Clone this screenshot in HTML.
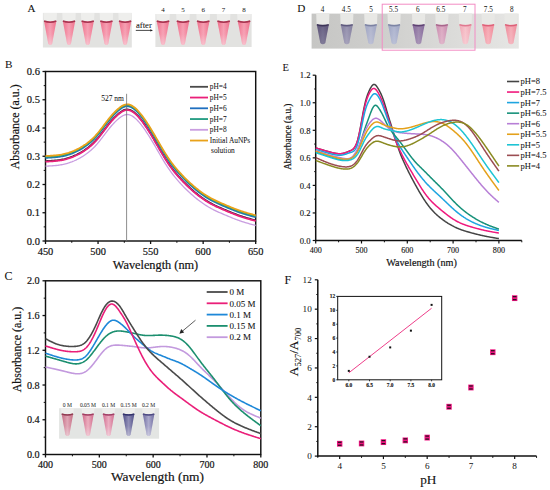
<!DOCTYPE html><html><head><meta charset="utf-8"><style>html,body{margin:0;padding:0;background:#fff;width:550px;height:490px;overflow:hidden}svg{display:block}text{stroke:#1a1a1a;stroke-width:0.2px}</style></head><body>
<svg width="550" height="490" viewBox="0 0 550 490" style="font-family:'Liberation Serif',serif">
<rect width="550" height="490" fill="#fff"/>
<defs><filter id="blr" x="-5%" y="-5%" width="110%" height="110%"><feGaussianBlur stdDeviation="0.55"/></filter></defs>
<g fill="#111">
<text x="27.6" y="12.2" font-size="11" text-anchor="start" style="stroke-width:0.05px" >A</text>
<text x="5" y="67.8" font-size="11.2" text-anchor="start" style="stroke-width:0.05px" >B</text>
<text x="4.5" y="280.2" font-size="12" text-anchor="start" style="stroke-width:0.05px" >C</text>
<text x="297.2" y="11.8" font-size="11.2" text-anchor="start" style="stroke-width:0.05px" >D</text>
<text x="282.5" y="70.9" font-size="10.5" text-anchor="start" style="stroke-width:0.05px" >E</text>
<text x="284.6" y="283.7" font-size="12" text-anchor="start" style="stroke-width:0.1px" >F</text>
</g>
<g filter="url(#blr)">
<rect x="42.9" y="12.9" width="88.9" height="34.6" fill="#e2e2e0"/>
<path d="M43.45,12.9 L56.95,12.9 L56.55,21.2 L43.85,21.2 Z" fill="#eeeeec"/>
<defs><linearGradient id="ga0" x1="0" y1="0" x2="1" y2="0"><stop offset="0" stop-color="#f06e8a"/><stop offset="0.5" stop-color="#f59cb0"/><stop offset="1" stop-color="#f06e8a"/></linearGradient><linearGradient id="ga0v" x1="0" y1="0" x2="0" y2="1"><stop offset="0" stop-color="#fff" stop-opacity="0"/><stop offset="0.55" stop-color="#fff" stop-opacity="0.08"/><stop offset="1" stop-color="#fff" stop-opacity="0.38"/></linearGradient></defs>
<path d="M44.05,21.2 L56.35,21.2 L52.1,43.7 Q50.2,46.1 48.3,43.7 Z" fill="url(#ga0)"/>
<path d="M44.05,21.2 L56.35,21.2 L52.1,43.7 Q50.2,46.1 48.3,43.7 Z" fill="url(#ga0v)"/>
<path d="M44.05,21 Q50.2,23.4 56.35,21" stroke="#a83450" stroke-width="1.4" fill="none"/>
<path d="M62.25,12.9 L75.75,12.9 L75.35,21.2 L62.65,21.2 Z" fill="#eeeeec"/>
<defs><linearGradient id="ga1" x1="0" y1="0" x2="1" y2="0"><stop offset="0" stop-color="#f06e8a"/><stop offset="0.5" stop-color="#f59cb0"/><stop offset="1" stop-color="#f06e8a"/></linearGradient><linearGradient id="ga1v" x1="0" y1="0" x2="0" y2="1"><stop offset="0" stop-color="#fff" stop-opacity="0"/><stop offset="0.55" stop-color="#fff" stop-opacity="0.08"/><stop offset="1" stop-color="#fff" stop-opacity="0.38"/></linearGradient></defs>
<path d="M62.85,21.2 L75.15,21.2 L70.9,43.7 Q69,46.1 67.1,43.7 Z" fill="url(#ga1)"/>
<path d="M62.85,21.2 L75.15,21.2 L70.9,43.7 Q69,46.1 67.1,43.7 Z" fill="url(#ga1v)"/>
<path d="M62.85,21 Q69,23.4 75.15,21" stroke="#a83450" stroke-width="1.4" fill="none"/>
<path d="M80.95,12.9 L94.45,12.9 L94.05,21.2 L81.35,21.2 Z" fill="#eeeeec"/>
<defs><linearGradient id="ga2" x1="0" y1="0" x2="1" y2="0"><stop offset="0" stop-color="#f06e8a"/><stop offset="0.5" stop-color="#f59cb0"/><stop offset="1" stop-color="#f06e8a"/></linearGradient><linearGradient id="ga2v" x1="0" y1="0" x2="0" y2="1"><stop offset="0" stop-color="#fff" stop-opacity="0"/><stop offset="0.55" stop-color="#fff" stop-opacity="0.08"/><stop offset="1" stop-color="#fff" stop-opacity="0.38"/></linearGradient></defs>
<path d="M81.55,21.2 L93.85,21.2 L89.6,43.7 Q87.7,46.1 85.8,43.7 Z" fill="url(#ga2)"/>
<path d="M81.55,21.2 L93.85,21.2 L89.6,43.7 Q87.7,46.1 85.8,43.7 Z" fill="url(#ga2v)"/>
<path d="M81.55,21 Q87.7,23.4 93.85,21" stroke="#a83450" stroke-width="1.4" fill="none"/>
<path d="M99.65,12.9 L113.15,12.9 L112.75,21.2 L100.05,21.2 Z" fill="#eeeeec"/>
<defs><linearGradient id="ga3" x1="0" y1="0" x2="1" y2="0"><stop offset="0" stop-color="#f06e8a"/><stop offset="0.5" stop-color="#f59cb0"/><stop offset="1" stop-color="#f06e8a"/></linearGradient><linearGradient id="ga3v" x1="0" y1="0" x2="0" y2="1"><stop offset="0" stop-color="#fff" stop-opacity="0"/><stop offset="0.55" stop-color="#fff" stop-opacity="0.08"/><stop offset="1" stop-color="#fff" stop-opacity="0.38"/></linearGradient></defs>
<path d="M100.25,21.2 L112.55,21.2 L108.3,43.7 Q106.4,46.1 104.5,43.7 Z" fill="url(#ga3)"/>
<path d="M100.25,21.2 L112.55,21.2 L108.3,43.7 Q106.4,46.1 104.5,43.7 Z" fill="url(#ga3v)"/>
<path d="M100.25,21 Q106.4,23.4 112.55,21" stroke="#a83450" stroke-width="1.4" fill="none"/>
<path d="M118.35,12.9 L131.85,12.9 L131.45,21.2 L118.75,21.2 Z" fill="#eeeeec"/>
<defs><linearGradient id="ga4" x1="0" y1="0" x2="1" y2="0"><stop offset="0" stop-color="#f06e8a"/><stop offset="0.5" stop-color="#f59cb0"/><stop offset="1" stop-color="#f06e8a"/></linearGradient><linearGradient id="ga4v" x1="0" y1="0" x2="0" y2="1"><stop offset="0" stop-color="#fff" stop-opacity="0"/><stop offset="0.55" stop-color="#fff" stop-opacity="0.08"/><stop offset="1" stop-color="#fff" stop-opacity="0.38"/></linearGradient></defs>
<path d="M118.95,21.2 L131.25,21.2 L127,43.7 Q125.1,46.1 123.2,43.7 Z" fill="url(#ga4)"/>
<path d="M118.95,21.2 L131.25,21.2 L127,43.7 Q125.1,46.1 123.2,43.7 Z" fill="url(#ga4v)"/>
<path d="M118.95,21 Q125.1,23.4 131.25,21" stroke="#a83450" stroke-width="1.4" fill="none"/>
<rect x="155.4" y="14" width="96.2" height="33" fill="#e2e2e0"/>
<path d="M156.15,14 L169.85,14 L169.45,21.2 L156.55,21.2 Z" fill="#eeeeec"/>
<defs><linearGradient id="gb0" x1="0" y1="0" x2="1" y2="0"><stop offset="0" stop-color="#f06e8a"/><stop offset="0.5" stop-color="#f59cb0"/><stop offset="1" stop-color="#f06e8a"/></linearGradient><linearGradient id="gb0v" x1="0" y1="0" x2="0" y2="1"><stop offset="0" stop-color="#fff" stop-opacity="0"/><stop offset="0.55" stop-color="#fff" stop-opacity="0.08"/><stop offset="1" stop-color="#fff" stop-opacity="0.38"/></linearGradient></defs>
<path d="M156.75,21.2 L169.25,21.2 L164.9,43.7 Q163,46.1 161.1,43.7 Z" fill="url(#gb0)"/>
<path d="M156.75,21.2 L169.25,21.2 L164.9,43.7 Q163,46.1 161.1,43.7 Z" fill="url(#gb0v)"/>
<path d="M156.75,21 Q163,23.4 169.25,21" stroke="#a83450" stroke-width="1.4" fill="none"/>
<path d="M176.15,14 L189.85,14 L189.45,21.2 L176.55,21.2 Z" fill="#eeeeec"/>
<defs><linearGradient id="gb1" x1="0" y1="0" x2="1" y2="0"><stop offset="0" stop-color="#f06e8a"/><stop offset="0.5" stop-color="#f59cb0"/><stop offset="1" stop-color="#f06e8a"/></linearGradient><linearGradient id="gb1v" x1="0" y1="0" x2="0" y2="1"><stop offset="0" stop-color="#fff" stop-opacity="0"/><stop offset="0.55" stop-color="#fff" stop-opacity="0.08"/><stop offset="1" stop-color="#fff" stop-opacity="0.38"/></linearGradient></defs>
<path d="M176.75,21.2 L189.25,21.2 L184.9,43.7 Q183,46.1 181.1,43.7 Z" fill="url(#gb1)"/>
<path d="M176.75,21.2 L189.25,21.2 L184.9,43.7 Q183,46.1 181.1,43.7 Z" fill="url(#gb1v)"/>
<path d="M176.75,21 Q183,23.4 189.25,21" stroke="#a83450" stroke-width="1.4" fill="none"/>
<path d="M196.35,14 L210.05,14 L209.65,21.2 L196.75,21.2 Z" fill="#eeeeec"/>
<defs><linearGradient id="gb2" x1="0" y1="0" x2="1" y2="0"><stop offset="0" stop-color="#f06e8a"/><stop offset="0.5" stop-color="#f59cb0"/><stop offset="1" stop-color="#f06e8a"/></linearGradient><linearGradient id="gb2v" x1="0" y1="0" x2="0" y2="1"><stop offset="0" stop-color="#fff" stop-opacity="0"/><stop offset="0.55" stop-color="#fff" stop-opacity="0.08"/><stop offset="1" stop-color="#fff" stop-opacity="0.38"/></linearGradient></defs>
<path d="M196.95,21.2 L209.45,21.2 L205.1,43.7 Q203.2,46.1 201.3,43.7 Z" fill="url(#gb2)"/>
<path d="M196.95,21.2 L209.45,21.2 L205.1,43.7 Q203.2,46.1 201.3,43.7 Z" fill="url(#gb2v)"/>
<path d="M196.95,21 Q203.2,23.4 209.45,21" stroke="#a83450" stroke-width="1.4" fill="none"/>
<path d="M216.75,14 L230.45,14 L230.05,21.2 L217.15,21.2 Z" fill="#eeeeec"/>
<defs><linearGradient id="gb3" x1="0" y1="0" x2="1" y2="0"><stop offset="0" stop-color="#f06e8a"/><stop offset="0.5" stop-color="#f59cb0"/><stop offset="1" stop-color="#f06e8a"/></linearGradient><linearGradient id="gb3v" x1="0" y1="0" x2="0" y2="1"><stop offset="0" stop-color="#fff" stop-opacity="0"/><stop offset="0.55" stop-color="#fff" stop-opacity="0.08"/><stop offset="1" stop-color="#fff" stop-opacity="0.38"/></linearGradient></defs>
<path d="M217.35,21.2 L229.85,21.2 L225.5,43.7 Q223.6,46.1 221.7,43.7 Z" fill="url(#gb3)"/>
<path d="M217.35,21.2 L229.85,21.2 L225.5,43.7 Q223.6,46.1 221.7,43.7 Z" fill="url(#gb3v)"/>
<path d="M217.35,21 Q223.6,23.4 229.85,21" stroke="#a83450" stroke-width="1.4" fill="none"/>
<path d="M237.15,14 L250.85,14 L250.45,21.2 L237.55,21.2 Z" fill="#eeeeec"/>
<defs><linearGradient id="gb4" x1="0" y1="0" x2="1" y2="0"><stop offset="0" stop-color="#f06e8a"/><stop offset="0.5" stop-color="#f59cb0"/><stop offset="1" stop-color="#f06e8a"/></linearGradient><linearGradient id="gb4v" x1="0" y1="0" x2="0" y2="1"><stop offset="0" stop-color="#fff" stop-opacity="0"/><stop offset="0.55" stop-color="#fff" stop-opacity="0.08"/><stop offset="1" stop-color="#fff" stop-opacity="0.38"/></linearGradient></defs>
<path d="M237.75,21.2 L250.25,21.2 L245.9,43.7 Q244,46.1 242.1,43.7 Z" fill="url(#gb4)"/>
<path d="M237.75,21.2 L250.25,21.2 L245.9,43.7 Q244,46.1 242.1,43.7 Z" fill="url(#gb4v)"/>
<path d="M237.75,21 Q244,23.4 250.25,21" stroke="#a83450" stroke-width="1.4" fill="none"/>
</g>
<g fill="#111">
<text x="143.9" y="27.6" font-size="8.6" text-anchor="middle" style="stroke-width:0.05px" >after</text>
<text x="163" y="12.2" font-size="7" text-anchor="middle" style="stroke-width:0px" >4</text>
<text x="183" y="12.2" font-size="7" text-anchor="middle" style="stroke-width:0px" >5</text>
<text x="203.2" y="12.2" font-size="7" text-anchor="middle" style="stroke-width:0px" >6</text>
<text x="223.6" y="12.2" font-size="7" text-anchor="middle" style="stroke-width:0px" >7</text>
<text x="244" y="12.2" font-size="7" text-anchor="middle" style="stroke-width:0px" >8</text>
</g>
<line x1="135.8" y1="30.4" x2="151.5" y2="30.4" stroke="#333" stroke-width="0.9"/>
<path d="M150.3,29.2 L153,30.4 L150.3,31.6 Z" fill="#222"/>
<defs><linearGradient id="dbg" x1="0" y1="0" x2="1" y2="0"><stop offset="0" stop-color="#c6c6c4"/><stop offset="0.35" stop-color="#cfcfcd"/><stop offset="0.65" stop-color="#dadad8"/><stop offset="1" stop-color="#e6e6e4"/></linearGradient></defs>
<g filter="url(#blr)">
<rect x="311.6" y="13.6" width="207.2" height="35" fill="url(#dbg)"/>
<path d="M316.2,13.6 L329.4,13.6 L329,24.8 L316.6,24.8 Z" fill="#e8e8e5"/>
<defs><linearGradient id="gd0" x1="0" y1="0" x2="1" y2="0"><stop offset="0" stop-color="#5c5276"/><stop offset="0.5" stop-color="#6c6688"/><stop offset="1" stop-color="#5c5276"/></linearGradient><linearGradient id="gd0v" x1="0" y1="0" x2="0" y2="1"><stop offset="0" stop-color="#fff" stop-opacity="0"/><stop offset="0.55" stop-color="#fff" stop-opacity="0.08"/><stop offset="1" stop-color="#fff" stop-opacity="0.15"/></linearGradient></defs>
<path d="M316.8,24.8 L328.8,24.8 L325.3,43 Q322.8,45.4 320.3,43 Z" fill="url(#gd0)"/>
<path d="M316.8,24.8 L328.8,24.8 L325.3,43 Q322.8,45.4 320.3,43 Z" fill="url(#gd0v)"/>
<path d="M316.8,24.6 Q322.8,27 328.8,24.6" stroke="#3e3458" stroke-width="1.4" fill="none"/>
<path d="M340.2,13.6 L353.4,13.6 L353,24.8 L340.6,24.8 Z" fill="#e8e8e5"/>
<defs><linearGradient id="gd1" x1="0" y1="0" x2="1" y2="0"><stop offset="0" stop-color="#817c9c"/><stop offset="0.5" stop-color="#9894b0"/><stop offset="1" stop-color="#817c9c"/></linearGradient><linearGradient id="gd1v" x1="0" y1="0" x2="0" y2="1"><stop offset="0" stop-color="#fff" stop-opacity="0"/><stop offset="0.55" stop-color="#fff" stop-opacity="0.08"/><stop offset="1" stop-color="#fff" stop-opacity="0.15"/></linearGradient></defs>
<path d="M340.8,24.8 L352.8,24.8 L349.3,43 Q346.8,45.4 344.3,43 Z" fill="url(#gd1)"/>
<path d="M340.8,24.8 L352.8,24.8 L349.3,43 Q346.8,45.4 344.3,43 Z" fill="url(#gd1v)"/>
<path d="M340.8,24.6 Q346.8,27 352.8,24.6" stroke="#5f5a7e" stroke-width="1.4" fill="none"/>
<path d="M364.2,13.6 L377.4,13.6 L377,24.8 L364.6,24.8 Z" fill="#e8e8e5"/>
<defs><linearGradient id="gd2" x1="0" y1="0" x2="1" y2="0"><stop offset="0" stop-color="#9ea4c2"/><stop offset="0.5" stop-color="#b2b6ce"/><stop offset="1" stop-color="#9ea4c2"/></linearGradient><linearGradient id="gd2v" x1="0" y1="0" x2="0" y2="1"><stop offset="0" stop-color="#fff" stop-opacity="0"/><stop offset="0.55" stop-color="#fff" stop-opacity="0.08"/><stop offset="1" stop-color="#fff" stop-opacity="0.15"/></linearGradient></defs>
<path d="M364.8,24.8 L376.8,24.8 L373.3,43 Q370.8,45.4 368.3,43 Z" fill="url(#gd2)"/>
<path d="M364.8,24.8 L376.8,24.8 L373.3,43 Q370.8,45.4 368.3,43 Z" fill="url(#gd2v)"/>
<path d="M364.8,24.6 Q370.8,27 376.8,24.6" stroke="#7c82a2" stroke-width="1.4" fill="none"/>
<path d="M387.5,13.6 L400.7,13.6 L400.3,24.8 L387.9,24.8 Z" fill="#e8e8e5"/>
<defs><linearGradient id="gd3" x1="0" y1="0" x2="1" y2="0"><stop offset="0" stop-color="#9ca4c2"/><stop offset="0.5" stop-color="#b0b6d0"/><stop offset="1" stop-color="#9ca4c2"/></linearGradient><linearGradient id="gd3v" x1="0" y1="0" x2="0" y2="1"><stop offset="0" stop-color="#fff" stop-opacity="0"/><stop offset="0.55" stop-color="#fff" stop-opacity="0.08"/><stop offset="1" stop-color="#fff" stop-opacity="0.15"/></linearGradient></defs>
<path d="M388.1,24.8 L400.1,24.8 L396.6,43 Q394.1,45.4 391.6,43 Z" fill="url(#gd3)"/>
<path d="M388.1,24.8 L400.1,24.8 L396.6,43 Q394.1,45.4 391.6,43 Z" fill="url(#gd3v)"/>
<path d="M388.1,24.6 Q394.1,27 400.1,24.6" stroke="#7c84a4" stroke-width="1.4" fill="none"/>
<path d="M412,13.6 L425.2,13.6 L424.8,24.8 L412.4,24.8 Z" fill="#e8e8e5"/>
<defs><linearGradient id="gd4" x1="0" y1="0" x2="1" y2="0"><stop offset="0" stop-color="#84669a"/><stop offset="0.5" stop-color="#9a84aa"/><stop offset="1" stop-color="#84669a"/></linearGradient><linearGradient id="gd4v" x1="0" y1="0" x2="0" y2="1"><stop offset="0" stop-color="#fff" stop-opacity="0"/><stop offset="0.55" stop-color="#fff" stop-opacity="0.08"/><stop offset="1" stop-color="#fff" stop-opacity="0.15"/></linearGradient></defs>
<path d="M412.6,24.8 L424.6,24.8 L421.1,43 Q418.6,45.4 416.1,43 Z" fill="url(#gd4)"/>
<path d="M412.6,24.8 L424.6,24.8 L421.1,43 Q418.6,45.4 416.1,43 Z" fill="url(#gd4v)"/>
<path d="M412.6,24.6 Q418.6,27 424.6,24.6" stroke="#5e4272" stroke-width="1.4" fill="none"/>
<path d="M435.3,13.6 L448.5,13.6 L448.1,24.8 L435.7,24.8 Z" fill="#e8e8e5"/>
<defs><linearGradient id="gd5" x1="0" y1="0" x2="1" y2="0"><stop offset="0" stop-color="#c88aae"/><stop offset="0.5" stop-color="#dcaac2"/><stop offset="1" stop-color="#c88aae"/></linearGradient><linearGradient id="gd5v" x1="0" y1="0" x2="0" y2="1"><stop offset="0" stop-color="#fff" stop-opacity="0"/><stop offset="0.55" stop-color="#fff" stop-opacity="0.08"/><stop offset="1" stop-color="#fff" stop-opacity="0.15"/></linearGradient></defs>
<path d="M435.9,24.8 L447.9,24.8 L444.4,43 Q441.9,45.4 439.4,43 Z" fill="url(#gd5)"/>
<path d="M435.9,24.8 L447.9,24.8 L444.4,43 Q441.9,45.4 439.4,43 Z" fill="url(#gd5v)"/>
<path d="M435.9,24.6 Q441.9,27 447.9,24.6" stroke="#a8668c" stroke-width="1.4" fill="none"/>
<path d="M458.8,13.6 L472,13.6 L471.6,24.8 L459.2,24.8 Z" fill="#e8e8e5"/>
<defs><linearGradient id="gd6" x1="0" y1="0" x2="1" y2="0"><stop offset="0" stop-color="#f0a6b4"/><stop offset="0.5" stop-color="#f6c2ca"/><stop offset="1" stop-color="#f0a6b4"/></linearGradient><linearGradient id="gd6v" x1="0" y1="0" x2="0" y2="1"><stop offset="0" stop-color="#fff" stop-opacity="0"/><stop offset="0.55" stop-color="#fff" stop-opacity="0.08"/><stop offset="1" stop-color="#fff" stop-opacity="0.15"/></linearGradient></defs>
<path d="M459.4,24.8 L471.4,24.8 L467.9,43 Q465.4,45.4 462.9,43 Z" fill="url(#gd6)"/>
<path d="M459.4,24.8 L471.4,24.8 L467.9,43 Q465.4,45.4 462.9,43 Z" fill="url(#gd6v)"/>
<path d="M459.4,24.6 Q465.4,27 471.4,24.6" stroke="#e07890" stroke-width="1.4" fill="none"/>
<path d="M481.6,13.6 L494.8,13.6 L494.4,24.8 L482,24.8 Z" fill="#e8e8e5"/>
<defs><linearGradient id="gd7" x1="0" y1="0" x2="1" y2="0"><stop offset="0" stop-color="#f08696"/><stop offset="0.5" stop-color="#f6aab4"/><stop offset="1" stop-color="#f08696"/></linearGradient><linearGradient id="gd7v" x1="0" y1="0" x2="0" y2="1"><stop offset="0" stop-color="#fff" stop-opacity="0"/><stop offset="0.55" stop-color="#fff" stop-opacity="0.08"/><stop offset="1" stop-color="#fff" stop-opacity="0.15"/></linearGradient></defs>
<path d="M482.2,24.8 L494.2,24.8 L490.7,43 Q488.2,45.4 485.7,43 Z" fill="url(#gd7)"/>
<path d="M482.2,24.8 L494.2,24.8 L490.7,43 Q488.2,45.4 485.7,43 Z" fill="url(#gd7v)"/>
<path d="M482.2,24.6 Q488.2,27 494.2,24.6" stroke="#de6078" stroke-width="1.4" fill="none"/>
<path d="M504.4,13.6 L517.6,13.6 L517.2,24.8 L504.8,24.8 Z" fill="#e8e8e5"/>
<defs><linearGradient id="gd8" x1="0" y1="0" x2="1" y2="0"><stop offset="0" stop-color="#ee8898"/><stop offset="0.5" stop-color="#f4acb6"/><stop offset="1" stop-color="#ee8898"/></linearGradient><linearGradient id="gd8v" x1="0" y1="0" x2="0" y2="1"><stop offset="0" stop-color="#fff" stop-opacity="0"/><stop offset="0.55" stop-color="#fff" stop-opacity="0.08"/><stop offset="1" stop-color="#fff" stop-opacity="0.15"/></linearGradient></defs>
<path d="M505,24.8 L517,24.8 L513.5,43 Q511,45.4 508.5,43 Z" fill="url(#gd8)"/>
<path d="M505,24.8 L517,24.8 L513.5,43 Q511,45.4 508.5,43 Z" fill="url(#gd8v)"/>
<path d="M505,24.6 Q511,27 517,24.6" stroke="#dc6078" stroke-width="1.4" fill="none"/>
</g>
<rect x="382.2" y="4.2" width="92.8" height="46" fill="none" stroke="#f38cc4" stroke-width="1"/>
<g fill="#111">
<text x="322.6" y="11.8" font-size="7.2" text-anchor="middle" style="stroke-width:0px" >4</text>
<text x="346.3" y="11.8" font-size="7.2" text-anchor="middle" style="stroke-width:0px" >4.5</text>
<text x="371" y="11.8" font-size="7.2" text-anchor="middle" style="stroke-width:0px" >5</text>
<text x="393.5" y="11.8" font-size="7.2" text-anchor="middle" style="stroke-width:0px" >5.5</text>
<text x="417.9" y="11.8" font-size="7.2" text-anchor="middle" style="stroke-width:0px" >6</text>
<text x="440.8" y="11.8" font-size="7.2" text-anchor="middle" style="stroke-width:0px" >6.5</text>
<text x="464.8" y="11.8" font-size="7.2" text-anchor="middle" style="stroke-width:0px" >7</text>
<text x="488.3" y="11.8" font-size="7.2" text-anchor="middle" style="stroke-width:0px" >7.5</text>
<text x="511.8" y="11.8" font-size="7.2" text-anchor="middle" style="stroke-width:0px" >8</text>
</g>
<rect x="45.5" y="71.5" width="210.2" height="169.5" fill="none" stroke="#111" stroke-width="1.45"/>
<g fill="#111">
<line x1="42.5" y1="241" x2="45.5" y2="241" stroke="#111" stroke-width="1.3"/>
<text x="39.9" y="244.6" font-size="10.5" text-anchor="end" style="stroke-width:0.2px" >0.0</text>
<line x1="42.5" y1="212.75" x2="45.5" y2="212.75" stroke="#111" stroke-width="1.3"/>
<text x="39.9" y="216.35" font-size="10.5" text-anchor="end" style="stroke-width:0.2px" >0.1</text>
<line x1="42.5" y1="184.5" x2="45.5" y2="184.5" stroke="#111" stroke-width="1.3"/>
<text x="39.9" y="188.1" font-size="10.5" text-anchor="end" style="stroke-width:0.2px" >0.2</text>
<line x1="42.5" y1="156.25" x2="45.5" y2="156.25" stroke="#111" stroke-width="1.3"/>
<text x="39.9" y="159.85" font-size="10.5" text-anchor="end" style="stroke-width:0.2px" >0.3</text>
<line x1="42.5" y1="128" x2="45.5" y2="128" stroke="#111" stroke-width="1.3"/>
<text x="39.9" y="131.6" font-size="10.5" text-anchor="end" style="stroke-width:0.2px" >0.4</text>
<line x1="42.5" y1="99.75" x2="45.5" y2="99.75" stroke="#111" stroke-width="1.3"/>
<text x="39.9" y="103.35" font-size="10.5" text-anchor="end" style="stroke-width:0.2px" >0.5</text>
<line x1="42.5" y1="71.5" x2="45.5" y2="71.5" stroke="#111" stroke-width="1.3"/>
<text x="39.9" y="75.1" font-size="10.5" text-anchor="end" style="stroke-width:0.2px" >0.6</text>
<line x1="45.5" y1="226.88" x2="43.7" y2="226.88" stroke="#111" stroke-width="1"/>
<line x1="45.5" y1="198.62" x2="43.7" y2="198.62" stroke="#111" stroke-width="1"/>
<line x1="45.5" y1="170.38" x2="43.7" y2="170.38" stroke="#111" stroke-width="1"/>
<line x1="45.5" y1="142.12" x2="43.7" y2="142.12" stroke="#111" stroke-width="1"/>
<line x1="45.5" y1="113.88" x2="43.7" y2="113.88" stroke="#111" stroke-width="1"/>
<line x1="45.5" y1="85.62" x2="43.7" y2="85.62" stroke="#111" stroke-width="1"/>
<line x1="45.5" y1="241" x2="45.5" y2="244" stroke="#111" stroke-width="1.3"/>
<text x="45.5" y="254.8" font-size="10.4" text-anchor="middle" style="stroke-width:0.2px" >450</text>
<line x1="98.05" y1="241" x2="98.05" y2="244" stroke="#111" stroke-width="1.3"/>
<text x="98.05" y="254.8" font-size="10.4" text-anchor="middle" style="stroke-width:0.2px" >500</text>
<line x1="150.6" y1="241" x2="150.6" y2="244" stroke="#111" stroke-width="1.3"/>
<text x="150.6" y="254.8" font-size="10.4" text-anchor="middle" style="stroke-width:0.2px" >550</text>
<line x1="203.15" y1="241" x2="203.15" y2="244" stroke="#111" stroke-width="1.3"/>
<text x="203.15" y="254.8" font-size="10.4" text-anchor="middle" style="stroke-width:0.2px" >600</text>
<line x1="255.7" y1="241" x2="255.7" y2="244" stroke="#111" stroke-width="1.3"/>
<text x="255.7" y="254.8" font-size="10.4" text-anchor="middle" style="stroke-width:0.2px" >650</text>
<line x1="71.78" y1="241" x2="71.78" y2="242.8" stroke="#111" stroke-width="1"/>
<line x1="124.32" y1="241" x2="124.32" y2="242.8" stroke="#111" stroke-width="1"/>
<line x1="176.88" y1="241" x2="176.88" y2="242.8" stroke="#111" stroke-width="1"/>
<line x1="229.42" y1="241" x2="229.42" y2="242.8" stroke="#111" stroke-width="1"/>
<text x="155.5" y="268.9" font-size="12.3" text-anchor="middle">Wavelength (nm)</text>
<text transform="translate(19.4,126.8) rotate(-90)" font-size="11.9" text-anchor="middle">Absorbance (a.u.)</text>
</g>
<path d="M45.5,166.21 L46.55,166.14 L47.6,166.08 L48.65,166.02 L49.7,165.96 L50.76,165.9 L51.81,165.83 L52.86,165.76 L53.91,165.68 L54.96,165.59 L56.01,165.49 L57.06,165.37 L58.11,165.25 L59.16,165.1 L60.21,164.94 L61.27,164.76 L62.32,164.57 L63.37,164.35 L64.42,164.11 L65.47,163.85 L66.52,163.57 L67.57,163.27 L68.62,162.95 L69.67,162.6 L70.72,162.23 L71.78,161.84 L72.83,161.42 L73.88,160.99 L74.93,160.52 L75.98,160.04 L77.03,159.53 L78.08,159 L79.13,158.45 L80.18,157.87 L81.23,157.27 L82.28,156.64 L83.34,155.98 L84.39,155.29 L85.44,154.58 L86.49,153.83 L87.54,153.04 L88.59,152.22 L89.64,151.37 L90.69,150.47 L91.74,149.53 L92.8,148.54 L93.85,147.51 L94.9,146.43 L95.95,145.3 L97,144.13 L98.05,142.9 L99.1,141.63 L100.15,140.32 L101.2,138.97 L102.25,137.59 L103.31,136.2 L104.36,134.8 L105.41,133.4 L106.46,132.02 L107.51,130.65 L108.56,129.32 L109.61,128.02 L110.66,126.76 L111.71,125.55 L112.76,124.38 L113.81,123.25 L114.87,122.16 L115.92,121.12 L116.97,120.12 L118.02,119.18 L119.07,118.29 L120.12,117.46 L121.17,116.71 L122.22,116.05 L123.27,115.5 L124.32,115.05 L125.38,114.74 L126.43,114.56 L127.48,114.52 L128.53,114.63 L129.58,114.87 L130.63,115.25 L131.68,115.76 L132.73,116.38 L133.78,117.12 L134.83,117.95 L135.89,118.88 L136.94,119.9 L137.99,120.99 L139.04,122.16 L140.09,123.4 L141.14,124.7 L142.19,126.06 L143.24,127.47 L144.29,128.94 L145.34,130.46 L146.4,132.02 L147.45,133.62 L148.5,135.26 L149.55,136.93 L150.6,138.63 L151.65,140.37 L152.7,142.12 L153.75,143.9 L154.8,145.7 L155.86,147.51 L156.91,149.33 L157.96,151.15 L159.01,152.97 L160.06,154.78 L161.11,156.58 L162.16,158.36 L163.21,160.12 L164.26,161.85 L165.31,163.55 L166.36,165.21 L167.42,166.82 L168.47,168.4 L169.52,169.93 L170.57,171.41 L171.62,172.85 L172.67,174.25 L173.72,175.6 L174.77,176.92 L175.82,178.2 L176.88,179.45 L177.93,180.66 L178.98,181.85 L180.03,183.01 L181.08,184.15 L182.13,185.26 L183.18,186.35 L184.23,187.43 L185.28,188.48 L186.33,189.52 L187.38,190.54 L188.44,191.54 L189.49,192.52 L190.54,193.48 L191.59,194.43 L192.64,195.36 L193.69,196.27 L194.74,197.15 L195.79,198.03 L196.84,198.88 L197.89,199.71 L198.95,200.52 L200,201.31 L201.05,202.09 L202.1,202.84 L203.15,203.57 L204.2,204.29 L205.25,204.98 L206.3,205.65 L207.35,206.3 L208.41,206.94 L209.46,207.55 L210.51,208.14 L211.56,208.71 L212.61,209.27 L213.66,209.81 L214.71,210.33 L215.76,210.84 L216.81,211.33 L217.86,211.82 L218.91,212.29 L219.97,212.76 L221.02,213.21 L222.07,213.67 L223.12,214.12 L224.17,214.56 L225.22,215.01 L226.27,215.45 L227.32,215.89 L228.37,216.33 L229.42,216.77 L230.48,217.2 L231.53,217.63 L232.58,218.06 L233.63,218.48 L234.68,218.89 L235.73,219.3 L236.78,219.7 L237.83,220.08 L238.88,220.46 L239.94,220.83 L240.99,221.19 L242.04,221.54 L243.09,221.88 L244.14,222.21 L245.19,222.53 L246.24,222.85 L247.29,223.16 L248.34,223.46 L249.39,223.76 L250.44,224.05 L251.5,224.34 L252.55,224.63 L253.6,224.92 L254.65,225.21 L255.7,225.5" fill="none" stroke="#c99de0" stroke-width="1.3"/>
<path d="M45.5,161.12 L46.55,161.05 L47.6,160.99 L48.65,160.93 L49.7,160.87 L50.76,160.81 L51.81,160.75 L52.86,160.68 L53.91,160.6 L54.96,160.51 L56.01,160.4 L57.06,160.29 L58.11,160.16 L59.16,160.02 L60.21,159.86 L61.27,159.68 L62.32,159.48 L63.37,159.26 L64.42,159.03 L65.47,158.77 L66.52,158.49 L67.57,158.18 L68.62,157.86 L69.67,157.51 L70.72,157.14 L71.78,156.75 L72.83,156.34 L73.88,155.9 L74.93,155.44 L75.98,154.96 L77.03,154.45 L78.08,153.92 L79.13,153.36 L80.18,152.79 L81.23,152.18 L82.28,151.55 L83.34,150.89 L84.39,150.21 L85.44,149.49 L86.49,148.74 L87.54,147.96 L88.59,147.14 L89.64,146.28 L90.69,145.38 L91.74,144.44 L92.8,143.46 L93.85,142.42 L94.9,141.35 L95.95,140.22 L97,139.04 L98.05,137.82 L99.1,136.54 L100.15,135.23 L101.2,133.88 L102.25,132.51 L103.31,131.12 L104.36,129.71 L105.41,128.32 L106.46,126.93 L107.51,125.57 L108.56,124.23 L109.61,122.94 L110.66,121.68 L111.71,120.46 L112.76,119.29 L113.81,118.16 L114.87,117.07 L115.92,116.03 L116.97,115.04 L118.02,114.09 L119.07,113.2 L120.12,112.38 L121.17,111.63 L122.22,110.97 L123.27,110.41 L124.32,109.97 L125.38,109.66 L126.43,109.48 L127.48,109.44 L128.53,109.54 L129.58,109.79 L130.63,110.17 L131.68,110.67 L132.73,111.3 L133.78,112.03 L134.83,112.87 L135.89,113.8 L136.94,114.81 L137.99,115.91 L139.04,117.07 L140.09,118.31 L141.14,119.61 L142.19,120.97 L143.24,122.39 L144.29,123.86 L145.34,125.37 L146.4,126.93 L147.45,128.53 L148.5,130.17 L149.55,131.84 L150.6,133.55 L151.65,135.28 L152.7,137.04 L153.75,138.82 L154.8,140.62 L155.86,142.42 L156.91,144.24 L157.96,146.06 L159.01,147.88 L160.06,149.7 L161.11,151.5 L162.16,153.28 L163.21,155.04 L164.26,156.77 L165.31,158.46 L166.36,160.12 L167.42,161.74 L168.47,163.31 L169.52,164.84 L170.57,166.33 L171.62,167.77 L172.67,169.16 L173.72,170.52 L174.77,171.84 L175.82,173.12 L176.88,174.36 L177.93,175.58 L178.98,176.76 L180.03,177.92 L181.08,179.06 L182.13,180.17 L183.18,181.27 L184.23,182.34 L185.28,183.4 L186.33,184.43 L187.38,185.45 L188.44,186.45 L189.49,187.44 L190.54,188.4 L191.59,189.35 L192.64,190.27 L193.69,191.18 L194.74,192.07 L195.79,192.94 L196.84,193.79 L197.89,194.62 L198.95,195.44 L200,196.23 L201.05,197 L202.1,197.76 L203.15,198.49 L204.2,199.2 L205.25,199.9 L206.3,200.57 L207.35,201.22 L208.41,201.85 L209.46,202.46 L210.51,203.06 L211.56,203.63 L212.61,204.18 L213.66,204.72 L214.71,205.25 L215.76,205.75 L216.81,206.25 L217.86,206.73 L218.91,207.2 L219.97,207.67 L221.02,208.13 L222.07,208.58 L223.12,209.03 L224.17,209.48 L225.22,209.92 L226.27,210.36 L227.32,210.81 L228.37,211.25 L229.42,211.68 L230.48,212.12 L231.53,212.55 L232.58,212.97 L233.63,213.39 L234.68,213.81 L235.73,214.21 L236.78,214.61 L237.83,215 L238.88,215.38 L239.94,215.75 L240.99,216.11 L242.04,216.46 L243.09,216.8 L244.14,217.13 L245.19,217.45 L246.24,217.76 L247.29,218.07 L248.34,218.37 L249.39,218.67 L250.44,218.96 L251.5,219.25 L252.55,219.54 L253.6,219.83 L254.65,220.12 L255.7,220.41" fill="none" stroke="#2e2e2e" stroke-width="1.8"/>
<path d="M45.5,161.69 L46.55,161.62 L47.6,161.56 L48.65,161.5 L49.7,161.44 L50.76,161.38 L51.81,161.31 L52.86,161.24 L53.91,161.16 L54.96,161.07 L56.01,160.97 L57.06,160.85 L58.11,160.73 L59.16,160.58 L60.21,160.42 L61.27,160.24 L62.32,160.05 L63.37,159.83 L64.42,159.59 L65.47,159.33 L66.52,159.05 L67.57,158.75 L68.62,158.43 L69.67,158.08 L70.72,157.71 L71.78,157.32 L72.83,156.9 L73.88,156.47 L74.93,156 L75.98,155.52 L77.03,155.01 L78.08,154.48 L79.13,153.93 L80.18,153.35 L81.23,152.75 L82.28,152.12 L83.34,151.46 L84.39,150.77 L85.44,150.06 L86.49,149.31 L87.54,148.52 L88.59,147.7 L89.64,146.85 L90.69,145.95 L91.74,145.01 L92.8,144.02 L93.85,142.99 L94.9,141.91 L95.95,140.78 L97,139.61 L98.05,138.38 L99.1,137.11 L100.15,135.8 L101.2,134.45 L102.25,133.07 L103.31,131.68 L104.36,130.28 L105.41,128.88 L106.46,127.5 L107.51,126.13 L108.56,124.8 L109.61,123.5 L110.66,122.24 L111.71,121.03 L112.76,119.86 L113.81,118.73 L114.87,117.64 L115.92,116.6 L116.97,115.6 L118.02,114.66 L119.07,113.77 L120.12,112.94 L121.17,112.19 L122.22,111.53 L123.27,110.98 L124.32,110.53 L125.38,110.22 L126.43,110.04 L127.48,110 L128.53,110.11 L129.58,110.35 L130.63,110.73 L131.68,111.24 L132.73,111.86 L133.78,112.6 L134.83,113.43 L135.89,114.36 L136.94,115.38 L137.99,116.47 L139.04,117.64 L140.09,118.88 L141.14,120.18 L142.19,121.54 L143.24,122.95 L144.29,124.42 L145.34,125.94 L146.4,127.5 L147.45,129.1 L148.5,130.74 L149.55,132.41 L150.6,134.11 L151.65,135.85 L152.7,137.6 L153.75,139.38 L154.8,141.18 L155.86,142.99 L156.91,144.81 L157.96,146.63 L159.01,148.45 L160.06,150.26 L161.11,152.06 L162.16,153.84 L163.21,155.6 L164.26,157.33 L165.31,159.03 L166.36,160.69 L167.42,162.3 L168.47,163.88 L169.52,165.41 L170.57,166.89 L171.62,168.33 L172.67,169.73 L173.72,171.08 L174.77,172.4 L175.82,173.68 L176.88,174.93 L177.93,176.14 L178.98,177.33 L180.03,178.49 L181.08,179.63 L182.13,180.74 L183.18,181.83 L184.23,182.91 L185.28,183.96 L186.33,185 L187.38,186.02 L188.44,187.02 L189.49,188 L190.54,188.96 L191.59,189.91 L192.64,190.84 L193.69,191.75 L194.74,192.63 L195.79,193.51 L196.84,194.36 L197.89,195.19 L198.95,196 L200,196.79 L201.05,197.57 L202.1,198.32 L203.15,199.05 L204.2,199.77 L205.25,200.46 L206.3,201.13 L207.35,201.78 L208.41,202.42 L209.46,203.03 L210.51,203.62 L211.56,204.19 L212.61,204.75 L213.66,205.29 L214.71,205.81 L215.76,206.32 L216.81,206.81 L217.86,207.3 L218.91,207.77 L219.97,208.24 L221.02,208.69 L222.07,209.15 L223.12,209.6 L224.17,210.04 L225.22,210.49 L226.27,210.93 L227.32,211.37 L228.37,211.81 L229.42,212.25 L230.48,212.68 L231.53,213.11 L232.58,213.54 L233.63,213.96 L234.68,214.37 L235.73,214.78 L236.78,215.18 L237.83,215.56 L238.88,215.94 L239.94,216.31 L240.99,216.67 L242.04,217.02 L243.09,217.36 L244.14,217.69 L245.19,218.01 L246.24,218.33 L247.29,218.64 L248.34,218.94 L249.39,219.24 L250.44,219.53 L251.5,219.82 L252.55,220.11 L253.6,220.4 L254.65,220.69 L255.7,220.98" fill="none" stroke="#ea1f79" stroke-width="1.8"/>
<path d="M45.5,158.01 L46.55,157.95 L47.6,157.88 L48.65,157.82 L49.7,157.77 L50.76,157.7 L51.81,157.64 L52.86,157.57 L53.91,157.49 L54.96,157.4 L56.01,157.3 L57.06,157.18 L58.11,157.05 L59.16,156.91 L60.21,156.75 L61.27,156.57 L62.32,156.37 L63.37,156.16 L64.42,155.92 L65.47,155.66 L66.52,155.38 L67.57,155.08 L68.62,154.75 L69.67,154.41 L70.72,154.04 L71.78,153.65 L72.83,153.23 L73.88,152.79 L74.93,152.33 L75.98,151.85 L77.03,151.34 L78.08,150.81 L79.13,150.26 L80.18,149.68 L81.23,149.07 L82.28,148.44 L83.34,147.79 L84.39,147.1 L85.44,146.38 L86.49,145.63 L87.54,144.85 L88.59,144.03 L89.64,143.17 L90.69,142.27 L91.74,141.33 L92.8,140.35 L93.85,139.32 L94.9,138.24 L95.95,137.11 L97,135.93 L98.05,134.71 L99.1,133.44 L100.15,132.12 L101.2,130.78 L102.25,129.4 L103.31,128.01 L104.36,126.61 L105.41,125.21 L106.46,123.82 L107.51,122.46 L108.56,121.13 L109.61,119.83 L110.66,118.57 L111.71,117.36 L112.76,116.18 L113.81,115.05 L114.87,113.97 L115.92,112.93 L116.97,111.93 L118.02,110.98 L119.07,110.09 L120.12,109.27 L121.17,108.52 L122.22,107.86 L123.27,107.3 L124.32,106.86 L125.38,106.55 L126.43,106.37 L127.48,106.33 L128.53,106.44 L129.58,106.68 L130.63,107.06 L131.68,107.56 L132.73,108.19 L133.78,108.92 L134.83,109.76 L135.89,110.69 L136.94,111.7 L137.99,112.8 L139.04,113.97 L140.09,115.2 L141.14,116.5 L142.19,117.87 L143.24,119.28 L144.29,120.75 L145.34,122.26 L146.4,123.82 L147.45,125.42 L148.5,127.06 L149.55,128.74 L150.6,130.44 L151.65,132.17 L152.7,133.93 L153.75,135.71 L154.8,137.51 L155.86,139.32 L156.91,141.14 L157.96,142.96 L159.01,144.78 L160.06,146.59 L161.11,148.39 L162.16,150.17 L163.21,151.93 L164.26,153.66 L165.31,155.36 L166.36,157.01 L167.42,158.63 L168.47,160.21 L169.52,161.74 L170.57,163.22 L171.62,164.66 L172.67,166.06 L173.72,167.41 L174.77,168.73 L175.82,170.01 L176.88,171.25 L177.93,172.47 L178.98,173.66 L180.03,174.82 L181.08,175.95 L182.13,177.07 L183.18,178.16 L184.23,179.23 L185.28,180.29 L186.33,181.33 L187.38,182.35 L188.44,183.35 L189.49,184.33 L190.54,185.29 L191.59,186.24 L192.64,187.16 L193.69,188.07 L194.74,188.96 L195.79,189.83 L196.84,190.68 L197.89,191.52 L198.95,192.33 L200,193.12 L201.05,193.89 L202.1,194.65 L203.15,195.38 L204.2,196.09 L205.25,196.79 L206.3,197.46 L207.35,198.11 L208.41,198.74 L209.46,199.36 L210.51,199.95 L211.56,200.52 L212.61,201.08 L213.66,201.62 L214.71,202.14 L215.76,202.65 L216.81,203.14 L217.86,203.62 L218.91,204.1 L219.97,204.56 L221.02,205.02 L222.07,205.47 L223.12,205.92 L224.17,206.37 L225.22,206.81 L226.27,207.26 L227.32,207.7 L228.37,208.14 L229.42,208.57 L230.48,209.01 L231.53,209.44 L232.58,209.86 L233.63,210.29 L234.68,210.7 L235.73,211.1 L236.78,211.5 L237.83,211.89 L238.88,212.27 L239.94,212.64 L240.99,213 L242.04,213.35 L243.09,213.69 L244.14,214.02 L245.19,214.34 L246.24,214.66 L247.29,214.97 L248.34,215.27 L249.39,215.56 L250.44,215.86 L251.5,216.15 L252.55,216.43 L253.6,216.72 L254.65,217.01 L255.7,217.3" fill="none" stroke="#1f6fbf" stroke-width="1.6"/>
<path d="M45.5,157.03 L46.55,156.96 L47.6,156.89 L48.65,156.84 L49.7,156.78 L50.76,156.72 L51.81,156.65 L52.86,156.58 L53.91,156.5 L54.96,156.41 L56.01,156.31 L57.06,156.19 L58.11,156.06 L59.16,155.92 L60.21,155.76 L61.27,155.58 L62.32,155.38 L63.37,155.17 L64.42,154.93 L65.47,154.67 L66.52,154.39 L67.57,154.09 L68.62,153.76 L69.67,153.42 L70.72,153.05 L71.78,152.66 L72.83,152.24 L73.88,151.8 L74.93,151.34 L75.98,150.86 L77.03,150.35 L78.08,149.82 L79.13,149.27 L80.18,148.69 L81.23,148.08 L82.28,147.45 L83.34,146.8 L84.39,146.11 L85.44,145.39 L86.49,144.65 L87.54,143.86 L88.59,143.04 L89.64,142.18 L90.69,141.29 L91.74,140.34 L92.8,139.36 L93.85,138.33 L94.9,137.25 L95.95,136.12 L97,134.94 L98.05,133.72 L99.1,132.45 L100.15,131.14 L101.2,129.79 L102.25,128.41 L103.31,127.02 L104.36,125.62 L105.41,124.22 L106.46,122.83 L107.51,121.47 L108.56,120.14 L109.61,118.84 L110.66,117.58 L111.71,116.37 L112.76,115.19 L113.81,114.06 L114.87,112.98 L115.92,111.94 L116.97,110.94 L118.02,109.99 L119.07,109.1 L120.12,108.28 L121.17,107.53 L122.22,106.87 L123.27,106.31 L124.32,105.87 L125.38,105.56 L126.43,105.38 L127.48,105.34 L128.53,105.45 L129.58,105.69 L130.63,106.07 L131.68,106.58 L132.73,107.2 L133.78,107.94 L134.83,108.77 L135.89,109.7 L136.94,110.72 L137.99,111.81 L139.04,112.98 L140.09,114.22 L141.14,115.52 L142.19,116.88 L143.24,118.29 L144.29,119.76 L145.34,121.28 L146.4,122.84 L147.45,124.44 L148.5,126.07 L149.55,127.75 L150.6,129.45 L151.65,131.18 L152.7,132.94 L153.75,134.72 L154.8,136.52 L155.86,138.33 L156.91,140.15 L157.96,141.97 L159.01,143.79 L160.06,145.6 L161.11,147.4 L162.16,149.18 L163.21,150.94 L164.26,152.67 L165.31,154.37 L166.36,156.03 L167.42,157.64 L168.47,159.22 L169.52,160.75 L170.57,162.23 L171.62,163.67 L172.67,165.07 L173.72,166.42 L174.77,167.74 L175.82,169.02 L176.88,170.27 L177.93,171.48 L178.98,172.67 L180.03,173.83 L181.08,174.96 L182.13,176.08 L183.18,177.17 L184.23,178.25 L185.28,179.3 L186.33,180.34 L187.38,181.36 L188.44,182.36 L189.49,183.34 L190.54,184.3 L191.59,185.25 L192.64,186.18 L193.69,187.08 L194.74,187.97 L195.79,188.84 L196.84,189.7 L197.89,190.53 L198.95,191.34 L200,192.13 L201.05,192.91 L202.1,193.66 L203.15,194.39 L204.2,195.11 L205.25,195.8 L206.3,196.47 L207.35,197.12 L208.41,197.76 L209.46,198.37 L210.51,198.96 L211.56,199.53 L212.61,200.09 L213.66,200.63 L214.71,201.15 L215.76,201.66 L216.81,202.15 L217.86,202.64 L218.91,203.11 L219.97,203.57 L221.02,204.03 L222.07,204.49 L223.12,204.94 L224.17,205.38 L225.22,205.83 L226.27,206.27 L227.32,206.71 L228.37,207.15 L229.42,207.59 L230.48,208.02 L231.53,208.45 L232.58,208.88 L233.63,209.3 L234.68,209.71 L235.73,210.12 L236.78,210.51 L237.83,210.9 L238.88,211.28 L239.94,211.65 L240.99,212.01 L242.04,212.36 L243.09,212.7 L244.14,213.03 L245.19,213.35 L246.24,213.67 L247.29,213.98 L248.34,214.28 L249.39,214.58 L250.44,214.87 L251.5,215.16 L252.55,215.45 L253.6,215.73 L254.65,216.02 L255.7,216.32" fill="none" stroke="#1f9a80" stroke-width="1.7"/>
<path d="M45.5,156.04 L46.55,155.97 L47.6,155.91 L48.65,155.85 L49.7,155.79 L50.76,155.73 L51.81,155.66 L52.86,155.59 L53.91,155.51 L54.96,155.42 L56.01,155.32 L57.06,155.2 L58.11,155.08 L59.16,154.93 L60.21,154.77 L61.27,154.59 L62.32,154.4 L63.37,154.18 L64.42,153.94 L65.47,153.68 L66.52,153.4 L67.57,153.1 L68.62,152.78 L69.67,152.43 L70.72,152.06 L71.78,151.67 L72.83,151.25 L73.88,150.82 L74.93,150.35 L75.98,149.87 L77.03,149.36 L78.08,148.83 L79.13,148.28 L80.18,147.7 L81.23,147.1 L82.28,146.47 L83.34,145.81 L84.39,145.12 L85.44,144.41 L86.49,143.66 L87.54,142.87 L88.59,142.05 L89.64,141.2 L90.69,140.3 L91.74,139.36 L92.8,138.37 L93.85,137.34 L94.9,136.26 L95.95,135.13 L97,133.96 L98.05,132.73 L99.1,131.46 L100.15,130.15 L101.2,128.8 L102.25,127.42 L103.31,126.03 L104.36,124.63 L105.41,123.23 L106.46,121.85 L107.51,120.48 L108.56,119.15 L109.61,117.85 L110.66,116.59 L111.71,115.38 L112.76,114.21 L113.81,113.08 L114.87,111.99 L115.92,110.95 L116.97,109.95 L118.02,109.01 L119.07,108.12 L120.12,107.29 L121.17,106.54 L122.22,105.88 L123.27,105.33 L124.32,104.88 L125.38,104.57 L126.43,104.39 L127.48,104.35 L128.53,104.46 L129.58,104.7 L130.63,105.08 L131.68,105.59 L132.73,106.21 L133.78,106.95 L134.83,107.78 L135.89,108.71 L136.94,109.73 L137.99,110.82 L139.04,111.99 L140.09,113.23 L141.14,114.53 L142.19,115.89 L143.24,117.3 L144.29,118.77 L145.34,120.29 L146.4,121.85 L147.45,123.45 L148.5,125.09 L149.55,126.76 L150.6,128.46 L151.65,130.2 L152.7,131.95 L153.75,133.73 L154.8,135.53 L155.86,137.34 L156.91,139.16 L157.96,140.98 L159.01,142.8 L160.06,144.61 L161.11,146.41 L162.16,148.19 L163.21,149.95 L164.26,151.68 L165.31,153.38 L166.36,155.04 L167.42,156.65 L168.47,158.23 L169.52,159.76 L170.57,161.24 L171.62,162.68 L172.67,164.08 L173.72,165.43 L174.77,166.75 L175.82,168.03 L176.88,169.28 L177.93,170.49 L178.98,171.68 L180.03,172.84 L181.08,173.98 L182.13,175.09 L183.18,176.18 L184.23,177.26 L185.28,178.31 L186.33,179.35 L187.38,180.37 L188.44,181.37 L189.49,182.35 L190.54,183.31 L191.59,184.26 L192.64,185.19 L193.69,186.1 L194.74,186.98 L195.79,187.86 L196.84,188.71 L197.89,189.54 L198.95,190.35 L200,191.14 L201.05,191.92 L202.1,192.67 L203.15,193.4 L204.2,194.12 L205.25,194.81 L206.3,195.48 L207.35,196.13 L208.41,196.77 L209.46,197.38 L210.51,197.97 L211.56,198.54 L212.61,199.1 L213.66,199.64 L214.71,200.16 L215.76,200.67 L216.81,201.16 L217.86,201.65 L218.91,202.12 L219.97,202.59 L221.02,203.04 L222.07,203.5 L223.12,203.95 L224.17,204.39 L225.22,204.84 L226.27,205.28 L227.32,205.72 L228.37,206.16 L229.42,206.6 L230.48,207.03 L231.53,207.46 L232.58,207.89 L233.63,208.31 L234.68,208.72 L235.73,209.13 L236.78,209.53 L237.83,209.91 L238.88,210.29 L239.94,210.66 L240.99,211.02 L242.04,211.37 L243.09,211.71 L244.14,212.04 L245.19,212.36 L246.24,212.68 L247.29,212.99 L248.34,213.29 L249.39,213.59 L250.44,213.88 L251.5,214.17 L252.55,214.46 L253.6,214.75 L254.65,215.04 L255.7,215.33" fill="none" stroke="#e9a21a" stroke-width="1.8"/>
<line x1="126.6" y1="93.8" x2="126.6" y2="241" stroke="#707070" stroke-width="0.8"/>
<g fill="#111">
<text x="112.6" y="101" font-size="7.5" text-anchor="middle" style="stroke-width:0.04px" >527 nm</text>
<line x1="190" y1="86.8" x2="208" y2="86.8" stroke="#4a4a4a" stroke-width="1.8"/>
<text x="209.8" y="89.3" font-size="7.4" text-anchor="start" style="stroke-width:0.04px" >pH=4</text>
<line x1="190" y1="97.55" x2="208" y2="97.55" stroke="#ea1f79" stroke-width="1.8"/>
<text x="209.8" y="100.05" font-size="7.4" text-anchor="start" style="stroke-width:0.04px" >pH=5</text>
<line x1="190" y1="108.3" x2="208" y2="108.3" stroke="#1f6fbf" stroke-width="1.8"/>
<text x="209.8" y="110.8" font-size="7.4" text-anchor="start" style="stroke-width:0.04px" >pH=6</text>
<line x1="190" y1="119.05" x2="208" y2="119.05" stroke="#1f9a80" stroke-width="1.8"/>
<text x="209.8" y="121.55" font-size="7.4" text-anchor="start" style="stroke-width:0.04px" >pH=7</text>
<line x1="190" y1="129.8" x2="208" y2="129.8" stroke="#c99de0" stroke-width="1.8"/>
<text x="209.8" y="132.3" font-size="7.4" text-anchor="start" style="stroke-width:0.04px" >pH=8</text>
<line x1="190" y1="140.55" x2="208" y2="140.55" stroke="#e9a21a" stroke-width="1.8"/>
<text x="209.8" y="143.05" font-size="7.4" text-anchor="start" style="stroke-width:0.04px" >Initial AuNPs</text>
<text x="211" y="152.6" font-size="7.4" text-anchor="start" style="stroke-width:0.04px" >solution</text>
</g>
<line x1="315.7" y1="75.2" x2="315.7" y2="241.1" stroke="#111" stroke-width="1.5"/>
<line x1="315.1" y1="240.5" x2="521.8" y2="240.5" stroke="#111" stroke-width="1.5"/>
<g fill="#111">
<line x1="312.7" y1="240.5" x2="315.7" y2="240.5" stroke="#111" stroke-width="1.2"/>
<text x="310.5" y="243.7" font-size="8.6" text-anchor="end" style="stroke-width:0.12px" >0.0</text>
<line x1="312.7" y1="212.95" x2="315.7" y2="212.95" stroke="#111" stroke-width="1.2"/>
<text x="310.5" y="216.15" font-size="8.6" text-anchor="end" style="stroke-width:0.12px" >0.2</text>
<line x1="312.7" y1="185.4" x2="315.7" y2="185.4" stroke="#111" stroke-width="1.2"/>
<text x="310.5" y="188.6" font-size="8.6" text-anchor="end" style="stroke-width:0.12px" >0.4</text>
<line x1="312.7" y1="157.85" x2="315.7" y2="157.85" stroke="#111" stroke-width="1.2"/>
<text x="310.5" y="161.05" font-size="8.6" text-anchor="end" style="stroke-width:0.12px" >0.6</text>
<line x1="312.7" y1="130.3" x2="315.7" y2="130.3" stroke="#111" stroke-width="1.2"/>
<text x="310.5" y="133.5" font-size="8.6" text-anchor="end" style="stroke-width:0.12px" >0.8</text>
<line x1="312.7" y1="102.75" x2="315.7" y2="102.75" stroke="#111" stroke-width="1.2"/>
<text x="310.5" y="105.95" font-size="8.6" text-anchor="end" style="stroke-width:0.12px" >1.0</text>
<line x1="312.7" y1="75.2" x2="315.7" y2="75.2" stroke="#111" stroke-width="1.2"/>
<text x="310.5" y="78.4" font-size="8.6" text-anchor="end" style="stroke-width:0.12px" >1.2</text>
<line x1="315.7" y1="226.72" x2="314.2" y2="226.72" stroke="#111" stroke-width="1"/>
<line x1="315.7" y1="199.17" x2="314.2" y2="199.17" stroke="#111" stroke-width="1"/>
<line x1="315.7" y1="171.62" x2="314.2" y2="171.62" stroke="#111" stroke-width="1"/>
<line x1="315.7" y1="144.07" x2="314.2" y2="144.07" stroke="#111" stroke-width="1"/>
<line x1="315.7" y1="116.52" x2="314.2" y2="116.52" stroke="#111" stroke-width="1"/>
<line x1="315.7" y1="88.97" x2="314.2" y2="88.97" stroke="#111" stroke-width="1"/>
<line x1="315.7" y1="240.5" x2="315.7" y2="243.5" stroke="#111" stroke-width="1.2"/>
<text x="315.7" y="252.6" font-size="8.1" text-anchor="middle" style="stroke-width:0.12px" >400</text>
<line x1="361.5" y1="240.5" x2="361.5" y2="243.5" stroke="#111" stroke-width="1.2"/>
<text x="361.5" y="252.6" font-size="8.1" text-anchor="middle" style="stroke-width:0.12px" >500</text>
<line x1="407.3" y1="240.5" x2="407.3" y2="243.5" stroke="#111" stroke-width="1.2"/>
<text x="407.3" y="252.6" font-size="8.1" text-anchor="middle" style="stroke-width:0.12px" >600</text>
<line x1="453.1" y1="240.5" x2="453.1" y2="243.5" stroke="#111" stroke-width="1.2"/>
<text x="453.1" y="252.6" font-size="8.1" text-anchor="middle" style="stroke-width:0.12px" >700</text>
<line x1="498.9" y1="240.5" x2="498.9" y2="243.5" stroke="#111" stroke-width="1.2"/>
<text x="498.9" y="252.6" font-size="8.1" text-anchor="middle" style="stroke-width:0.12px" >800</text>
<line x1="338.6" y1="240.5" x2="338.6" y2="242.3" stroke="#111" stroke-width="1"/>
<line x1="384.4" y1="240.5" x2="384.4" y2="242.3" stroke="#111" stroke-width="1"/>
<line x1="430.2" y1="240.5" x2="430.2" y2="242.3" stroke="#111" stroke-width="1"/>
<line x1="476" y1="240.5" x2="476" y2="242.3" stroke="#111" stroke-width="1"/>
<line x1="521.8" y1="240.5" x2="521.8" y2="242.3" stroke="#111" stroke-width="1"/>
<text x="421.5" y="265.5" font-size="10.2" text-anchor="middle" style="stroke-width:0.2px" >Wavelength (nm)</text>
<text transform="translate(291.2,136.7) rotate(-90)" font-size="9.3" text-anchor="middle">Absorbance (a.u.)</text>
</g>
<path d="M315.7,147.93 L316.16,148.07 L316.62,148.2 L317.07,148.34 L317.53,148.47 L317.99,148.61 L318.45,148.74 L318.91,148.88 L319.36,149.01 L319.82,149.15 L320.28,149.28 L320.74,149.42 L321.2,149.55 L321.65,149.69 L322.11,149.82 L322.57,149.96 L323.03,150.09 L323.49,150.22 L323.94,150.36 L324.4,150.49 L324.86,150.62 L325.32,150.75 L325.78,150.88 L326.23,151.02 L326.69,151.15 L327.15,151.28 L327.61,151.41 L328.07,151.54 L328.52,151.67 L328.98,151.8 L329.44,151.92 L329.9,152.05 L330.36,152.17 L330.81,152.3 L331.27,152.42 L331.73,152.54 L332.19,152.66 L332.65,152.77 L333.1,152.88 L333.56,152.98 L334.02,153.08 L334.48,153.18 L334.94,153.27 L335.39,153.35 L335.85,153.43 L336.31,153.49 L336.77,153.56 L337.23,153.61 L337.68,153.65 L338.14,153.69 L338.6,153.72 L339.06,153.73 L339.52,153.74 L339.97,153.73 L340.43,153.71 L340.89,153.69 L341.35,153.64 L341.81,153.59 L342.26,153.52 L342.72,153.44 L343.18,153.35 L343.64,153.24 L344.1,153.12 L344.55,152.99 L345.01,152.84 L345.47,152.69 L345.93,152.52 L346.39,152.35 L346.84,152.17 L347.3,151.98 L347.76,151.79 L348.22,151.6 L348.68,151.4 L349.13,151.2 L349.59,151 L350.05,150.8 L350.51,150.6 L350.97,150.38 L351.42,150.16 L351.88,149.91 L352.34,149.64 L352.8,149.33 L353.26,148.96 L353.71,148.53 L354.17,148.02 L354.63,147.42 L355.09,146.71 L355.55,145.88 L356,144.92 L356.46,143.81 L356.92,142.54 L357.38,141.11 L357.84,139.51 L358.29,137.74 L358.75,135.8 L359.21,133.7 L359.67,131.46 L360.13,129.11 L360.58,126.66 L361.04,124.14 L361.5,121.58 L361.96,119.01 L362.42,116.46 L362.87,113.95 L363.33,111.51 L363.79,109.17 L364.25,106.94 L364.71,104.84 L365.16,102.88 L365.62,101.05 L366.08,99.37 L366.54,97.82 L367,96.39 L367.45,95.06 L367.91,93.82 L368.37,92.67 L368.83,91.58 L369.29,90.55 L369.74,89.58 L370.2,88.66 L370.66,87.81 L371.12,87.03 L371.58,86.32 L372.03,85.71 L372.49,85.21 L372.95,84.82 L373.41,84.55 L373.87,84.42 L374.32,84.42 L374.78,84.55 L375.24,84.8 L375.7,85.17 L376.16,85.65 L376.61,86.21 L377.07,86.84 L377.53,87.54 L377.99,88.28 L378.45,89.06 L378.9,89.88 L379.36,90.72 L379.82,91.59 L380.28,92.49 L380.74,93.44 L381.19,94.42 L381.65,95.46 L382.11,96.56 L382.57,97.73 L383.03,98.95 L383.48,100.25 L383.94,101.6 L384.4,103.01 L384.86,104.47 L385.32,105.97 L385.77,107.5 L386.23,109.04 L386.69,110.59 L387.15,112.13 L387.61,113.67 L388.06,115.19 L388.52,116.7 L388.98,118.18 L389.44,119.66 L389.9,121.12 L390.35,122.58 L390.81,124.04 L391.27,125.5 L391.73,126.97 L392.19,128.44 L392.64,129.93 L393.1,131.44 L393.56,132.95 L394.02,134.47 L394.48,135.98 L394.93,137.5 L395.39,139 L395.85,140.49 L396.31,141.97 L396.77,143.42 L397.22,144.85 L397.68,146.24 L398.14,147.61 L398.6,148.95 L399.06,150.25 L399.51,151.52 L399.97,152.75 L400.43,153.94 L400.89,155.11 L401.35,156.24 L401.8,157.35 L402.26,158.43 L402.72,159.49 L403.18,160.53 L403.64,161.55 L404.09,162.55 L404.55,163.55 L405.01,164.53 L405.47,165.5 L405.93,166.46 L406.38,167.41 L406.84,168.35 L407.3,169.29 L407.76,170.22 L408.22,171.15 L408.67,172.07 L409.13,172.98 L409.59,173.88 L410.05,174.77 L410.51,175.66 L410.96,176.54 L411.42,177.41 L411.88,178.28 L412.34,179.15 L412.8,180.01 L413.25,180.86 L413.71,181.71 L414.17,182.56 L414.63,183.4 L415.09,184.24 L415.54,185.07 L416,185.9 L416.46,186.72 L416.92,187.54 L417.38,188.35 L417.83,189.16 L418.29,189.96 L418.75,190.76 L419.21,191.55 L419.67,192.33 L420.12,193.11 L420.58,193.88 L421.04,194.64 L421.5,195.4 L421.96,196.14 L422.41,196.88 L422.87,197.61 L423.33,198.33 L423.79,199.05 L424.25,199.75 L424.7,200.44 L425.16,201.12 L425.62,201.8 L426.08,202.46 L426.54,203.11 L426.99,203.75 L427.45,204.38 L427.91,205 L428.37,205.61 L428.83,206.2 L429.28,206.79 L429.74,207.36 L430.2,207.92 L430.66,208.47 L431.12,209.01 L431.57,209.54 L432.03,210.06 L432.49,210.56 L432.95,211.06 L433.41,211.55 L433.86,212.02 L434.32,212.49 L434.78,212.95 L435.24,213.39 L435.7,213.83 L436.15,214.26 L436.61,214.68 L437.07,215.1 L437.53,215.51 L437.99,215.9 L438.44,216.3 L438.9,216.68 L439.36,217.06 L439.82,217.44 L440.28,217.8 L440.73,218.17 L441.19,218.52 L441.65,218.87 L442.11,219.22 L442.57,219.56 L443.02,219.9 L443.48,220.23 L443.94,220.56 L444.4,220.88 L444.86,221.2 L445.31,221.52 L445.77,221.83 L446.23,222.13 L446.69,222.43 L447.15,222.73 L447.6,223.02 L448.06,223.31 L448.52,223.6 L448.98,223.87 L449.44,224.15 L449.89,224.42 L450.35,224.69 L450.81,224.95 L451.27,225.21 L451.73,225.46 L452.18,225.71 L452.64,225.95 L453.1,226.19 L453.56,226.42 L454.02,226.65 L454.47,226.88 L454.93,227.1 L455.39,227.32 L455.85,227.53 L456.31,227.74 L456.76,227.94 L457.22,228.14 L457.68,228.34 L458.14,228.53 L458.6,228.72 L459.05,228.9 L459.51,229.08 L459.97,229.26 L460.43,229.43 L460.89,229.6 L461.34,229.77 L461.8,229.93 L462.26,230.09 L462.72,230.25 L463.18,230.4 L463.63,230.55 L464.09,230.7 L464.55,230.85 L465.01,230.99 L465.47,231.14 L465.92,231.28 L466.38,231.41 L466.84,231.55 L467.3,231.69 L467.76,231.82 L468.21,231.95 L468.67,232.09 L469.13,232.22 L469.59,232.34 L470.05,232.47 L470.5,232.6 L470.96,232.72 L471.42,232.85 L471.88,232.97 L472.34,233.1 L472.79,233.22 L473.25,233.34 L473.71,233.46 L474.17,233.58 L474.63,233.7 L475.08,233.82 L475.54,233.93 L476,234.05 L476.46,234.16 L476.92,234.28 L477.37,234.39 L477.83,234.51 L478.29,234.62 L478.75,234.73 L479.21,234.84 L479.66,234.95 L480.12,235.05 L480.58,235.16 L481.04,235.27 L481.5,235.37 L481.95,235.47 L482.41,235.58 L482.87,235.68 L483.33,235.78 L483.79,235.88 L484.24,235.97 L484.7,236.07 L485.16,236.16 L485.62,236.26 L486.08,236.35 L486.53,236.44 L486.99,236.53 L487.45,236.62 L487.91,236.71 L488.37,236.79 L488.82,236.88 L489.28,236.96 L489.74,237.05 L490.2,237.13 L490.66,237.21 L491.11,237.29 L491.57,237.37 L492.03,237.45 L492.49,237.53 L492.95,237.61 L493.4,237.69 L493.86,237.76 L494.32,237.84 L494.78,237.92 L495.24,237.99 L495.69,238.07 L496.15,238.14 L496.61,238.22 L497.07,238.29 L497.53,238.37 L497.98,238.45 L498.44,238.52 L498.9,238.6" fill="none" stroke="#444" stroke-width="1.5"/>
<path d="M315.7,147.94 L316.16,148.07 L316.62,148.21 L317.07,148.34 L317.53,148.48 L317.99,148.62 L318.45,148.75 L318.91,148.89 L319.36,149.02 L319.82,149.16 L320.28,149.3 L320.74,149.43 L321.2,149.57 L321.65,149.7 L322.11,149.84 L322.57,149.97 L323.03,150.1 L323.49,150.24 L323.94,150.37 L324.4,150.5 L324.86,150.63 L325.32,150.77 L325.78,150.9 L326.23,151.03 L326.69,151.16 L327.15,151.29 L327.61,151.42 L328.07,151.54 L328.52,151.67 L328.98,151.8 L329.44,151.92 L329.9,152.05 L330.36,152.17 L330.81,152.29 L331.27,152.41 L331.73,152.52 L332.19,152.64 L332.65,152.75 L333.1,152.85 L333.56,152.95 L334.02,153.05 L334.48,153.14 L334.94,153.23 L335.39,153.31 L335.85,153.38 L336.31,153.45 L336.77,153.51 L337.23,153.56 L337.68,153.61 L338.14,153.64 L338.6,153.67 L339.06,153.69 L339.52,153.69 L339.97,153.69 L340.43,153.68 L340.89,153.65 L341.35,153.61 L341.81,153.57 L342.26,153.5 L342.72,153.43 L343.18,153.34 L343.64,153.25 L344.1,153.13 L344.55,153.01 L345.01,152.87 L345.47,152.73 L345.93,152.57 L346.39,152.4 L346.84,152.23 L347.3,152.04 L347.76,151.85 L348.22,151.66 L348.68,151.46 L349.13,151.25 L349.59,151.04 L350.05,150.82 L350.51,150.6 L350.97,150.37 L351.42,150.12 L351.88,149.84 L352.34,149.54 L352.8,149.2 L353.26,148.81 L353.71,148.35 L354.17,147.82 L354.63,147.21 L355.09,146.49 L355.55,145.67 L356,144.72 L356.46,143.63 L356.92,142.41 L357.38,141.03 L357.84,139.5 L358.29,137.81 L358.75,135.98 L359.21,134 L359.67,131.89 L360.13,129.67 L360.58,127.37 L361.04,125.01 L361.5,122.61 L361.96,120.2 L362.42,117.8 L362.87,115.44 L363.33,113.14 L363.79,110.93 L364.25,108.83 L364.71,106.84 L365.16,104.97 L365.62,103.24 L366.08,101.64 L366.54,100.16 L367,98.8 L367.45,97.54 L367.91,96.38 L368.37,95.3 L368.83,94.3 L369.29,93.37 L369.74,92.5 L370.2,91.71 L370.66,90.98 L371.12,90.33 L371.58,89.76 L372.03,89.29 L372.49,88.91 L372.95,88.64 L373.41,88.48 L373.87,88.44 L374.32,88.51 L374.78,88.69 L375.24,88.99 L375.7,89.38 L376.16,89.86 L376.61,90.42 L377.07,91.04 L377.53,91.73 L377.99,92.46 L378.45,93.24 L378.9,94.05 L379.36,94.89 L379.82,95.76 L380.28,96.67 L380.74,97.62 L381.19,98.6 L381.65,99.63 L382.11,100.7 L382.57,101.82 L383.03,102.99 L383.48,104.21 L383.94,105.47 L384.4,106.77 L384.86,108.11 L385.32,109.47 L385.77,110.86 L386.23,112.26 L386.69,113.66 L387.15,115.07 L387.61,116.47 L388.06,117.87 L388.52,119.26 L388.98,120.64 L389.44,122.02 L389.9,123.4 L390.35,124.78 L390.81,126.16 L391.27,127.55 L391.73,128.95 L392.19,130.36 L392.64,131.78 L393.1,133.19 L393.56,134.61 L394.02,135.99 L394.48,137.34 L394.93,138.66 L395.39,139.94 L395.85,141.17 L396.31,142.36 L396.77,143.49 L397.22,144.59 L397.68,145.64 L398.14,146.66 L398.6,147.65 L399.06,148.62 L399.51,149.58 L399.97,150.53 L400.43,151.48 L400.89,152.42 L401.35,153.36 L401.8,154.29 L402.26,155.22 L402.72,156.14 L403.18,157.04 L403.64,157.94 L404.09,158.82 L404.55,159.68 L405.01,160.54 L405.47,161.38 L405.93,162.2 L406.38,163.02 L406.84,163.83 L407.3,164.63 L407.76,165.44 L408.22,166.24 L408.67,167.04 L409.13,167.83 L409.59,168.61 L410.05,169.39 L410.51,170.17 L410.96,170.94 L411.42,171.71 L411.88,172.47 L412.34,173.24 L412.8,174 L413.25,174.77 L413.71,175.53 L414.17,176.3 L414.63,177.06 L415.09,177.82 L415.54,178.59 L416,179.35 L416.46,180.12 L416.92,180.88 L417.38,181.64 L417.83,182.4 L418.29,183.16 L418.75,183.91 L419.21,184.66 L419.67,185.41 L420.12,186.15 L420.58,186.89 L421.04,187.61 L421.5,188.34 L421.96,189.05 L422.41,189.75 L422.87,190.45 L423.33,191.13 L423.79,191.81 L424.25,192.47 L424.7,193.12 L425.16,193.76 L425.62,194.39 L426.08,195 L426.54,195.61 L426.99,196.2 L427.45,196.78 L427.91,197.34 L428.37,197.9 L428.83,198.44 L429.28,198.97 L429.74,199.49 L430.2,200 L430.66,200.5 L431.12,200.98 L431.57,201.46 L432.03,201.93 L432.49,202.39 L432.95,202.84 L433.41,203.29 L433.86,203.72 L434.32,204.15 L434.78,204.58 L435.24,205 L435.7,205.41 L436.15,205.82 L436.61,206.22 L437.07,206.62 L437.53,207.02 L437.99,207.41 L438.44,207.8 L438.9,208.19 L439.36,208.57 L439.82,208.95 L440.28,209.33 L440.73,209.71 L441.19,210.09 L441.65,210.47 L442.11,210.84 L442.57,211.21 L443.02,211.58 L443.48,211.95 L443.94,212.32 L444.4,212.69 L444.86,213.05 L445.31,213.41 L445.77,213.77 L446.23,214.13 L446.69,214.48 L447.15,214.84 L447.6,215.19 L448.06,215.53 L448.52,215.87 L448.98,216.21 L449.44,216.55 L449.89,216.88 L450.35,217.21 L450.81,217.53 L451.27,217.85 L451.73,218.16 L452.18,218.47 L452.64,218.77 L453.1,219.07 L453.56,219.36 L454.02,219.65 L454.47,219.93 L454.93,220.2 L455.39,220.47 L455.85,220.74 L456.31,220.99 L456.76,221.25 L457.22,221.49 L457.68,221.73 L458.14,221.97 L458.6,222.2 L459.05,222.42 L459.51,222.64 L459.97,222.85 L460.43,223.06 L460.89,223.26 L461.34,223.46 L461.8,223.65 L462.26,223.84 L462.72,224.02 L463.18,224.2 L463.63,224.38 L464.09,224.55 L464.55,224.72 L465.01,224.88 L465.47,225.04 L465.92,225.2 L466.38,225.36 L466.84,225.51 L467.3,225.67 L467.76,225.81 L468.21,225.96 L468.67,226.11 L469.13,226.25 L469.59,226.39 L470.05,226.53 L470.5,226.67 L470.96,226.81 L471.42,226.94 L471.88,227.08 L472.34,227.21 L472.79,227.35 L473.25,227.48 L473.71,227.61 L474.17,227.74 L474.63,227.86 L475.08,227.99 L475.54,228.12 L476,228.24 L476.46,228.37 L476.92,228.49 L477.37,228.61 L477.83,228.73 L478.29,228.85 L478.75,228.97 L479.21,229.09 L479.66,229.21 L480.12,229.32 L480.58,229.44 L481.04,229.55 L481.5,229.66 L481.95,229.77 L482.41,229.88 L482.87,229.99 L483.33,230.1 L483.79,230.2 L484.24,230.31 L484.7,230.41 L485.16,230.51 L485.62,230.61 L486.08,230.71 L486.53,230.8 L486.99,230.9 L487.45,230.99 L487.91,231.09 L488.37,231.18 L488.82,231.27 L489.28,231.36 L489.74,231.45 L490.2,231.54 L490.66,231.62 L491.11,231.71 L491.57,231.79 L492.03,231.88 L492.49,231.96 L492.95,232.04 L493.4,232.13 L493.86,232.21 L494.32,232.29 L494.78,232.37 L495.24,232.45 L495.69,232.53 L496.15,232.61 L496.61,232.69 L497.07,232.77 L497.53,232.85 L497.98,232.93 L498.44,233.01 L498.9,233.09" fill="none" stroke="#f0197d" stroke-width="1.5"/>
<path d="M315.7,149.59 L316.16,149.72 L316.62,149.85 L317.07,149.98 L317.53,150.11 L317.99,150.24 L318.45,150.37 L318.91,150.5 L319.36,150.62 L319.82,150.75 L320.28,150.88 L320.74,151.01 L321.2,151.14 L321.65,151.27 L322.11,151.4 L322.57,151.53 L323.03,151.66 L323.49,151.79 L323.94,151.92 L324.4,152.04 L324.86,152.17 L325.32,152.3 L325.78,152.43 L326.23,152.56 L326.69,152.68 L327.15,152.81 L327.61,152.94 L328.07,153.06 L328.52,153.19 L328.98,153.31 L329.44,153.44 L329.9,153.56 L330.36,153.69 L330.81,153.81 L331.27,153.93 L331.73,154.04 L332.19,154.16 L332.65,154.27 L333.1,154.38 L333.56,154.48 L334.02,154.58 L334.48,154.67 L334.94,154.76 L335.39,154.84 L335.85,154.92 L336.31,154.99 L336.77,155.05 L337.23,155.1 L337.68,155.15 L338.14,155.18 L338.6,155.21 L339.06,155.23 L339.52,155.23 L339.97,155.23 L340.43,155.21 L340.89,155.19 L341.35,155.15 L341.81,155.1 L342.26,155.03 L342.72,154.95 L343.18,154.86 L343.64,154.76 L344.1,154.64 L344.55,154.52 L345.01,154.38 L345.47,154.23 L345.93,154.08 L346.39,153.92 L346.84,153.76 L347.3,153.59 L347.76,153.42 L348.22,153.26 L348.68,153.1 L349.13,152.94 L349.59,152.79 L350.05,152.64 L350.51,152.49 L350.97,152.35 L351.42,152.2 L351.88,152.03 L352.34,151.85 L352.8,151.64 L353.26,151.38 L353.71,151.06 L354.17,150.68 L354.63,150.21 L355.09,149.64 L355.55,148.96 L356,148.16 L356.46,147.22 L356.92,146.13 L357.38,144.88 L357.84,143.48 L358.29,141.91 L358.75,140.18 L359.21,138.3 L359.67,136.3 L360.13,134.17 L360.58,131.96 L361.04,129.69 L361.5,127.38 L361.96,125.06 L362.42,122.76 L362.87,120.5 L363.33,118.32 L363.79,116.23 L364.25,114.25 L364.71,112.39 L365.16,110.68 L365.62,109.09 L366.08,107.64 L366.54,106.31 L367,105.09 L367.45,103.96 L367.91,102.91 L368.37,101.93 L368.83,100.99 L369.29,100.1 L369.74,99.25 L370.2,98.43 L370.66,97.65 L371.12,96.91 L371.58,96.23 L372.03,95.61 L372.49,95.06 L372.95,94.59 L373.41,94.22 L373.87,93.94 L374.32,93.78 L374.78,93.72 L375.24,93.77 L375.7,93.93 L376.16,94.2 L376.61,94.56 L377.07,95.01 L377.53,95.54 L377.99,96.14 L378.45,96.82 L378.9,97.56 L379.36,98.35 L379.82,99.2 L380.28,100.1 L380.74,101.06 L381.19,102.06 L381.65,103.1 L382.11,104.19 L382.57,105.33 L383.03,106.5 L383.48,107.71 L383.94,108.95 L384.4,110.21 L384.86,111.49 L385.32,112.78 L385.77,114.08 L386.23,115.37 L386.69,116.65 L387.15,117.91 L387.61,119.16 L388.06,120.38 L388.52,121.58 L388.98,122.75 L389.44,123.91 L389.9,125.05 L390.35,126.17 L390.81,127.28 L391.27,128.38 L391.73,129.48 L392.19,130.58 L392.64,131.67 L393.1,132.76 L393.56,133.85 L394.02,134.91 L394.48,135.95 L394.93,136.97 L395.39,137.97 L395.85,138.95 L396.31,139.9 L396.77,140.82 L397.22,141.71 L397.68,142.58 L398.14,143.42 L398.6,144.24 L399.06,145.03 L399.51,145.81 L399.97,146.57 L400.43,147.32 L400.89,148.05 L401.35,148.77 L401.8,149.49 L402.26,150.19 L402.72,150.9 L403.18,151.59 L403.64,152.29 L404.09,152.98 L404.55,153.67 L405.01,154.36 L405.47,155.05 L405.93,155.74 L406.38,156.42 L406.84,157.11 L407.3,157.79 L407.76,158.47 L408.22,159.15 L408.67,159.82 L409.13,160.5 L409.59,161.17 L410.05,161.84 L410.51,162.51 L410.96,163.18 L411.42,163.84 L411.88,164.51 L412.34,165.17 L412.8,165.83 L413.25,166.48 L413.71,167.14 L414.17,167.79 L414.63,168.43 L415.09,169.08 L415.54,169.71 L416,170.35 L416.46,170.98 L416.92,171.6 L417.38,172.22 L417.83,172.84 L418.29,173.45 L418.75,174.05 L419.21,174.65 L419.67,175.25 L420.12,175.83 L420.58,176.42 L421.04,176.99 L421.5,177.56 L421.96,178.13 L422.41,178.68 L422.87,179.23 L423.33,179.78 L423.79,180.32 L424.25,180.85 L424.7,181.37 L425.16,181.89 L425.62,182.41 L426.08,182.91 L426.54,183.41 L426.99,183.91 L427.45,184.4 L427.91,184.88 L428.37,185.36 L428.83,185.83 L429.28,186.3 L429.74,186.76 L430.2,187.22 L430.66,187.67 L431.12,188.12 L431.57,188.56 L432.03,189 L432.49,189.44 L432.95,189.88 L433.41,190.31 L433.86,190.74 L434.32,191.16 L434.78,191.59 L435.24,192.01 L435.7,192.44 L436.15,192.86 L436.61,193.28 L437.07,193.7 L437.53,194.13 L437.99,194.55 L438.44,194.97 L438.9,195.39 L439.36,195.82 L439.82,196.24 L440.28,196.67 L440.73,197.1 L441.19,197.53 L441.65,197.96 L442.11,198.39 L442.57,198.82 L443.02,199.26 L443.48,199.69 L443.94,200.13 L444.4,200.56 L444.86,201 L445.31,201.44 L445.77,201.88 L446.23,202.32 L446.69,202.76 L447.15,203.2 L447.6,203.64 L448.06,204.07 L448.52,204.51 L448.98,204.95 L449.44,205.38 L449.89,205.81 L450.35,206.24 L450.81,206.67 L451.27,207.1 L451.73,207.52 L452.18,207.94 L452.64,208.36 L453.1,208.77 L453.56,209.18 L454.02,209.58 L454.47,209.99 L454.93,210.38 L455.39,210.78 L455.85,211.17 L456.31,211.55 L456.76,211.93 L457.22,212.31 L457.68,212.68 L458.14,213.04 L458.6,213.41 L459.05,213.76 L459.51,214.11 L459.97,214.46 L460.43,214.8 L460.89,215.14 L461.34,215.47 L461.8,215.79 L462.26,216.12 L462.72,216.43 L463.18,216.74 L463.63,217.05 L464.09,217.35 L464.55,217.65 L465.01,217.95 L465.47,218.23 L465.92,218.52 L466.38,218.8 L466.84,219.07 L467.3,219.34 L467.76,219.61 L468.21,219.87 L468.67,220.13 L469.13,220.38 L469.59,220.63 L470.05,220.88 L470.5,221.12 L470.96,221.36 L471.42,221.59 L471.88,221.82 L472.34,222.05 L472.79,222.27 L473.25,222.49 L473.71,222.7 L474.17,222.91 L474.63,223.12 L475.08,223.32 L475.54,223.52 L476,223.72 L476.46,223.91 L476.92,224.11 L477.37,224.29 L477.83,224.48 L478.29,224.66 L478.75,224.83 L479.21,225.01 L479.66,225.18 L480.12,225.35 L480.58,225.51 L481.04,225.68 L481.5,225.84 L481.95,225.99 L482.41,226.15 L482.87,226.3 L483.33,226.45 L483.79,226.6 L484.24,226.74 L484.7,226.88 L485.16,227.02 L485.62,227.16 L486.08,227.29 L486.53,227.42 L486.99,227.55 L487.45,227.68 L487.91,227.81 L488.37,227.93 L488.82,228.06 L489.28,228.18 L489.74,228.3 L490.2,228.41 L490.66,228.53 L491.11,228.65 L491.57,228.76 L492.03,228.87 L492.49,228.98 L492.95,229.09 L493.4,229.2 L493.86,229.31 L494.32,229.42 L494.78,229.53 L495.24,229.63 L495.69,229.74 L496.15,229.85 L496.61,229.95 L497.07,230.06 L497.53,230.16 L497.98,230.27 L498.44,230.38 L498.9,230.48" fill="none" stroke="#1ea5e0" stroke-width="1.5"/>
<path d="M315.7,151.92 L316.16,152.06 L316.62,152.2 L317.07,152.34 L317.53,152.47 L317.99,152.61 L318.45,152.75 L318.91,152.89 L319.36,153.03 L319.82,153.16 L320.28,153.3 L320.74,153.44 L321.2,153.58 L321.65,153.72 L322.11,153.86 L322.57,154 L323.03,154.14 L323.49,154.29 L323.94,154.43 L324.4,154.57 L324.86,154.72 L325.32,154.86 L325.78,155.01 L326.23,155.15 L326.69,155.3 L327.15,155.45 L327.61,155.6 L328.07,155.75 L328.52,155.9 L328.98,156.05 L329.44,156.2 L329.9,156.35 L330.36,156.51 L330.81,156.66 L331.27,156.81 L331.73,156.97 L332.19,157.12 L332.65,157.27 L333.1,157.42 L333.56,157.57 L334.02,157.72 L334.48,157.86 L334.94,158 L335.39,158.14 L335.85,158.28 L336.31,158.41 L336.77,158.54 L337.23,158.66 L337.68,158.78 L338.14,158.89 L338.6,159 L339.06,159.1 L339.52,159.2 L339.97,159.29 L340.43,159.37 L340.89,159.45 L341.35,159.52 L341.81,159.58 L342.26,159.63 L342.72,159.67 L343.18,159.71 L343.64,159.73 L344.1,159.75 L344.55,159.76 L345.01,159.75 L345.47,159.73 L345.93,159.7 L346.39,159.66 L346.84,159.6 L347.3,159.52 L347.76,159.43 L348.22,159.33 L348.68,159.21 L349.13,159.06 L349.59,158.9 L350.05,158.72 L350.51,158.52 L350.97,158.29 L351.42,158.04 L351.88,157.75 L352.34,157.44 L352.8,157.09 L353.26,156.7 L353.71,156.26 L354.17,155.78 L354.63,155.25 L355.09,154.66 L355.55,154.01 L356,153.3 L356.46,152.52 L356.92,151.67 L357.38,150.75 L357.84,149.75 L358.29,148.68 L358.75,147.54 L359.21,146.33 L359.67,145.05 L360.13,143.72 L360.58,142.34 L361.04,140.92 L361.5,139.47 L361.96,137.99 L362.42,136.51 L362.87,135.03 L363.33,133.55 L363.79,132.09 L364.25,130.65 L364.71,129.25 L365.16,127.87 L365.62,126.53 L366.08,125.22 L366.54,123.93 L367,122.67 L367.45,121.42 L367.91,120.19 L368.37,118.95 L368.83,117.71 L369.29,116.47 L369.74,115.23 L370.2,114 L370.66,112.79 L371.12,111.61 L371.58,110.48 L372.03,109.42 L372.49,108.45 L372.95,107.58 L373.41,106.84 L373.87,106.23 L374.32,105.77 L374.78,105.46 L375.24,105.32 L375.7,105.32 L376.16,105.46 L376.61,105.73 L377.07,106.11 L377.53,106.58 L377.99,107.12 L378.45,107.73 L378.9,108.37 L379.36,109.06 L379.82,109.77 L380.28,110.51 L380.74,111.28 L381.19,112.08 L381.65,112.91 L382.11,113.76 L382.57,114.65 L383.03,115.57 L383.48,116.51 L383.94,117.47 L384.4,118.45 L384.86,119.44 L385.32,120.43 L385.77,121.42 L386.23,122.39 L386.69,123.34 L387.15,124.26 L387.61,125.15 L388.06,126 L388.52,126.81 L388.98,127.58 L389.44,128.32 L389.9,129.02 L390.35,129.7 L390.81,130.35 L391.27,130.98 L391.73,131.59 L392.19,132.19 L392.64,132.78 L393.1,133.36 L393.56,133.94 L394.02,134.5 L394.48,135.06 L394.93,135.62 L395.39,136.18 L395.85,136.74 L396.31,137.3 L396.77,137.86 L397.22,138.42 L397.68,138.99 L398.14,139.56 L398.6,140.13 L399.06,140.71 L399.51,141.28 L399.97,141.87 L400.43,142.45 L400.89,143.05 L401.35,143.64 L401.8,144.25 L402.26,144.85 L402.72,145.47 L403.18,146.09 L403.64,146.71 L404.09,147.34 L404.55,147.97 L405.01,148.6 L405.47,149.24 L405.93,149.87 L406.38,150.51 L406.84,151.14 L407.3,151.77 L407.76,152.4 L408.22,153.02 L408.67,153.64 L409.13,154.26 L409.59,154.88 L410.05,155.49 L410.51,156.09 L410.96,156.69 L411.42,157.28 L411.88,157.86 L412.34,158.43 L412.8,159 L413.25,159.55 L413.71,160.1 L414.17,160.64 L414.63,161.17 L415.09,161.69 L415.54,162.2 L416,162.7 L416.46,163.2 L416.92,163.68 L417.38,164.16 L417.83,164.64 L418.29,165.11 L418.75,165.57 L419.21,166.03 L419.67,166.48 L420.12,166.93 L420.58,167.38 L421.04,167.83 L421.5,168.28 L421.96,168.73 L422.41,169.17 L422.87,169.62 L423.33,170.07 L423.79,170.52 L424.25,170.97 L424.7,171.43 L425.16,171.88 L425.62,172.34 L426.08,172.8 L426.54,173.26 L426.99,173.72 L427.45,174.18 L427.91,174.65 L428.37,175.11 L428.83,175.58 L429.28,176.04 L429.74,176.51 L430.2,176.97 L430.66,177.43 L431.12,177.89 L431.57,178.36 L432.03,178.81 L432.49,179.27 L432.95,179.73 L433.41,180.18 L433.86,180.64 L434.32,181.09 L434.78,181.54 L435.24,181.99 L435.7,182.44 L436.15,182.89 L436.61,183.34 L437.07,183.79 L437.53,184.24 L437.99,184.7 L438.44,185.15 L438.9,185.61 L439.36,186.07 L439.82,186.53 L440.28,186.99 L440.73,187.46 L441.19,187.92 L441.65,188.4 L442.11,188.87 L442.57,189.35 L443.02,189.83 L443.48,190.31 L443.94,190.8 L444.4,191.29 L444.86,191.78 L445.31,192.27 L445.77,192.76 L446.23,193.26 L446.69,193.76 L447.15,194.26 L447.6,194.76 L448.06,195.26 L448.52,195.76 L448.98,196.26 L449.44,196.76 L449.89,197.26 L450.35,197.75 L450.81,198.25 L451.27,198.74 L451.73,199.23 L452.18,199.72 L452.64,200.21 L453.1,200.69 L453.56,201.17 L454.02,201.64 L454.47,202.11 L454.93,202.58 L455.39,203.04 L455.85,203.5 L456.31,203.95 L456.76,204.4 L457.22,204.84 L457.68,205.28 L458.14,205.71 L458.6,206.14 L459.05,206.56 L459.51,206.98 L459.97,207.39 L460.43,207.8 L460.89,208.2 L461.34,208.59 L461.8,208.98 L462.26,209.37 L462.72,209.75 L463.18,210.13 L463.63,210.5 L464.09,210.87 L464.55,211.23 L465.01,211.59 L465.47,211.94 L465.92,212.29 L466.38,212.64 L466.84,212.98 L467.3,213.32 L467.76,213.65 L468.21,213.98 L468.67,214.31 L469.13,214.63 L469.59,214.95 L470.05,215.26 L470.5,215.57 L470.96,215.88 L471.42,216.19 L471.88,216.49 L472.34,216.79 L472.79,217.08 L473.25,217.37 L473.71,217.66 L474.17,217.94 L474.63,218.23 L475.08,218.5 L475.54,218.78 L476,219.05 L476.46,219.32 L476.92,219.59 L477.37,219.85 L477.83,220.11 L478.29,220.36 L478.75,220.61 L479.21,220.86 L479.66,221.11 L480.12,221.35 L480.58,221.59 L481.04,221.83 L481.5,222.06 L481.95,222.29 L482.41,222.52 L482.87,222.74 L483.33,222.96 L483.79,223.18 L484.24,223.39 L484.7,223.61 L485.16,223.81 L485.62,224.02 L486.08,224.22 L486.53,224.42 L486.99,224.62 L487.45,224.81 L487.91,225.01 L488.37,225.2 L488.82,225.38 L489.28,225.57 L489.74,225.75 L490.2,225.93 L490.66,226.11 L491.11,226.28 L491.57,226.46 L492.03,226.63 L492.49,226.8 L492.95,226.97 L493.4,227.14 L493.86,227.31 L494.32,227.48 L494.78,227.64 L495.24,227.81 L495.69,227.97 L496.15,228.14 L496.61,228.3 L497.07,228.46 L497.53,228.63 L497.98,228.79 L498.44,228.96 L498.9,229.12" fill="none" stroke="#17917a" stroke-width="1.5"/>
<path d="M315.7,150.56 L316.16,150.72 L316.62,150.88 L317.07,151.04 L317.53,151.2 L317.99,151.36 L318.45,151.52 L318.91,151.68 L319.36,151.83 L319.82,151.99 L320.28,152.15 L320.74,152.31 L321.2,152.47 L321.65,152.62 L322.11,152.78 L322.57,152.93 L323.03,153.09 L323.49,153.24 L323.94,153.39 L324.4,153.54 L324.86,153.69 L325.32,153.83 L325.78,153.98 L326.23,154.12 L326.69,154.27 L327.15,154.41 L327.61,154.55 L328.07,154.68 L328.52,154.82 L328.98,154.95 L329.44,155.09 L329.9,155.22 L330.36,155.34 L330.81,155.47 L331.27,155.6 L331.73,155.72 L332.19,155.84 L332.65,155.96 L333.1,156.07 L333.56,156.19 L334.02,156.3 L334.48,156.42 L334.94,156.53 L335.39,156.64 L335.85,156.74 L336.31,156.85 L336.77,156.96 L337.23,157.06 L337.68,157.16 L338.14,157.26 L338.6,157.36 L339.06,157.46 L339.52,157.56 L339.97,157.66 L340.43,157.75 L340.89,157.85 L341.35,157.94 L341.81,158.03 L342.26,158.12 L342.72,158.21 L343.18,158.3 L343.64,158.39 L344.1,158.47 L344.55,158.54 L345.01,158.61 L345.47,158.67 L345.93,158.72 L346.39,158.75 L346.84,158.76 L347.3,158.76 L347.76,158.73 L348.22,158.67 L348.68,158.59 L349.13,158.47 L349.59,158.33 L350.05,158.14 L350.51,157.92 L350.97,157.66 L351.42,157.35 L351.88,157 L352.34,156.61 L352.8,156.17 L353.26,155.69 L353.71,155.16 L354.17,154.59 L354.63,153.96 L355.09,153.3 L355.55,152.58 L356,151.82 L356.46,151.01 L356.92,150.16 L357.38,149.26 L357.84,148.31 L358.29,147.33 L358.75,146.3 L359.21,145.24 L359.67,144.15 L360.13,143.03 L360.58,141.89 L361.04,140.73 L361.5,139.57 L361.96,138.41 L362.42,137.25 L362.87,136.11 L363.33,134.98 L363.79,133.88 L364.25,132.81 L364.71,131.77 L365.16,130.78 L365.62,129.82 L366.08,128.9 L366.54,128.02 L367,127.19 L367.45,126.39 L367.91,125.63 L368.37,124.9 L368.83,124.2 L369.29,123.53 L369.74,122.9 L370.2,122.29 L370.66,121.72 L371.12,121.18 L371.58,120.67 L372.03,120.21 L372.49,119.79 L372.95,119.41 L373.41,119.08 L373.87,118.81 L374.32,118.59 L374.78,118.42 L375.24,118.31 L375.7,118.26 L376.16,118.27 L376.61,118.33 L377.07,118.45 L377.53,118.61 L377.99,118.82 L378.45,119.07 L378.9,119.36 L379.36,119.68 L379.82,120.03 L380.28,120.41 L380.74,120.81 L381.19,121.23 L381.65,121.66 L382.11,122.1 L382.57,122.55 L383.03,123 L383.48,123.45 L383.94,123.9 L384.4,124.34 L384.86,124.79 L385.32,125.22 L385.77,125.65 L386.23,126.07 L386.69,126.49 L387.15,126.89 L387.61,127.28 L388.06,127.66 L388.52,128.04 L388.98,128.39 L389.44,128.74 L389.9,129.07 L390.35,129.39 L390.81,129.69 L391.27,129.98 L391.73,130.24 L392.19,130.5 L392.64,130.73 L393.1,130.96 L393.56,131.16 L394.02,131.33 L394.48,131.48 L394.93,131.63 L395.39,131.76 L395.85,131.88 L396.31,131.99 L396.77,132.1 L397.22,132.19 L397.68,132.28 L398.14,132.36 L398.6,132.44 L399.06,132.51 L399.51,132.58 L399.97,132.64 L400.43,132.7 L400.89,132.76 L401.35,132.81 L401.8,132.87 L402.26,132.92 L402.72,132.97 L403.18,133.02 L403.64,133.06 L404.09,133.11 L404.55,133.15 L405.01,133.19 L405.47,133.23 L405.93,133.27 L406.38,133.31 L406.84,133.34 L407.3,133.38 L407.76,133.41 L408.22,133.45 L408.67,133.48 L409.13,133.51 L409.59,133.54 L410.05,133.58 L410.51,133.61 L410.96,133.63 L411.42,133.66 L411.88,133.69 L412.34,133.72 L412.8,133.75 L413.25,133.77 L413.71,133.8 L414.17,133.82 L414.63,133.85 L415.09,133.87 L415.54,133.9 L416,133.92 L416.46,133.95 L416.92,133.97 L417.38,134 L417.83,134.02 L418.29,134.05 L418.75,134.07 L419.21,134.1 L419.67,134.12 L420.12,134.15 L420.58,134.18 L421.04,134.21 L421.5,134.25 L421.96,134.28 L422.41,134.32 L422.87,134.36 L423.33,134.4 L423.79,134.45 L424.25,134.5 L424.7,134.55 L425.16,134.61 L425.62,134.67 L426.08,134.74 L426.54,134.81 L426.99,134.89 L427.45,134.97 L427.91,135.06 L428.37,135.16 L428.83,135.26 L429.28,135.37 L429.74,135.49 L430.2,135.61 L430.66,135.74 L431.12,135.87 L431.57,136.01 L432.03,136.16 L432.49,136.32 L432.95,136.48 L433.41,136.65 L433.86,136.83 L434.32,137.01 L434.78,137.2 L435.24,137.39 L435.7,137.59 L436.15,137.8 L436.61,138.01 L437.07,138.23 L437.53,138.46 L437.99,138.69 L438.44,138.93 L438.9,139.18 L439.36,139.43 L439.82,139.69 L440.28,139.95 L440.73,140.22 L441.19,140.5 L441.65,140.78 L442.11,141.07 L442.57,141.37 L443.02,141.67 L443.48,141.99 L443.94,142.31 L444.4,142.63 L444.86,142.97 L445.31,143.31 L445.77,143.67 L446.23,144.03 L446.69,144.4 L447.15,144.78 L447.6,145.16 L448.06,145.56 L448.52,145.97 L448.98,146.38 L449.44,146.8 L449.89,147.24 L450.35,147.68 L450.81,148.13 L451.27,148.58 L451.73,149.05 L452.18,149.53 L452.64,150.01 L453.1,150.5 L453.56,150.99 L454.02,151.5 L454.47,152.01 L454.93,152.52 L455.39,153.05 L455.85,153.57 L456.31,154.1 L456.76,154.64 L457.22,155.18 L457.68,155.73 L458.14,156.28 L458.6,156.83 L459.05,157.39 L459.51,157.94 L459.97,158.5 L460.43,159.07 L460.89,159.63 L461.34,160.2 L461.8,160.77 L462.26,161.34 L462.72,161.91 L463.18,162.48 L463.63,163.05 L464.09,163.63 L464.55,164.2 L465.01,164.78 L465.47,165.35 L465.92,165.93 L466.38,166.5 L466.84,167.08 L467.3,167.66 L467.76,168.24 L468.21,168.81 L468.67,169.39 L469.13,169.97 L469.59,170.54 L470.05,171.12 L470.5,171.7 L470.96,172.27 L471.42,172.85 L471.88,173.43 L472.34,174 L472.79,174.57 L473.25,175.15 L473.71,175.72 L474.17,176.29 L474.63,176.86 L475.08,177.43 L475.54,178 L476,178.57 L476.46,179.13 L476.92,179.7 L477.37,180.26 L477.83,180.82 L478.29,181.37 L478.75,181.93 L479.21,182.48 L479.66,183.03 L480.12,183.57 L480.58,184.11 L481.04,184.65 L481.5,185.19 L481.95,185.72 L482.41,186.25 L482.87,186.77 L483.33,187.29 L483.79,187.81 L484.24,188.32 L484.7,188.82 L485.16,189.32 L485.62,189.82 L486.08,190.31 L486.53,190.8 L486.99,191.28 L487.45,191.76 L487.91,192.23 L488.37,192.69 L488.82,193.15 L489.28,193.61 L489.74,194.06 L490.2,194.51 L490.66,194.95 L491.11,195.39 L491.57,195.83 L492.03,196.26 L492.49,196.68 L492.95,197.11 L493.4,197.53 L493.86,197.94 L494.32,198.36 L494.78,198.77 L495.24,199.18 L495.69,199.59 L496.15,199.99 L496.61,200.4 L497.07,200.8 L497.53,201.21 L497.98,201.61 L498.44,202.01 L498.9,202.41" fill="none" stroke="#b77fd6" stroke-width="1.5"/>
<path d="M315.7,151.24 L316.16,151.39 L316.62,151.55 L317.07,151.7 L317.53,151.85 L317.99,152.01 L318.45,152.16 L318.91,152.31 L319.36,152.47 L319.82,152.62 L320.28,152.77 L320.74,152.93 L321.2,153.08 L321.65,153.23 L322.11,153.38 L322.57,153.54 L323.03,153.69 L323.49,153.84 L323.94,153.99 L324.4,154.14 L324.86,154.29 L325.32,154.44 L325.78,154.59 L326.23,154.74 L326.69,154.89 L327.15,155.04 L327.61,155.19 L328.07,155.34 L328.52,155.49 L328.98,155.63 L329.44,155.78 L329.9,155.93 L330.36,156.07 L330.81,156.22 L331.27,156.36 L331.73,156.5 L332.19,156.64 L332.65,156.78 L333.1,156.92 L333.56,157.05 L334.02,157.19 L334.48,157.32 L334.94,157.45 L335.39,157.57 L335.85,157.7 L336.31,157.82 L336.77,157.93 L337.23,158.05 L337.68,158.16 L338.14,158.27 L338.6,158.37 L339.06,158.47 L339.52,158.56 L339.97,158.65 L340.43,158.74 L340.89,158.82 L341.35,158.9 L341.81,158.97 L342.26,159.04 L342.72,159.1 L343.18,159.15 L343.64,159.2 L344.1,159.24 L344.55,159.27 L345.01,159.29 L345.47,159.31 L345.93,159.31 L346.39,159.3 L346.84,159.28 L347.3,159.24 L347.76,159.19 L348.22,159.12 L348.68,159.03 L349.13,158.93 L349.59,158.8 L350.05,158.65 L350.51,158.48 L350.97,158.28 L351.42,158.06 L351.88,157.81 L352.34,157.53 L352.8,157.21 L353.26,156.87 L353.71,156.48 L354.17,156.06 L354.63,155.59 L355.09,155.09 L355.55,154.53 L356,153.93 L356.46,153.28 L356.92,152.58 L357.38,151.83 L357.84,151.03 L358.29,150.17 L358.75,149.27 L359.21,148.32 L359.67,147.33 L360.13,146.3 L360.58,145.24 L361.04,144.16 L361.5,143.07 L361.96,141.97 L362.42,140.86 L362.87,139.77 L363.33,138.69 L363.79,137.63 L364.25,136.59 L364.71,135.59 L365.16,134.63 L365.62,133.7 L366.08,132.82 L366.54,131.98 L367,131.17 L367.45,130.4 L367.91,129.67 L368.37,128.97 L368.83,128.3 L369.29,127.66 L369.74,127.04 L370.2,126.45 L370.66,125.89 L371.12,125.36 L371.58,124.86 L372.03,124.4 L372.49,123.97 L372.95,123.57 L373.41,123.22 L373.87,122.91 L374.32,122.64 L374.78,122.42 L375.24,122.25 L375.7,122.12 L376.16,122.05 L376.61,122.01 L377.07,122.03 L377.53,122.08 L377.99,122.17 L378.45,122.29 L378.9,122.45 L379.36,122.63 L379.82,122.83 L380.28,123.04 L380.74,123.27 L381.19,123.51 L381.65,123.75 L382.11,124 L382.57,124.24 L383.03,124.47 L383.48,124.7 L383.94,124.92 L384.4,125.13 L384.86,125.33 L385.32,125.51 L385.77,125.69 L386.23,125.86 L386.69,126.02 L387.15,126.18 L387.61,126.32 L388.06,126.46 L388.52,126.6 L388.98,126.73 L389.44,126.85 L389.9,126.97 L390.35,127.09 L390.81,127.21 L391.27,127.32 L391.73,127.43 L392.19,127.54 L392.64,127.65 L393.1,127.76 L393.56,127.87 L394.02,127.97 L394.48,128.07 L394.93,128.16 L395.39,128.26 L395.85,128.34 L396.31,128.42 L396.77,128.49 L397.22,128.56 L397.68,128.62 L398.14,128.67 L398.6,128.72 L399.06,128.75 L399.51,128.78 L399.97,128.8 L400.43,128.8 L400.89,128.8 L401.35,128.79 L401.8,128.77 L402.26,128.75 L402.72,128.71 L403.18,128.67 L403.64,128.62 L404.09,128.56 L404.55,128.5 L405.01,128.43 L405.47,128.36 L405.93,128.28 L406.38,128.19 L406.84,128.1 L407.3,128.01 L407.76,127.92 L408.22,127.82 L408.67,127.72 L409.13,127.62 L409.59,127.51 L410.05,127.39 L410.51,127.28 L410.96,127.16 L411.42,127.04 L411.88,126.91 L412.34,126.79 L412.8,126.66 L413.25,126.52 L413.71,126.39 L414.17,126.26 L414.63,126.12 L415.09,125.98 L415.54,125.84 L416,125.7 L416.46,125.56 L416.92,125.42 L417.38,125.28 L417.83,125.13 L418.29,124.99 L418.75,124.85 L419.21,124.7 L419.67,124.56 L420.12,124.42 L420.58,124.28 L421.04,124.14 L421.5,124 L421.96,123.86 L422.41,123.72 L422.87,123.58 L423.33,123.45 L423.79,123.32 L424.25,123.19 L424.7,123.06 L425.16,122.94 L425.62,122.82 L426.08,122.7 L426.54,122.59 L426.99,122.48 L427.45,122.38 L427.91,122.28 L428.37,122.19 L428.83,122.1 L429.28,122.02 L429.74,121.94 L430.2,121.87 L430.66,121.8 L431.12,121.75 L431.57,121.7 L432.03,121.66 L432.49,121.62 L432.95,121.59 L433.41,121.58 L433.86,121.57 L434.32,121.57 L434.78,121.58 L435.24,121.6 L435.7,121.63 L436.15,121.66 L436.61,121.71 L437.07,121.77 L437.53,121.84 L437.99,121.92 L438.44,122.02 L438.9,122.12 L439.36,122.24 L439.82,122.36 L440.28,122.5 L440.73,122.65 L441.19,122.81 L441.65,122.98 L442.11,123.17 L442.57,123.37 L443.02,123.57 L443.48,123.79 L443.94,124.02 L444.4,124.26 L444.86,124.51 L445.31,124.78 L445.77,125.05 L446.23,125.33 L446.69,125.62 L447.15,125.92 L447.6,126.22 L448.06,126.54 L448.52,126.86 L448.98,127.19 L449.44,127.53 L449.89,127.87 L450.35,128.22 L450.81,128.57 L451.27,128.93 L451.73,129.29 L452.18,129.66 L452.64,130.03 L453.1,130.41 L453.56,130.79 L454.02,131.17 L454.47,131.56 L454.93,131.96 L455.39,132.35 L455.85,132.75 L456.31,133.16 L456.76,133.57 L457.22,133.98 L457.68,134.41 L458.14,134.83 L458.6,135.26 L459.05,135.7 L459.51,136.15 L459.97,136.6 L460.43,137.06 L460.89,137.53 L461.34,138 L461.8,138.49 L462.26,138.98 L462.72,139.48 L463.18,139.99 L463.63,140.51 L464.09,141.04 L464.55,141.58 L465.01,142.13 L465.47,142.68 L465.92,143.25 L466.38,143.83 L466.84,144.41 L467.3,145.01 L467.76,145.61 L468.21,146.22 L468.67,146.84 L469.13,147.47 L469.59,148.11 L470.05,148.75 L470.5,149.4 L470.96,150.05 L471.42,150.72 L471.88,151.39 L472.34,152.06 L472.79,152.74 L473.25,153.42 L473.71,154.11 L474.17,154.8 L474.63,155.49 L475.08,156.18 L475.54,156.88 L476,157.58 L476.46,158.28 L476.92,158.98 L477.37,159.68 L477.83,160.39 L478.29,161.09 L478.75,161.79 L479.21,162.49 L479.66,163.19 L480.12,163.88 L480.58,164.58 L481.04,165.27 L481.5,165.96 L481.95,166.65 L482.41,167.34 L482.87,168.02 L483.33,168.7 L483.79,169.38 L484.24,170.05 L484.7,170.72 L485.16,171.39 L485.62,172.05 L486.08,172.72 L486.53,173.38 L486.99,174.03 L487.45,174.69 L487.91,175.34 L488.37,175.98 L488.82,176.63 L489.28,177.27 L489.74,177.91 L490.2,178.55 L490.66,179.19 L491.11,179.82 L491.57,180.45 L492.03,181.08 L492.49,181.71 L492.95,182.34 L493.4,182.97 L493.86,183.59 L494.32,184.22 L494.78,184.84 L495.24,185.47 L495.69,186.09 L496.15,186.72 L496.61,187.34 L497.07,187.96 L497.53,188.59 L497.98,189.21 L498.44,189.84 L498.9,190.47" fill="none" stroke="#e4a11b" stroke-width="1.5"/>
<path d="M315.7,152.62 L316.16,152.77 L316.62,152.92 L317.07,153.07 L317.53,153.22 L317.99,153.37 L318.45,153.53 L318.91,153.68 L319.36,153.83 L319.82,153.98 L320.28,154.13 L320.74,154.28 L321.2,154.44 L321.65,154.59 L322.11,154.74 L322.57,154.89 L323.03,155.04 L323.49,155.19 L323.94,155.35 L324.4,155.5 L324.86,155.65 L325.32,155.8 L325.78,155.95 L326.23,156.1 L326.69,156.25 L327.15,156.4 L327.61,156.56 L328.07,156.71 L328.52,156.86 L328.98,157.01 L329.44,157.16 L329.9,157.31 L330.36,157.46 L330.81,157.61 L331.27,157.76 L331.73,157.91 L332.19,158.05 L332.65,158.2 L333.1,158.34 L333.56,158.48 L334.02,158.62 L334.48,158.75 L334.94,158.89 L335.39,159.02 L335.85,159.15 L336.31,159.27 L336.77,159.39 L337.23,159.5 L337.68,159.62 L338.14,159.72 L338.6,159.83 L339.06,159.92 L339.52,160.02 L339.97,160.1 L340.43,160.18 L340.89,160.26 L341.35,160.33 L341.81,160.39 L342.26,160.45 L342.72,160.49 L343.18,160.54 L343.64,160.57 L344.1,160.6 L344.55,160.61 L345.01,160.62 L345.47,160.62 L345.93,160.61 L346.39,160.59 L346.84,160.56 L347.3,160.52 L347.76,160.46 L348.22,160.39 L348.68,160.31 L349.13,160.22 L349.59,160.11 L350.05,159.99 L350.51,159.85 L350.97,159.7 L351.42,159.52 L351.88,159.33 L352.34,159.11 L352.8,158.87 L353.26,158.6 L353.71,158.3 L354.17,157.97 L354.63,157.6 L355.09,157.19 L355.55,156.75 L356,156.25 L356.46,155.72 L356.92,155.13 L357.38,154.49 L357.84,153.8 L358.29,153.07 L358.75,152.28 L359.21,151.45 L359.67,150.57 L360.13,149.67 L360.58,148.73 L361.04,147.77 L361.5,146.79 L361.96,145.81 L362.42,144.83 L362.87,143.85 L363.33,142.89 L363.79,141.95 L364.25,141.03 L364.71,140.15 L365.16,139.31 L365.62,138.5 L366.08,137.73 L366.54,136.99 L367,136.28 L367.45,135.6 L367.91,134.95 L368.37,134.31 L368.83,133.69 L369.29,133.09 L369.74,132.49 L370.2,131.9 L370.66,131.33 L371.12,130.77 L371.58,130.23 L372.03,129.71 L372.49,129.22 L372.95,128.75 L373.41,128.32 L373.87,127.93 L374.32,127.58 L374.78,127.28 L375.24,127.03 L375.7,126.83 L376.16,126.67 L376.61,126.57 L377.07,126.52 L377.53,126.51 L377.99,126.54 L378.45,126.61 L378.9,126.71 L379.36,126.84 L379.82,126.99 L380.28,127.16 L380.74,127.34 L381.19,127.54 L381.65,127.74 L382.11,127.94 L382.57,128.13 L383.03,128.32 L383.48,128.51 L383.94,128.68 L384.4,128.84 L384.86,128.99 L385.32,129.13 L385.77,129.26 L386.23,129.38 L386.69,129.49 L387.15,129.6 L387.61,129.7 L388.06,129.8 L388.52,129.89 L388.98,129.98 L389.44,130.06 L389.9,130.15 L390.35,130.23 L390.81,130.32 L391.27,130.41 L391.73,130.5 L392.19,130.59 L392.64,130.69 L393.1,130.79 L393.56,130.89 L394.02,130.99 L394.48,131.1 L394.93,131.2 L395.39,131.29 L395.85,131.39 L396.31,131.48 L396.77,131.56 L397.22,131.64 L397.68,131.71 L398.14,131.77 L398.6,131.82 L399.06,131.86 L399.51,131.89 L399.97,131.91 L400.43,131.92 L400.89,131.92 L401.35,131.9 L401.8,131.88 L402.26,131.85 L402.72,131.8 L403.18,131.75 L403.64,131.68 L404.09,131.61 L404.55,131.53 L405.01,131.44 L405.47,131.34 L405.93,131.23 L406.38,131.12 L406.84,131 L407.3,130.88 L407.76,130.76 L408.22,130.63 L408.67,130.5 L409.13,130.36 L409.59,130.21 L410.05,130.06 L410.51,129.91 L410.96,129.74 L411.42,129.58 L411.88,129.41 L412.34,129.23 L412.8,129.06 L413.25,128.88 L413.71,128.69 L414.17,128.5 L414.63,128.31 L415.09,128.12 L415.54,127.93 L416,127.73 L416.46,127.53 L416.92,127.33 L417.38,127.13 L417.83,126.93 L418.29,126.72 L418.75,126.52 L419.21,126.31 L419.67,126.11 L420.12,125.9 L420.58,125.69 L421.04,125.49 L421.5,125.28 L421.96,125.07 L422.41,124.87 L422.87,124.66 L423.33,124.46 L423.79,124.26 L424.25,124.06 L424.7,123.86 L425.16,123.66 L425.62,123.47 L426.08,123.27 L426.54,123.08 L426.99,122.9 L427.45,122.71 L427.91,122.53 L428.37,122.35 L428.83,122.18 L429.28,122.01 L429.74,121.84 L430.2,121.68 L430.66,121.52 L431.12,121.37 L431.57,121.22 L432.03,121.07 L432.49,120.94 L432.95,120.8 L433.41,120.68 L433.86,120.56 L434.32,120.44 L434.78,120.34 L435.24,120.23 L435.7,120.14 L436.15,120.05 L436.61,119.97 L437.07,119.9 L437.53,119.83 L437.99,119.78 L438.44,119.73 L438.9,119.68 L439.36,119.65 L439.82,119.63 L440.28,119.61 L440.73,119.6 L441.19,119.61 L441.65,119.62 L442.11,119.64 L442.57,119.67 L443.02,119.71 L443.48,119.76 L443.94,119.82 L444.4,119.89 L444.86,119.97 L445.31,120.06 L445.77,120.16 L446.23,120.27 L446.69,120.4 L447.15,120.53 L447.6,120.68 L448.06,120.84 L448.52,121.01 L448.98,121.19 L449.44,121.38 L449.89,121.58 L450.35,121.8 L450.81,122.03 L451.27,122.27 L451.73,122.52 L452.18,122.78 L452.64,123.06 L453.1,123.35 L453.56,123.65 L454.02,123.96 L454.47,124.28 L454.93,124.62 L455.39,124.97 L455.85,125.33 L456.31,125.7 L456.76,126.08 L457.22,126.48 L457.68,126.88 L458.14,127.3 L458.6,127.72 L459.05,128.16 L459.51,128.61 L459.97,129.07 L460.43,129.54 L460.89,130.02 L461.34,130.51 L461.8,131.01 L462.26,131.52 L462.72,132.04 L463.18,132.56 L463.63,133.1 L464.09,133.65 L464.55,134.2 L465.01,134.76 L465.47,135.33 L465.92,135.91 L466.38,136.49 L466.84,137.09 L467.3,137.69 L467.76,138.29 L468.21,138.91 L468.67,139.52 L469.13,140.15 L469.59,140.78 L470.05,141.42 L470.5,142.06 L470.96,142.71 L471.42,143.36 L471.88,144.02 L472.34,144.68 L472.79,145.34 L473.25,146.01 L473.71,146.69 L474.17,147.36 L474.63,148.04 L475.08,148.72 L475.54,149.4 L476,150.08 L476.46,150.77 L476.92,151.45 L477.37,152.14 L477.83,152.83 L478.29,153.51 L478.75,154.2 L479.21,154.89 L479.66,155.58 L480.12,156.26 L480.58,156.95 L481.04,157.63 L481.5,158.31 L481.95,158.99 L482.41,159.67 L482.87,160.34 L483.33,161.02 L483.79,161.69 L484.24,162.36 L484.7,163.02 L485.16,163.68 L485.62,164.34 L486.08,165 L486.53,165.66 L486.99,166.31 L487.45,166.96 L487.91,167.6 L488.37,168.25 L488.82,168.89 L489.28,169.53 L489.74,170.16 L490.2,170.8 L490.66,171.43 L491.11,172.06 L491.57,172.69 L492.03,173.31 L492.49,173.94 L492.95,174.56 L493.4,175.18 L493.86,175.8 L494.32,176.42 L494.78,177.04 L495.24,177.65 L495.69,178.27 L496.15,178.89 L496.61,179.5 L497.07,180.12 L497.53,180.74 L497.98,181.35 L498.44,181.97 L498.9,182.59" fill="none" stroke="#1ec4d4" stroke-width="1.5"/>
<path d="M315.7,157.59 L316.16,157.79 L316.62,157.99 L317.07,158.2 L317.53,158.4 L317.99,158.61 L318.45,158.81 L318.91,159.01 L319.36,159.22 L319.82,159.42 L320.28,159.62 L320.74,159.82 L321.2,160.02 L321.65,160.22 L322.11,160.42 L322.57,160.62 L323.03,160.81 L323.49,161.01 L323.94,161.2 L324.4,161.39 L324.86,161.58 L325.32,161.76 L325.78,161.95 L326.23,162.13 L326.69,162.31 L327.15,162.49 L327.61,162.67 L328.07,162.84 L328.52,163.01 L328.98,163.18 L329.44,163.35 L329.9,163.51 L330.36,163.67 L330.81,163.83 L331.27,163.98 L331.73,164.14 L332.19,164.28 L332.65,164.43 L333.1,164.57 L333.56,164.71 L334.02,164.84 L334.48,164.98 L334.94,165.1 L335.39,165.23 L335.85,165.35 L336.31,165.47 L336.77,165.58 L337.23,165.69 L337.68,165.8 L338.14,165.9 L338.6,166 L339.06,166.09 L339.52,166.18 L339.97,166.26 L340.43,166.34 L340.89,166.42 L341.35,166.49 L341.81,166.56 L342.26,166.62 L342.72,166.68 L343.18,166.73 L343.64,166.78 L344.1,166.82 L344.55,166.85 L345.01,166.88 L345.47,166.89 L345.93,166.9 L346.39,166.9 L346.84,166.88 L347.3,166.85 L347.76,166.81 L348.22,166.75 L348.68,166.68 L349.13,166.58 L349.59,166.47 L350.05,166.34 L350.51,166.18 L350.97,166.01 L351.42,165.81 L351.88,165.58 L352.34,165.33 L352.8,165.04 L353.26,164.73 L353.71,164.39 L354.17,164.01 L354.63,163.6 L355.09,163.15 L355.55,162.67 L356,162.14 L356.46,161.58 L356.92,160.97 L357.38,160.32 L357.84,159.63 L358.29,158.9 L358.75,158.13 L359.21,157.33 L359.67,156.5 L360.13,155.64 L360.58,154.76 L361.04,153.86 L361.5,152.97 L361.96,152.07 L362.42,151.18 L362.87,150.3 L363.33,149.45 L363.79,148.62 L364.25,147.83 L364.71,147.07 L365.16,146.35 L365.62,145.67 L366.08,145.03 L366.54,144.43 L367,143.86 L367.45,143.32 L367.91,142.8 L368.37,142.3 L368.83,141.81 L369.29,141.34 L369.74,140.87 L370.2,140.41 L370.66,139.95 L371.12,139.51 L371.58,139.07 L372.03,138.65 L372.49,138.24 L372.95,137.86 L373.41,137.49 L373.87,137.16 L374.32,136.85 L374.78,136.57 L375.24,136.33 L375.7,136.12 L376.16,135.95 L376.61,135.82 L377.07,135.72 L377.53,135.65 L377.99,135.62 L378.45,135.62 L378.9,135.64 L379.36,135.69 L379.82,135.76 L380.28,135.85 L380.74,135.96 L381.19,136.08 L381.65,136.21 L382.11,136.35 L382.57,136.49 L383.03,136.65 L383.48,136.8 L383.94,136.96 L384.4,137.11 L384.86,137.27 L385.32,137.43 L385.77,137.58 L386.23,137.74 L386.69,137.89 L387.15,138.05 L387.61,138.2 L388.06,138.35 L388.52,138.5 L388.98,138.65 L389.44,138.8 L389.9,138.95 L390.35,139.09 L390.81,139.24 L391.27,139.38 L391.73,139.52 L392.19,139.66 L392.64,139.79 L393.1,139.92 L393.56,140.05 L394.02,140.17 L394.48,140.28 L394.93,140.38 L395.39,140.47 L395.85,140.56 L396.31,140.64 L396.77,140.71 L397.22,140.78 L397.68,140.83 L398.14,140.87 L398.6,140.9 L399.06,140.92 L399.51,140.93 L399.97,140.93 L400.43,140.91 L400.89,140.89 L401.35,140.85 L401.8,140.81 L402.26,140.75 L402.72,140.69 L403.18,140.62 L403.64,140.54 L404.09,140.45 L404.55,140.35 L405.01,140.25 L405.47,140.14 L405.93,140.03 L406.38,139.91 L406.84,139.79 L407.3,139.66 L407.76,139.54 L408.22,139.41 L408.67,139.28 L409.13,139.14 L409.59,139 L410.05,138.85 L410.51,138.7 L410.96,138.55 L411.42,138.39 L411.88,138.23 L412.34,138.06 L412.8,137.89 L413.25,137.72 L413.71,137.54 L414.17,137.36 L414.63,137.18 L415.09,136.99 L415.54,136.8 L416,136.6 L416.46,136.4 L416.92,136.19 L417.38,135.98 L417.83,135.77 L418.29,135.55 L418.75,135.32 L419.21,135.09 L419.67,134.86 L420.12,134.62 L420.58,134.37 L421.04,134.12 L421.5,133.87 L421.96,133.61 L422.41,133.35 L422.87,133.08 L423.33,132.81 L423.79,132.53 L424.25,132.25 L424.7,131.97 L425.16,131.68 L425.62,131.4 L426.08,131.11 L426.54,130.82 L426.99,130.52 L427.45,130.23 L427.91,129.94 L428.37,129.65 L428.83,129.36 L429.28,129.07 L429.74,128.78 L430.2,128.5 L430.66,128.21 L431.12,127.93 L431.57,127.66 L432.03,127.38 L432.49,127.11 L432.95,126.85 L433.41,126.59 L433.86,126.33 L434.32,126.08 L434.78,125.83 L435.24,125.59 L435.7,125.35 L436.15,125.12 L436.61,124.9 L437.07,124.68 L437.53,124.46 L437.99,124.25 L438.44,124.05 L438.9,123.85 L439.36,123.65 L439.82,123.46 L440.28,123.28 L440.73,123.1 L441.19,122.93 L441.65,122.76 L442.11,122.59 L442.57,122.44 L443.02,122.28 L443.48,122.13 L443.94,121.99 L444.4,121.85 L444.86,121.72 L445.31,121.59 L445.77,121.47 L446.23,121.35 L446.69,121.24 L447.15,121.13 L447.6,121.03 L448.06,120.93 L448.52,120.84 L448.98,120.75 L449.44,120.68 L449.89,120.6 L450.35,120.54 L450.81,120.48 L451.27,120.43 L451.73,120.38 L452.18,120.34 L452.64,120.31 L453.1,120.29 L453.56,120.28 L454.02,120.28 L454.47,120.28 L454.93,120.3 L455.39,120.32 L455.85,120.36 L456.31,120.41 L456.76,120.46 L457.22,120.54 L457.68,120.62 L458.14,120.72 L458.6,120.83 L459.05,120.96 L459.51,121.1 L459.97,121.25 L460.43,121.43 L460.89,121.61 L461.34,121.82 L461.8,122.04 L462.26,122.28 L462.72,122.54 L463.18,122.81 L463.63,123.11 L464.09,123.42 L464.55,123.75 L465.01,124.1 L465.47,124.47 L465.92,124.85 L466.38,125.26 L466.84,125.68 L467.3,126.12 L467.76,126.58 L468.21,127.05 L468.67,127.54 L469.13,128.05 L469.59,128.57 L470.05,129.11 L470.5,129.66 L470.96,130.22 L471.42,130.8 L471.88,131.39 L472.34,132 L472.79,132.61 L473.25,133.23 L473.71,133.87 L474.17,134.51 L474.63,135.16 L475.08,135.82 L475.54,136.49 L476,137.16 L476.46,137.84 L476.92,138.53 L477.37,139.22 L477.83,139.91 L478.29,140.61 L478.75,141.31 L479.21,142.01 L479.66,142.72 L480.12,143.42 L480.58,144.13 L481.04,144.84 L481.5,145.55 L481.95,146.25 L482.41,146.96 L482.87,147.67 L483.33,148.38 L483.79,149.08 L484.24,149.79 L484.7,150.49 L485.16,151.19 L485.62,151.89 L486.08,152.58 L486.53,153.28 L486.99,153.97 L487.45,154.66 L487.91,155.34 L488.37,156.02 L488.82,156.7 L489.28,157.38 L489.74,158.06 L490.2,158.73 L490.66,159.4 L491.11,160.06 L491.57,160.73 L492.03,161.39 L492.49,162.05 L492.95,162.71 L493.4,163.36 L493.86,164.01 L494.32,164.66 L494.78,165.31 L495.24,165.96 L495.69,166.61 L496.15,167.26 L496.61,167.9 L497.07,168.55 L497.53,169.19 L497.98,169.83 L498.44,170.48 L498.9,171.12" fill="none" stroke="#9b4d52" stroke-width="1.5"/>
<path d="M315.7,160.47 L316.16,160.64 L316.62,160.81 L317.07,160.98 L317.53,161.15 L317.99,161.32 L318.45,161.49 L318.91,161.66 L319.36,161.82 L319.82,161.99 L320.28,162.16 L320.74,162.33 L321.2,162.5 L321.65,162.66 L322.11,162.83 L322.57,163 L323.03,163.16 L323.49,163.33 L323.94,163.5 L324.4,163.66 L324.86,163.82 L325.32,163.99 L325.78,164.15 L326.23,164.31 L326.69,164.47 L327.15,164.63 L327.61,164.79 L328.07,164.95 L328.52,165.11 L328.98,165.27 L329.44,165.42 L329.9,165.58 L330.36,165.73 L330.81,165.88 L331.27,166.03 L331.73,166.18 L332.19,166.33 L332.65,166.47 L333.1,166.62 L333.56,166.76 L334.02,166.9 L334.48,167.03 L334.94,167.17 L335.39,167.3 L335.85,167.43 L336.31,167.55 L336.77,167.67 L337.23,167.79 L337.68,167.9 L338.14,168.01 L338.6,168.12 L339.06,168.22 L339.52,168.32 L339.97,168.41 L340.43,168.5 L340.89,168.59 L341.35,168.67 L341.81,168.74 L342.26,168.81 L342.72,168.87 L343.18,168.93 L343.64,168.98 L344.1,169.02 L344.55,169.06 L345.01,169.08 L345.47,169.1 L345.93,169.11 L346.39,169.11 L346.84,169.09 L347.3,169.06 L347.76,169.02 L348.22,168.96 L348.68,168.88 L349.13,168.79 L349.59,168.68 L350.05,168.54 L350.51,168.39 L350.97,168.22 L351.42,168.02 L351.88,167.8 L352.34,167.55 L352.8,167.28 L353.26,166.98 L353.71,166.65 L354.17,166.3 L354.63,165.91 L355.09,165.5 L355.55,165.05 L356,164.57 L356.46,164.07 L356.92,163.52 L357.38,162.95 L357.84,162.34 L358.29,161.7 L358.75,161.03 L359.21,160.33 L359.67,159.6 L360.13,158.86 L360.58,158.1 L361.04,157.32 L361.5,156.54 L361.96,155.76 L362.42,154.97 L362.87,154.19 L363.33,153.43 L363.79,152.67 L364.25,151.94 L364.71,151.23 L365.16,150.55 L365.62,149.89 L366.08,149.26 L366.54,148.65 L367,148.07 L367.45,147.52 L367.91,146.99 L368.37,146.48 L368.83,146 L369.29,145.53 L369.74,145.08 L370.2,144.65 L370.66,144.23 L371.12,143.84 L371.58,143.47 L372.03,143.12 L372.49,142.8 L372.95,142.5 L373.41,142.23 L373.87,141.99 L374.32,141.78 L374.78,141.6 L375.24,141.45 L375.7,141.34 L376.16,141.26 L376.61,141.22 L377.07,141.2 L377.53,141.22 L377.99,141.26 L378.45,141.33 L378.9,141.42 L379.36,141.53 L379.82,141.65 L380.28,141.8 L380.74,141.95 L381.19,142.12 L381.65,142.29 L382.11,142.47 L382.57,142.65 L383.03,142.83 L383.48,143.01 L383.94,143.19 L384.4,143.37 L384.86,143.54 L385.32,143.71 L385.77,143.88 L386.23,144.04 L386.69,144.2 L387.15,144.36 L387.61,144.52 L388.06,144.67 L388.52,144.81 L388.98,144.95 L389.44,145.09 L389.9,145.23 L390.35,145.36 L390.81,145.49 L391.27,145.61 L391.73,145.73 L392.19,145.85 L392.64,145.96 L393.1,146.07 L393.56,146.17 L394.02,146.27 L394.48,146.35 L394.93,146.43 L395.39,146.51 L395.85,146.58 L396.31,146.64 L396.77,146.7 L397.22,146.75 L397.68,146.79 L398.14,146.83 L398.6,146.85 L399.06,146.87 L399.51,146.89 L399.97,146.89 L400.43,146.89 L400.89,146.87 L401.35,146.85 L401.8,146.82 L402.26,146.78 L402.72,146.73 L403.18,146.67 L403.64,146.6 L404.09,146.52 L404.55,146.43 L405.01,146.34 L405.47,146.23 L405.93,146.11 L406.38,145.98 L406.84,145.85 L407.3,145.7 L407.76,145.56 L408.22,145.41 L408.67,145.26 L409.13,145.09 L409.59,144.92 L410.05,144.74 L410.51,144.55 L410.96,144.36 L411.42,144.16 L411.88,143.95 L412.34,143.73 L412.8,143.52 L413.25,143.29 L413.71,143.07 L414.17,142.83 L414.63,142.6 L415.09,142.36 L415.54,142.12 L416,141.88 L416.46,141.63 L416.92,141.38 L417.38,141.13 L417.83,140.88 L418.29,140.63 L418.75,140.38 L419.21,140.12 L419.67,139.86 L420.12,139.61 L420.58,139.35 L421.04,139.09 L421.5,138.83 L421.96,138.56 L422.41,138.3 L422.87,138.03 L423.33,137.76 L423.79,137.49 L424.25,137.22 L424.7,136.95 L425.16,136.67 L425.62,136.39 L426.08,136.11 L426.54,135.82 L426.99,135.54 L427.45,135.25 L427.91,134.95 L428.37,134.66 L428.83,134.36 L429.28,134.07 L429.74,133.77 L430.2,133.46 L430.66,133.16 L431.12,132.86 L431.57,132.55 L432.03,132.24 L432.49,131.94 L432.95,131.63 L433.41,131.33 L433.86,131.02 L434.32,130.72 L434.78,130.42 L435.24,130.12 L435.7,129.82 L436.15,129.52 L436.61,129.23 L437.07,128.94 L437.53,128.65 L437.99,128.37 L438.44,128.1 L438.9,127.82 L439.36,127.56 L439.82,127.29 L440.28,127.04 L440.73,126.79 L441.19,126.54 L441.65,126.3 L442.11,126.07 L442.57,125.84 L443.02,125.62 L443.48,125.4 L443.94,125.2 L444.4,125 L444.86,124.8 L445.31,124.61 L445.77,124.43 L446.23,124.25 L446.69,124.08 L447.15,123.92 L447.6,123.77 L448.06,123.62 L448.52,123.47 L448.98,123.34 L449.44,123.21 L449.89,123.08 L450.35,122.97 L450.81,122.85 L451.27,122.75 L451.73,122.65 L452.18,122.56 L452.64,122.48 L453.1,122.4 L453.56,122.33 L454.02,122.26 L454.47,122.21 L454.93,122.16 L455.39,122.12 L455.85,122.09 L456.31,122.06 L456.76,122.05 L457.22,122.04 L457.68,122.05 L458.14,122.06 L458.6,122.09 L459.05,122.13 L459.51,122.17 L459.97,122.23 L460.43,122.31 L460.89,122.39 L461.34,122.49 L461.8,122.61 L462.26,122.74 L462.72,122.88 L463.18,123.04 L463.63,123.21 L464.09,123.4 L464.55,123.6 L465.01,123.82 L465.47,124.06 L465.92,124.31 L466.38,124.58 L466.84,124.86 L467.3,125.16 L467.76,125.48 L468.21,125.81 L468.67,126.16 L469.13,126.52 L469.59,126.9 L470.05,127.29 L470.5,127.7 L470.96,128.12 L471.42,128.55 L471.88,129 L472.34,129.46 L472.79,129.93 L473.25,130.42 L473.71,130.92 L474.17,131.42 L474.63,131.94 L475.08,132.47 L475.54,133.01 L476,133.55 L476.46,134.11 L476.92,134.67 L477.37,135.24 L477.83,135.82 L478.29,136.41 L478.75,137 L479.21,137.6 L479.66,138.21 L480.12,138.82 L480.58,139.43 L481.04,140.05 L481.5,140.68 L481.95,141.31 L482.41,141.94 L482.87,142.58 L483.33,143.22 L483.79,143.87 L484.24,144.51 L484.7,145.16 L485.16,145.82 L485.62,146.47 L486.08,147.13 L486.53,147.79 L486.99,148.45 L487.45,149.12 L487.91,149.78 L488.37,150.45 L488.82,151.12 L489.28,151.79 L489.74,152.46 L490.2,153.14 L490.66,153.81 L491.11,154.49 L491.57,155.16 L492.03,155.84 L492.49,156.52 L492.95,157.2 L493.4,157.88 L493.86,158.56 L494.32,159.24 L494.78,159.92 L495.24,160.61 L495.69,161.29 L496.15,161.97 L496.61,162.65 L497.07,163.33 L497.53,164.02 L497.98,164.7 L498.44,165.38 L498.9,166.06" fill="none" stroke="#8a8a21" stroke-width="1.5"/>
<g fill="#111">
<line x1="507" y1="81.5" x2="519.2" y2="81.5" stroke="#444" stroke-width="1.6"/>
<text x="520.6" y="84.4" font-size="8.5" text-anchor="start" style="stroke-width:0.06px" >pH=8</text>
<line x1="507" y1="92.05" x2="519.2" y2="92.05" stroke="#f0197d" stroke-width="1.6"/>
<text x="520.6" y="94.95" font-size="8.5" text-anchor="start" style="stroke-width:0.06px" >pH=7.5</text>
<line x1="507" y1="102.6" x2="519.2" y2="102.6" stroke="#1ea5e0" stroke-width="1.6"/>
<text x="520.6" y="105.5" font-size="8.5" text-anchor="start" style="stroke-width:0.06px" >pH=7</text>
<line x1="507" y1="113.15" x2="519.2" y2="113.15" stroke="#17917a" stroke-width="1.6"/>
<text x="520.6" y="116.05" font-size="8.5" text-anchor="start" style="stroke-width:0.06px" >pH=6.5</text>
<line x1="507" y1="123.7" x2="519.2" y2="123.7" stroke="#b77fd6" stroke-width="1.6"/>
<text x="520.6" y="126.6" font-size="8.5" text-anchor="start" style="stroke-width:0.06px" >pH=6</text>
<line x1="507" y1="134.25" x2="519.2" y2="134.25" stroke="#e4a11b" stroke-width="1.6"/>
<text x="520.6" y="137.15" font-size="8.5" text-anchor="start" style="stroke-width:0.06px" >pH=5.5</text>
<line x1="507" y1="144.8" x2="519.2" y2="144.8" stroke="#1ec4d4" stroke-width="1.6"/>
<text x="520.6" y="147.7" font-size="8.5" text-anchor="start" style="stroke-width:0.06px" >pH=5</text>
<line x1="507" y1="155.35" x2="519.2" y2="155.35" stroke="#9b4d52" stroke-width="1.6"/>
<text x="520.6" y="158.25" font-size="8.5" text-anchor="start" style="stroke-width:0.06px" >pH=4.5</text>
<line x1="507" y1="165.9" x2="519.2" y2="165.9" stroke="#8a8a21" stroke-width="1.6"/>
<text x="520.6" y="168.8" font-size="8.5" text-anchor="start" style="stroke-width:0.06px" >pH=4</text>
</g>
<rect x="45.5" y="280.8" width="215.3" height="173.7" fill="none" stroke="#111" stroke-width="1.45"/>
<g fill="#111">
<line x1="42.5" y1="454.5" x2="45.5" y2="454.5" stroke="#111" stroke-width="1.3"/>
<text x="39.7" y="458" font-size="10.2" text-anchor="end" style="stroke-width:0.2px" >0.0</text>
<line x1="42.5" y1="419.76" x2="45.5" y2="419.76" stroke="#111" stroke-width="1.3"/>
<text x="39.7" y="423.26" font-size="10.2" text-anchor="end" style="stroke-width:0.2px" >0.4</text>
<line x1="42.5" y1="385.02" x2="45.5" y2="385.02" stroke="#111" stroke-width="1.3"/>
<text x="39.7" y="388.52" font-size="10.2" text-anchor="end" style="stroke-width:0.2px" >0.8</text>
<line x1="42.5" y1="350.28" x2="45.5" y2="350.28" stroke="#111" stroke-width="1.3"/>
<text x="39.7" y="353.78" font-size="10.2" text-anchor="end" style="stroke-width:0.2px" >1.2</text>
<line x1="42.5" y1="315.54" x2="45.5" y2="315.54" stroke="#111" stroke-width="1.3"/>
<text x="39.7" y="319.04" font-size="10.2" text-anchor="end" style="stroke-width:0.2px" >1.6</text>
<line x1="42.5" y1="280.8" x2="45.5" y2="280.8" stroke="#111" stroke-width="1.3"/>
<text x="39.7" y="284.3" font-size="10.2" text-anchor="end" style="stroke-width:0.2px" >2.0</text>
<line x1="45.5" y1="437.13" x2="43.7" y2="437.13" stroke="#111" stroke-width="1"/>
<line x1="45.5" y1="402.39" x2="43.7" y2="402.39" stroke="#111" stroke-width="1"/>
<line x1="45.5" y1="367.65" x2="43.7" y2="367.65" stroke="#111" stroke-width="1"/>
<line x1="45.5" y1="332.91" x2="43.7" y2="332.91" stroke="#111" stroke-width="1"/>
<line x1="45.5" y1="298.17" x2="43.7" y2="298.17" stroke="#111" stroke-width="1"/>
<line x1="45.5" y1="454.5" x2="45.5" y2="457.5" stroke="#111" stroke-width="1.3"/>
<text x="45.5" y="467.8" font-size="10" text-anchor="middle" style="stroke-width:0.2px" >400</text>
<line x1="99.33" y1="454.5" x2="99.33" y2="457.5" stroke="#111" stroke-width="1.3"/>
<text x="99.33" y="467.8" font-size="10" text-anchor="middle" style="stroke-width:0.2px" >500</text>
<line x1="153.15" y1="454.5" x2="153.15" y2="457.5" stroke="#111" stroke-width="1.3"/>
<text x="153.15" y="467.8" font-size="10" text-anchor="middle" style="stroke-width:0.2px" >600</text>
<line x1="206.98" y1="454.5" x2="206.98" y2="457.5" stroke="#111" stroke-width="1.3"/>
<text x="206.98" y="467.8" font-size="10" text-anchor="middle" style="stroke-width:0.2px" >700</text>
<line x1="260.8" y1="454.5" x2="260.8" y2="457.5" stroke="#111" stroke-width="1.3"/>
<text x="260.8" y="467.8" font-size="10" text-anchor="middle" style="stroke-width:0.2px" >800</text>
<line x1="72.41" y1="454.5" x2="72.41" y2="456.3" stroke="#111" stroke-width="1"/>
<line x1="126.24" y1="454.5" x2="126.24" y2="456.3" stroke="#111" stroke-width="1"/>
<line x1="180.06" y1="454.5" x2="180.06" y2="456.3" stroke="#111" stroke-width="1"/>
<line x1="233.89" y1="454.5" x2="233.89" y2="456.3" stroke="#111" stroke-width="1"/>
<text x="157.5" y="480.8" font-size="13.4" text-anchor="middle" style="stroke-width:0.2px" >Wavelength (nm)</text>
<text transform="translate(20.8,349.5) rotate(-90)" font-size="12" text-anchor="middle">Absorbance (a.u.)</text>
</g>
<path d="M45.5,367 L46.04,367.12 L46.58,367.24 L47.11,367.36 L47.65,367.47 L48.19,367.59 L48.73,367.71 L49.27,367.82 L49.81,367.94 L50.34,368.06 L50.88,368.17 L51.42,368.29 L51.96,368.41 L52.5,368.53 L53.04,368.65 L53.57,368.76 L54.11,368.88 L54.65,369 L55.19,369.12 L55.73,369.24 L56.27,369.37 L56.8,369.49 L57.34,369.61 L57.88,369.74 L58.42,369.86 L58.96,369.98 L59.49,370.11 L60.03,370.24 L60.57,370.37 L61.11,370.49 L61.65,370.62 L62.19,370.76 L62.72,370.89 L63.26,371.02 L63.8,371.15 L64.34,371.29 L64.88,371.43 L65.42,371.56 L65.95,371.7 L66.49,371.84 L67.03,371.97 L67.57,372.11 L68.11,372.24 L68.64,372.38 L69.18,372.51 L69.72,372.64 L70.26,372.76 L70.8,372.88 L71.34,373 L71.87,373.11 L72.41,373.21 L72.95,373.31 L73.49,373.4 L74.03,373.49 L74.57,373.56 L75.1,373.63 L75.64,373.68 L76.18,373.73 L76.72,373.76 L77.26,373.78 L77.8,373.79 L78.33,373.78 L78.87,373.75 L79.41,373.71 L79.95,373.65 L80.49,373.57 L81.02,373.47 L81.56,373.35 L82.1,373.2 L82.64,373.03 L83.18,372.83 L83.72,372.6 L84.25,372.35 L84.79,372.07 L85.33,371.76 L85.87,371.42 L86.41,371.05 L86.95,370.65 L87.48,370.22 L88.02,369.76 L88.56,369.27 L89.1,368.76 L89.64,368.23 L90.17,367.67 L90.71,367.09 L91.25,366.49 L91.79,365.87 L92.33,365.23 L92.87,364.58 L93.4,363.92 L93.94,363.24 L94.48,362.54 L95.02,361.84 L95.56,361.13 L96.1,360.42 L96.63,359.7 L97.17,358.97 L97.71,358.25 L98.25,357.53 L98.79,356.81 L99.33,356.09 L99.86,355.39 L100.4,354.69 L100.94,354.01 L101.48,353.34 L102.02,352.69 L102.55,352.06 L103.09,351.45 L103.63,350.86 L104.17,350.3 L104.71,349.77 L105.25,349.26 L105.78,348.79 L106.32,348.35 L106.86,347.94 L107.4,347.57 L107.94,347.23 L108.48,346.92 L109.01,346.64 L109.55,346.39 L110.09,346.17 L110.63,345.97 L111.17,345.8 L111.7,345.65 L112.24,345.53 L112.78,345.42 L113.32,345.33 L113.86,345.26 L114.4,345.2 L114.93,345.16 L115.47,345.13 L116.01,345.11 L116.55,345.1 L117.09,345.1 L117.63,345.11 L118.16,345.12 L118.7,345.15 L119.24,345.17 L119.78,345.2 L120.32,345.24 L120.86,345.28 L121.39,345.32 L121.93,345.37 L122.47,345.42 L123.01,345.47 L123.55,345.52 L124.08,345.57 L124.62,345.62 L125.16,345.67 L125.7,345.72 L126.24,345.77 L126.78,345.82 L127.31,345.87 L127.85,345.92 L128.39,345.97 L128.93,346.02 L129.47,346.08 L130.01,346.13 L130.54,346.18 L131.08,346.24 L131.62,346.29 L132.16,346.36 L132.7,346.42 L133.23,346.49 L133.77,346.56 L134.31,346.63 L134.85,346.71 L135.39,346.79 L135.93,346.87 L136.46,346.95 L137,347.03 L137.54,347.11 L138.08,347.2 L138.62,347.28 L139.16,347.36 L139.69,347.43 L140.23,347.5 L140.77,347.57 L141.31,347.63 L141.85,347.69 L142.38,347.74 L142.92,347.78 L143.46,347.82 L144,347.85 L144.54,347.87 L145.08,347.89 L145.61,347.89 L146.15,347.89 L146.69,347.88 L147.23,347.87 L147.77,347.85 L148.31,347.83 L148.84,347.8 L149.38,347.76 L149.92,347.72 L150.46,347.68 L151,347.63 L151.54,347.57 L152.07,347.51 L152.61,347.45 L153.15,347.39 L153.69,347.32 L154.23,347.25 L154.76,347.18 L155.3,347.11 L155.84,347.04 L156.38,346.97 L156.92,346.91 L157.46,346.84 L157.99,346.78 L158.53,346.73 L159.07,346.68 L159.61,346.63 L160.15,346.59 L160.69,346.55 L161.22,346.52 L161.76,346.5 L162.3,346.48 L162.84,346.47 L163.38,346.47 L163.92,346.47 L164.45,346.48 L164.99,346.5 L165.53,346.52 L166.07,346.55 L166.61,346.59 L167.14,346.63 L167.68,346.68 L168.22,346.74 L168.76,346.8 L169.3,346.87 L169.84,346.95 L170.37,347.03 L170.91,347.12 L171.45,347.22 L171.99,347.32 L172.53,347.43 L173.07,347.55 L173.6,347.67 L174.14,347.8 L174.68,347.93 L175.22,348.08 L175.76,348.23 L176.29,348.38 L176.83,348.55 L177.37,348.72 L177.91,348.91 L178.45,349.1 L178.99,349.3 L179.52,349.51 L180.06,349.73 L180.6,349.96 L181.14,350.2 L181.68,350.45 L182.22,350.72 L182.75,351 L183.29,351.29 L183.83,351.6 L184.37,351.92 L184.91,352.26 L185.45,352.61 L185.98,352.98 L186.52,353.36 L187.06,353.76 L187.6,354.17 L188.14,354.6 L188.67,355.05 L189.21,355.51 L189.75,355.99 L190.29,356.48 L190.83,356.98 L191.37,357.5 L191.9,358.03 L192.44,358.57 L192.98,359.11 L193.52,359.67 L194.06,360.23 L194.6,360.8 L195.13,361.37 L195.67,361.95 L196.21,362.53 L196.75,363.11 L197.29,363.69 L197.82,364.26 L198.36,364.84 L198.9,365.41 L199.44,365.98 L199.98,366.55 L200.52,367.11 L201.05,367.67 L201.59,368.22 L202.13,368.77 L202.67,369.31 L203.21,369.85 L203.75,370.38 L204.28,370.91 L204.82,371.43 L205.36,371.95 L205.9,372.47 L206.44,372.98 L206.98,373.5 L207.51,374.01 L208.05,374.52 L208.59,375.04 L209.13,375.55 L209.67,376.06 L210.2,376.58 L210.74,377.1 L211.28,377.62 L211.82,378.15 L212.36,378.68 L212.9,379.21 L213.43,379.75 L213.97,380.29 L214.51,380.84 L215.05,381.39 L215.59,381.95 L216.13,382.51 L216.66,383.07 L217.2,383.64 L217.74,384.22 L218.28,384.8 L218.82,385.38 L219.35,385.96 L219.89,386.55 L220.43,387.14 L220.97,387.73 L221.51,388.33 L222.05,388.92 L222.58,389.52 L223.12,390.12 L223.66,390.72 L224.2,391.32 L224.74,391.92 L225.28,392.52 L225.81,393.11 L226.35,393.71 L226.89,394.31 L227.43,394.9 L227.97,395.49 L228.5,396.08 L229.04,396.66 L229.58,397.24 L230.12,397.82 L230.66,398.39 L231.2,398.96 L231.73,399.52 L232.27,400.08 L232.81,400.63 L233.35,401.18 L233.89,401.71 L234.43,402.24 L234.96,402.77 L235.5,403.28 L236.04,403.79 L236.58,404.29 L237.12,404.78 L237.66,405.26 L238.19,405.73 L238.73,406.19 L239.27,406.64 L239.81,407.08 L240.35,407.51 L240.88,407.93 L241.42,408.34 L241.96,408.74 L242.5,409.12 L243.04,409.5 L243.58,409.87 L244.11,410.23 L244.65,410.58 L245.19,410.92 L245.73,411.25 L246.27,411.57 L246.81,411.88 L247.34,412.19 L247.88,412.48 L248.42,412.77 L248.96,413.05 L249.5,413.32 L250.03,413.59 L250.57,413.85 L251.11,414.1 L251.65,414.35 L252.19,414.59 L252.73,414.83 L253.26,415.06 L253.8,415.29 L254.34,415.52 L254.88,415.74 L255.42,415.96 L255.96,416.18 L256.49,416.4 L257.03,416.62 L257.57,416.83 L258.11,417.05 L258.65,417.27 L259.19,417.49 L259.72,417.72 L260.26,417.94 L260.8,418.17" fill="none" stroke="#c39ade" stroke-width="1.6"/>
<path d="M45.5,356.12 L46.04,356.27 L46.58,356.43 L47.11,356.58 L47.65,356.73 L48.19,356.89 L48.73,357.04 L49.27,357.19 L49.81,357.35 L50.34,357.5 L50.88,357.66 L51.42,357.81 L51.96,357.96 L52.5,358.12 L53.04,358.27 L53.57,358.43 L54.11,358.58 L54.65,358.73 L55.19,358.89 L55.73,359.04 L56.27,359.2 L56.8,359.35 L57.34,359.5 L57.88,359.66 L58.42,359.81 L58.96,359.97 L59.49,360.12 L60.03,360.28 L60.57,360.43 L61.11,360.59 L61.65,360.74 L62.19,360.9 L62.72,361.05 L63.26,361.21 L63.8,361.36 L64.34,361.52 L64.88,361.67 L65.42,361.83 L65.95,361.98 L66.49,362.13 L67.03,362.29 L67.57,362.43 L68.11,362.58 L68.64,362.72 L69.18,362.86 L69.72,362.99 L70.26,363.11 L70.8,363.23 L71.34,363.34 L71.87,363.44 L72.41,363.53 L72.95,363.62 L73.49,363.69 L74.03,363.75 L74.57,363.79 L75.1,363.83 L75.64,363.85 L76.18,363.85 L76.72,363.84 L77.26,363.81 L77.8,363.77 L78.33,363.7 L78.87,363.62 L79.41,363.51 L79.95,363.38 L80.49,363.24 L81.02,363.06 L81.56,362.87 L82.1,362.64 L82.64,362.39 L83.18,362.12 L83.72,361.81 L84.25,361.48 L84.79,361.12 L85.33,360.73 L85.87,360.3 L86.41,359.85 L86.95,359.37 L87.48,358.86 L88.02,358.32 L88.56,357.76 L89.1,357.18 L89.64,356.57 L90.17,355.94 L90.71,355.29 L91.25,354.63 L91.79,353.95 L92.33,353.26 L92.87,352.56 L93.4,351.84 L93.94,351.12 L94.48,350.4 L95.02,349.67 L95.56,348.93 L96.1,348.2 L96.63,347.47 L97.17,346.73 L97.71,346.01 L98.25,345.28 L98.79,344.57 L99.33,343.86 L99.86,343.16 L100.4,342.47 L100.94,341.8 L101.48,341.13 L102.02,340.48 L102.55,339.85 L103.09,339.24 L103.63,338.64 L104.17,338.06 L104.71,337.51 L105.25,336.97 L105.78,336.46 L106.32,335.98 L106.86,335.51 L107.4,335.08 L107.94,334.66 L108.48,334.27 L109.01,333.91 L109.55,333.57 L110.09,333.25 L110.63,332.96 L111.17,332.69 L111.7,332.44 L112.24,332.21 L112.78,332.01 L113.32,331.82 L113.86,331.65 L114.4,331.51 L114.93,331.38 L115.47,331.27 L116.01,331.18 L116.55,331.1 L117.09,331.05 L117.63,331.01 L118.16,330.98 L118.7,330.97 L119.24,330.97 L119.78,330.98 L120.32,331.01 L120.86,331.05 L121.39,331.1 L121.93,331.15 L122.47,331.22 L123.01,331.29 L123.55,331.36 L124.08,331.44 L124.62,331.53 L125.16,331.62 L125.7,331.71 L126.24,331.8 L126.78,331.89 L127.31,331.99 L127.85,332.09 L128.39,332.19 L128.93,332.29 L129.47,332.39 L130.01,332.5 L130.54,332.6 L131.08,332.71 L131.62,332.82 L132.16,332.94 L132.7,333.06 L133.23,333.18 L133.77,333.3 L134.31,333.43 L134.85,333.56 L135.39,333.69 L135.93,333.82 L136.46,333.95 L137,334.07 L137.54,334.2 L138.08,334.33 L138.62,334.45 L139.16,334.57 L139.69,334.68 L140.23,334.79 L140.77,334.89 L141.31,334.99 L141.85,335.08 L142.38,335.16 L142.92,335.23 L143.46,335.3 L144,335.35 L144.54,335.4 L145.08,335.44 L145.61,335.48 L146.15,335.5 L146.69,335.52 L147.23,335.53 L147.77,335.54 L148.31,335.55 L148.84,335.55 L149.38,335.55 L149.92,335.54 L150.46,335.53 L151,335.51 L151.54,335.49 L152.07,335.47 L152.61,335.44 L153.15,335.42 L153.69,335.39 L154.23,335.36 L154.76,335.33 L155.3,335.31 L155.84,335.28 L156.38,335.25 L156.92,335.23 L157.46,335.21 L157.99,335.19 L158.53,335.17 L159.07,335.16 L159.61,335.15 L160.15,335.15 L160.69,335.15 L161.22,335.15 L161.76,335.16 L162.3,335.17 L162.84,335.19 L163.38,335.21 L163.92,335.23 L164.45,335.26 L164.99,335.29 L165.53,335.33 L166.07,335.37 L166.61,335.41 L167.14,335.46 L167.68,335.51 L168.22,335.57 L168.76,335.63 L169.3,335.7 L169.84,335.77 L170.37,335.85 L170.91,335.93 L171.45,336.02 L171.99,336.12 L172.53,336.22 L173.07,336.33 L173.6,336.45 L174.14,336.58 L174.68,336.72 L175.22,336.87 L175.76,337.03 L176.29,337.2 L176.83,337.39 L177.37,337.59 L177.91,337.8 L178.45,338.03 L178.99,338.28 L179.52,338.55 L180.06,338.83 L180.6,339.13 L181.14,339.45 L181.68,339.79 L182.22,340.15 L182.75,340.53 L183.29,340.93 L183.83,341.35 L184.37,341.8 L184.91,342.26 L185.45,342.74 L185.98,343.25 L186.52,343.77 L187.06,344.32 L187.6,344.89 L188.14,345.47 L188.67,346.07 L189.21,346.69 L189.75,347.33 L190.29,347.99 L190.83,348.65 L191.37,349.34 L191.9,350.03 L192.44,350.74 L192.98,351.45 L193.52,352.17 L194.06,352.91 L194.6,353.64 L195.13,354.38 L195.67,355.13 L196.21,355.87 L196.75,356.62 L197.29,357.36 L197.82,358.11 L198.36,358.85 L198.9,359.59 L199.44,360.32 L199.98,361.05 L200.52,361.77 L201.05,362.49 L201.59,363.2 L202.13,363.91 L202.67,364.61 L203.21,365.3 L203.75,365.99 L204.28,366.68 L204.82,367.36 L205.36,368.04 L205.9,368.71 L206.44,369.38 L206.98,370.05 L207.51,370.72 L208.05,371.38 L208.59,372.05 L209.13,372.72 L209.67,373.39 L210.2,374.06 L210.74,374.73 L211.28,375.41 L211.82,376.08 L212.36,376.77 L212.9,377.45 L213.43,378.14 L213.97,378.84 L214.51,379.53 L215.05,380.23 L215.59,380.94 L216.13,381.65 L216.66,382.36 L217.2,383.07 L217.74,383.79 L218.28,384.5 L218.82,385.22 L219.35,385.94 L219.89,386.66 L220.43,387.38 L220.97,388.1 L221.51,388.81 L222.05,389.53 L222.58,390.24 L223.12,390.95 L223.66,391.66 L224.2,392.36 L224.74,393.05 L225.28,393.74 L225.81,394.43 L226.35,395.11 L226.89,395.78 L227.43,396.44 L227.97,397.1 L228.5,397.74 L229.04,398.38 L229.58,399.02 L230.12,399.64 L230.66,400.25 L231.2,400.86 L231.73,401.45 L232.27,402.04 L232.81,402.62 L233.35,403.18 L233.89,403.74 L234.43,404.3 L234.96,404.84 L235.5,405.37 L236.04,405.9 L236.58,406.42 L237.12,406.93 L237.66,407.44 L238.19,407.94 L238.73,408.43 L239.27,408.92 L239.81,409.4 L240.35,409.88 L240.88,410.35 L241.42,410.81 L241.96,411.27 L242.5,411.73 L243.04,412.18 L243.58,412.63 L244.11,413.08 L244.65,413.52 L245.19,413.95 L245.73,414.39 L246.27,414.82 L246.81,415.25 L247.34,415.67 L247.88,416.09 L248.42,416.51 L248.96,416.93 L249.5,417.34 L250.03,417.75 L250.57,418.16 L251.11,418.57 L251.65,418.98 L252.19,419.38 L252.73,419.78 L253.26,420.18 L253.8,420.58 L254.34,420.98 L254.88,421.38 L255.42,421.77 L255.96,422.17 L256.49,422.57 L257.03,422.96 L257.57,423.36 L258.11,423.75 L258.65,424.15 L259.19,424.55 L259.72,424.95 L260.26,425.34 L260.8,425.74" fill="none" stroke="#1c8f6f" stroke-width="1.6"/>
<path d="M45.5,353.18 L46.04,353.35 L46.58,353.52 L47.11,353.7 L47.65,353.87 L48.19,354.05 L48.73,354.23 L49.27,354.41 L49.81,354.59 L50.34,354.77 L50.88,354.94 L51.42,355.12 L51.96,355.3 L52.5,355.47 L53.04,355.64 L53.57,355.82 L54.11,355.98 L54.65,356.15 L55.19,356.32 L55.73,356.48 L56.27,356.64 L56.8,356.8 L57.34,356.96 L57.88,357.11 L58.42,357.27 L58.96,357.42 L59.49,357.56 L60.03,357.7 L60.57,357.84 L61.11,357.98 L61.65,358.12 L62.19,358.25 L62.72,358.37 L63.26,358.49 L63.8,358.61 L64.34,358.73 L64.88,358.84 L65.42,358.95 L65.95,359.05 L66.49,359.15 L67.03,359.24 L67.57,359.33 L68.11,359.41 L68.64,359.49 L69.18,359.56 L69.72,359.63 L70.26,359.69 L70.8,359.75 L71.34,359.8 L71.87,359.84 L72.41,359.88 L72.95,359.91 L73.49,359.94 L74.03,359.96 L74.57,359.97 L75.1,359.97 L75.64,359.97 L76.18,359.95 L76.72,359.93 L77.26,359.89 L77.8,359.84 L78.33,359.77 L78.87,359.69 L79.41,359.58 L79.95,359.46 L80.49,359.31 L81.02,359.13 L81.56,358.93 L82.1,358.7 L82.64,358.43 L83.18,358.14 L83.72,357.8 L84.25,357.43 L84.79,357.02 L85.33,356.57 L85.87,356.08 L86.41,355.55 L86.95,354.98 L87.48,354.37 L88.02,353.72 L88.56,353.03 L89.1,352.32 L89.64,351.57 L90.17,350.79 L90.71,349.98 L91.25,349.15 L91.79,348.3 L92.33,347.43 L92.87,346.54 L93.4,345.64 L93.94,344.72 L94.48,343.8 L95.02,342.86 L95.56,341.93 L96.1,340.98 L96.63,340.04 L97.17,339.1 L97.71,338.16 L98.25,337.23 L98.79,336.3 L99.33,335.38 L99.86,334.47 L100.4,333.57 L100.94,332.68 L101.48,331.81 L102.02,330.95 L102.55,330.11 L103.09,329.3 L103.63,328.5 L104.17,327.72 L104.71,326.97 L105.25,326.25 L105.78,325.56 L106.32,324.89 L106.86,324.26 L107.4,323.66 L107.94,323.1 L108.48,322.58 L109.01,322.11 L109.55,321.68 L110.09,321.3 L110.63,320.97 L111.17,320.7 L111.7,320.49 L112.24,320.33 L112.78,320.22 L113.32,320.18 L113.86,320.19 L114.4,320.25 L114.93,320.36 L115.47,320.51 L116.01,320.71 L116.55,320.95 L117.09,321.23 L117.63,321.53 L118.16,321.86 L118.7,322.22 L119.24,322.6 L119.78,323 L120.32,323.41 L120.86,323.84 L121.39,324.28 L121.93,324.73 L122.47,325.19 L123.01,325.66 L123.55,326.15 L124.08,326.64 L124.62,327.15 L125.16,327.66 L125.7,328.18 L126.24,328.72 L126.78,329.26 L127.31,329.81 L127.85,330.37 L128.39,330.93 L128.93,331.49 L129.47,332.06 L130.01,332.63 L130.54,333.2 L131.08,333.76 L131.62,334.32 L132.16,334.88 L132.7,335.42 L133.23,335.96 L133.77,336.49 L134.31,337.01 L134.85,337.51 L135.39,338.01 L135.93,338.51 L136.46,338.99 L137,339.46 L137.54,339.93 L138.08,340.4 L138.62,340.86 L139.16,341.32 L139.69,341.78 L140.23,342.23 L140.77,342.69 L141.31,343.15 L141.85,343.61 L142.38,344.07 L142.92,344.53 L143.46,345 L144,345.46 L144.54,345.92 L145.08,346.38 L145.61,346.83 L146.15,347.27 L146.69,347.71 L147.23,348.13 L147.77,348.54 L148.31,348.95 L148.84,349.35 L149.38,349.74 L149.92,350.11 L150.46,350.47 L151,350.82 L151.54,351.15 L152.07,351.47 L152.61,351.78 L153.15,352.07 L153.69,352.35 L154.23,352.62 L154.76,352.88 L155.3,353.13 L155.84,353.37 L156.38,353.6 L156.92,353.82 L157.46,354.04 L157.99,354.26 L158.53,354.47 L159.07,354.68 L159.61,354.9 L160.15,355.11 L160.69,355.32 L161.22,355.53 L161.76,355.75 L162.3,355.96 L162.84,356.18 L163.38,356.4 L163.92,356.62 L164.45,356.84 L164.99,357.06 L165.53,357.29 L166.07,357.51 L166.61,357.73 L167.14,357.95 L167.68,358.17 L168.22,358.38 L168.76,358.6 L169.3,358.81 L169.84,359.02 L170.37,359.23 L170.91,359.43 L171.45,359.63 L171.99,359.83 L172.53,360.03 L173.07,360.23 L173.6,360.43 L174.14,360.62 L174.68,360.82 L175.22,361.02 L175.76,361.22 L176.29,361.43 L176.83,361.64 L177.37,361.85 L177.91,362.07 L178.45,362.3 L178.99,362.53 L179.52,362.77 L180.06,363.01 L180.6,363.26 L181.14,363.52 L181.68,363.79 L182.22,364.06 L182.75,364.34 L183.29,364.62 L183.83,364.91 L184.37,365.21 L184.91,365.51 L185.45,365.81 L185.98,366.12 L186.52,366.43 L187.06,366.74 L187.6,367.05 L188.14,367.37 L188.67,367.69 L189.21,368.01 L189.75,368.32 L190.29,368.64 L190.83,368.96 L191.37,369.28 L191.9,369.6 L192.44,369.92 L192.98,370.24 L193.52,370.56 L194.06,370.89 L194.6,371.21 L195.13,371.53 L195.67,371.86 L196.21,372.19 L196.75,372.52 L197.29,372.85 L197.82,373.19 L198.36,373.53 L198.9,373.87 L199.44,374.21 L199.98,374.56 L200.52,374.91 L201.05,375.27 L201.59,375.63 L202.13,375.99 L202.67,376.35 L203.21,376.72 L203.75,377.09 L204.28,377.46 L204.82,377.84 L205.36,378.22 L205.9,378.6 L206.44,378.98 L206.98,379.37 L207.51,379.75 L208.05,380.14 L208.59,380.52 L209.13,380.91 L209.67,381.3 L210.2,381.69 L210.74,382.07 L211.28,382.46 L211.82,382.85 L212.36,383.23 L212.9,383.61 L213.43,384 L213.97,384.38 L214.51,384.76 L215.05,385.13 L215.59,385.51 L216.13,385.88 L216.66,386.25 L217.2,386.62 L217.74,386.99 L218.28,387.36 L218.82,387.72 L219.35,388.08 L219.89,388.44 L220.43,388.8 L220.97,389.15 L221.51,389.5 L222.05,389.85 L222.58,390.2 L223.12,390.55 L223.66,390.89 L224.2,391.23 L224.74,391.57 L225.28,391.91 L225.81,392.25 L226.35,392.58 L226.89,392.91 L227.43,393.24 L227.97,393.57 L228.5,393.89 L229.04,394.22 L229.58,394.54 L230.12,394.86 L230.66,395.18 L231.2,395.5 L231.73,395.81 L232.27,396.12 L232.81,396.43 L233.35,396.74 L233.89,397.05 L234.43,397.36 L234.96,397.66 L235.5,397.96 L236.04,398.26 L236.58,398.56 L237.12,398.86 L237.66,399.15 L238.19,399.45 L238.73,399.74 L239.27,400.03 L239.81,400.32 L240.35,400.6 L240.88,400.89 L241.42,401.17 L241.96,401.46 L242.5,401.74 L243.04,402.02 L243.58,402.3 L244.11,402.57 L244.65,402.85 L245.19,403.12 L245.73,403.4 L246.27,403.67 L246.81,403.94 L247.34,404.21 L247.88,404.48 L248.42,404.75 L248.96,405.01 L249.5,405.28 L250.03,405.55 L250.57,405.81 L251.11,406.07 L251.65,406.34 L252.19,406.6 L252.73,406.86 L253.26,407.12 L253.8,407.38 L254.34,407.64 L254.88,407.9 L255.42,408.16 L255.96,408.42 L256.49,408.68 L257.03,408.94 L257.57,409.2 L258.11,409.46 L258.65,409.72 L259.19,409.98 L259.72,410.24 L260.26,410.5 L260.8,410.76" fill="none" stroke="#1e88d8" stroke-width="1.6"/>
<path d="M45.5,338.74 L46.04,339.02 L46.58,339.3 L47.11,339.58 L47.65,339.86 L48.19,340.14 L48.73,340.43 L49.27,340.71 L49.81,340.98 L50.34,341.26 L50.88,341.53 L51.42,341.79 L51.96,342.05 L52.5,342.3 L53.04,342.55 L53.57,342.79 L54.11,343.02 L54.65,343.25 L55.19,343.47 L55.73,343.68 L56.27,343.88 L56.8,344.07 L57.34,344.25 L57.88,344.43 L58.42,344.59 L58.96,344.75 L59.49,344.9 L60.03,345.05 L60.57,345.18 L61.11,345.31 L61.65,345.43 L62.19,345.54 L62.72,345.65 L63.26,345.75 L63.8,345.84 L64.34,345.93 L64.88,346.01 L65.42,346.08 L65.95,346.15 L66.49,346.21 L67.03,346.27 L67.57,346.32 L68.11,346.36 L68.64,346.4 L69.18,346.43 L69.72,346.46 L70.26,346.48 L70.8,346.49 L71.34,346.5 L71.87,346.5 L72.41,346.5 L72.95,346.49 L73.49,346.47 L74.03,346.45 L74.57,346.42 L75.1,346.38 L75.64,346.34 L76.18,346.28 L76.72,346.22 L77.26,346.15 L77.8,346.06 L78.33,345.96 L78.87,345.84 L79.41,345.7 L79.95,345.54 L80.49,345.36 L81.02,345.15 L81.56,344.92 L82.1,344.66 L82.64,344.36 L83.18,344.04 L83.72,343.67 L84.25,343.27 L84.79,342.83 L85.33,342.35 L85.87,341.83 L86.41,341.27 L86.95,340.67 L87.48,340.02 L88.02,339.33 L88.56,338.6 L89.1,337.83 L89.64,337.02 L90.17,336.17 L90.71,335.28 L91.25,334.36 L91.79,333.4 L92.33,332.41 L92.87,331.39 L93.4,330.34 L93.94,329.25 L94.48,328.14 L95.02,327 L95.56,325.84 L96.1,324.65 L96.63,323.45 L97.17,322.23 L97.71,321.01 L98.25,319.78 L98.79,318.55 L99.33,317.33 L99.86,316.12 L100.4,314.94 L100.94,313.78 L101.48,312.66 L102.02,311.57 L102.55,310.52 L103.09,309.51 L103.63,308.56 L104.17,307.66 L104.71,306.8 L105.25,306.01 L105.78,305.27 L106.32,304.58 L106.86,303.96 L107.4,303.39 L107.94,302.89 L108.48,302.45 L109.01,302.07 L109.55,301.75 L110.09,301.5 L110.63,301.3 L111.17,301.16 L111.7,301.09 L112.24,301.06 L112.78,301.1 L113.32,301.19 L113.86,301.33 L114.4,301.53 L114.93,301.78 L115.47,302.08 L116.01,302.44 L116.55,302.84 L117.09,303.3 L117.63,303.8 L118.16,304.36 L118.7,304.96 L119.24,305.61 L119.78,306.31 L120.32,307.05 L120.86,307.83 L121.39,308.65 L121.93,309.5 L122.47,310.38 L123.01,311.28 L123.55,312.2 L124.08,313.13 L124.62,314.06 L125.16,315 L125.7,315.93 L126.24,316.86 L126.78,317.79 L127.31,318.71 L127.85,319.62 L128.39,320.52 L128.93,321.42 L129.47,322.31 L130.01,323.2 L130.54,324.08 L131.08,324.95 L131.62,325.83 L132.16,326.69 L132.7,327.55 L133.23,328.41 L133.77,329.27 L134.31,330.13 L134.85,330.98 L135.39,331.84 L135.93,332.68 L136.46,333.53 L137,334.37 L137.54,335.21 L138.08,336.04 L138.62,336.86 L139.16,337.68 L139.69,338.49 L140.23,339.29 L140.77,340.08 L141.31,340.86 L141.85,341.63 L142.38,342.39 L142.92,343.14 L143.46,343.87 L144,344.59 L144.54,345.29 L145.08,345.99 L145.61,346.67 L146.15,347.33 L146.69,347.98 L147.23,348.62 L147.77,349.25 L148.31,349.87 L148.84,350.48 L149.38,351.08 L149.92,351.67 L150.46,352.24 L151,352.8 L151.54,353.35 L152.07,353.89 L152.61,354.42 L153.15,354.94 L153.69,355.45 L154.23,355.96 L154.76,356.45 L155.3,356.94 L155.84,357.43 L156.38,357.9 L156.92,358.38 L157.46,358.85 L157.99,359.32 L158.53,359.78 L159.07,360.25 L159.61,360.71 L160.15,361.17 L160.69,361.63 L161.22,362.09 L161.76,362.55 L162.3,363.01 L162.84,363.47 L163.38,363.94 L163.92,364.4 L164.45,364.86 L164.99,365.33 L165.53,365.79 L166.07,366.26 L166.61,366.72 L167.14,367.19 L167.68,367.65 L168.22,368.12 L168.76,368.58 L169.3,369.04 L169.84,369.51 L170.37,369.97 L170.91,370.43 L171.45,370.9 L171.99,371.36 L172.53,371.82 L173.07,372.28 L173.6,372.74 L174.14,373.2 L174.68,373.66 L175.22,374.12 L175.76,374.59 L176.29,375.05 L176.83,375.51 L177.37,375.97 L177.91,376.44 L178.45,376.9 L178.99,377.37 L179.52,377.84 L180.06,378.31 L180.6,378.78 L181.14,379.25 L181.68,379.72 L182.22,380.2 L182.75,380.68 L183.29,381.16 L183.83,381.64 L184.37,382.12 L184.91,382.6 L185.45,383.09 L185.98,383.57 L186.52,384.06 L187.06,384.55 L187.6,385.04 L188.14,385.53 L188.67,386.02 L189.21,386.51 L189.75,387 L190.29,387.49 L190.83,387.98 L191.37,388.47 L191.9,388.97 L192.44,389.46 L192.98,389.95 L193.52,390.44 L194.06,390.93 L194.6,391.42 L195.13,391.91 L195.67,392.4 L196.21,392.88 L196.75,393.37 L197.29,393.85 L197.82,394.34 L198.36,394.82 L198.9,395.3 L199.44,395.78 L199.98,396.25 L200.52,396.73 L201.05,397.2 L201.59,397.68 L202.13,398.15 L202.67,398.62 L203.21,399.08 L203.75,399.55 L204.28,400.02 L204.82,400.48 L205.36,400.94 L205.9,401.4 L206.44,401.87 L206.98,402.32 L207.51,402.78 L208.05,403.24 L208.59,403.7 L209.13,404.15 L209.67,404.61 L210.2,405.06 L210.74,405.52 L211.28,405.97 L211.82,406.42 L212.36,406.87 L212.9,407.32 L213.43,407.76 L213.97,408.21 L214.51,408.65 L215.05,409.1 L215.59,409.54 L216.13,409.98 L216.66,410.41 L217.2,410.85 L217.74,411.28 L218.28,411.71 L218.82,412.14 L219.35,412.56 L219.89,412.98 L220.43,413.4 L220.97,413.82 L221.51,414.23 L222.05,414.63 L222.58,415.04 L223.12,415.44 L223.66,415.83 L224.2,416.22 L224.74,416.61 L225.28,416.99 L225.81,417.36 L226.35,417.73 L226.89,418.1 L227.43,418.46 L227.97,418.81 L228.5,419.16 L229.04,419.51 L229.58,419.85 L230.12,420.18 L230.66,420.51 L231.2,420.83 L231.73,421.15 L232.27,421.46 L232.81,421.76 L233.35,422.06 L233.89,422.36 L234.43,422.65 L234.96,422.94 L235.5,423.22 L236.04,423.5 L236.58,423.77 L237.12,424.04 L237.66,424.3 L238.19,424.56 L238.73,424.82 L239.27,425.08 L239.81,425.33 L240.35,425.57 L240.88,425.82 L241.42,426.06 L241.96,426.3 L242.5,426.53 L243.04,426.76 L243.58,426.99 L244.11,427.22 L244.65,427.45 L245.19,427.67 L245.73,427.89 L246.27,428.11 L246.81,428.33 L247.34,428.55 L247.88,428.76 L248.42,428.98 L248.96,429.19 L249.5,429.4 L250.03,429.6 L250.57,429.81 L251.11,430.02 L251.65,430.22 L252.19,430.42 L252.73,430.63 L253.26,430.83 L253.8,431.03 L254.34,431.23 L254.88,431.43 L255.42,431.63 L255.96,431.83 L256.49,432.02 L257.03,432.22 L257.57,432.42 L258.11,432.62 L258.65,432.82 L259.19,433.02 L259.72,433.22 L260.26,433.42 L260.8,433.62" fill="none" stroke="#4a4a4a" stroke-width="1.6"/>
<path d="M45.5,345.99 L46.04,346.15 L46.58,346.31 L47.11,346.47 L47.65,346.63 L48.19,346.8 L48.73,346.96 L49.27,347.13 L49.81,347.3 L50.34,347.46 L50.88,347.63 L51.42,347.79 L51.96,347.96 L52.5,348.12 L53.04,348.28 L53.57,348.43 L54.11,348.59 L54.65,348.74 L55.19,348.89 L55.73,349.04 L56.27,349.19 L56.8,349.33 L57.34,349.47 L57.88,349.61 L58.42,349.74 L58.96,349.87 L59.49,350 L60.03,350.12 L60.57,350.24 L61.11,350.36 L61.65,350.47 L62.19,350.58 L62.72,350.68 L63.26,350.78 L63.8,350.87 L64.34,350.96 L64.88,351.05 L65.42,351.13 L65.95,351.2 L66.49,351.27 L67.03,351.33 L67.57,351.39 L68.11,351.45 L68.64,351.5 L69.18,351.54 L69.72,351.58 L70.26,351.62 L70.8,351.65 L71.34,351.68 L71.87,351.7 L72.41,351.72 L72.95,351.73 L73.49,351.74 L74.03,351.75 L74.57,351.75 L75.1,351.74 L75.64,351.73 L76.18,351.71 L76.72,351.69 L77.26,351.65 L77.8,351.61 L78.33,351.55 L78.87,351.47 L79.41,351.38 L79.95,351.26 L80.49,351.13 L81.02,350.96 L81.56,350.77 L82.1,350.55 L82.64,350.3 L83.18,350.02 L83.72,349.69 L84.25,349.33 L84.79,348.92 L85.33,348.48 L85.87,347.99 L86.41,347.45 L86.95,346.87 L87.48,346.24 L88.02,345.57 L88.56,344.86 L89.1,344.1 L89.64,343.29 L90.17,342.45 L90.71,341.57 L91.25,340.64 L91.79,339.68 L92.33,338.68 L92.87,337.64 L93.4,336.56 L93.94,335.45 L94.48,334.31 L95.02,333.14 L95.56,331.94 L96.1,330.71 L96.63,329.46 L97.17,328.18 L97.71,326.89 L98.25,325.6 L98.79,324.29 L99.33,322.98 L99.86,321.68 L100.4,320.39 L100.94,319.12 L101.48,317.87 L102.02,316.64 L102.55,315.45 L103.09,314.29 L103.63,313.18 L104.17,312.11 L104.71,311.09 L105.25,310.12 L105.78,309.21 L106.32,308.36 L106.86,307.58 L107.4,306.86 L107.94,306.22 L108.48,305.65 L109.01,305.16 L109.55,304.76 L110.09,304.44 L110.63,304.21 L111.17,304.07 L111.7,304.02 L112.24,304.06 L112.78,304.19 L113.32,304.41 L113.86,304.71 L114.4,305.08 L114.93,305.53 L115.47,306.04 L116.01,306.61 L116.55,307.23 L117.09,307.89 L117.63,308.59 L118.16,309.32 L118.7,310.08 L119.24,310.85 L119.78,311.63 L120.32,312.43 L120.86,313.23 L121.39,314.04 L121.93,314.85 L122.47,315.68 L123.01,316.53 L123.55,317.39 L124.08,318.27 L124.62,319.18 L125.16,320.12 L125.7,321.08 L126.24,322.08 L126.78,323.11 L127.31,324.17 L127.85,325.25 L128.39,326.36 L128.93,327.49 L129.47,328.65 L130.01,329.82 L130.54,331.01 L131.08,332.21 L131.62,333.42 L132.16,334.65 L132.7,335.88 L133.23,337.1 L133.77,338.33 L134.31,339.55 L134.85,340.76 L135.39,341.97 L135.93,343.17 L136.46,344.35 L137,345.53 L137.54,346.7 L138.08,347.85 L138.62,349 L139.16,350.13 L139.69,351.25 L140.23,352.35 L140.77,353.44 L141.31,354.51 L141.85,355.57 L142.38,356.61 L142.92,357.64 L143.46,358.65 L144,359.64 L144.54,360.61 L145.08,361.55 L145.61,362.48 L146.15,363.39 L146.69,364.27 L147.23,365.13 L147.77,365.97 L148.31,366.81 L148.84,367.62 L149.38,368.42 L149.92,369.19 L150.46,369.94 L151,370.66 L151.54,371.37 L152.07,372.06 L152.61,372.73 L153.15,373.37 L153.69,374.01 L154.23,374.62 L154.76,375.22 L155.3,375.81 L155.84,376.38 L156.38,376.95 L156.92,377.5 L157.46,378.04 L157.99,378.58 L158.53,379.11 L159.07,379.63 L159.61,380.15 L160.15,380.67 L160.69,381.18 L161.22,381.69 L161.76,382.2 L162.3,382.7 L162.84,383.21 L163.38,383.71 L163.92,384.21 L164.45,384.7 L164.99,385.2 L165.53,385.69 L166.07,386.17 L166.61,386.66 L167.14,387.14 L167.68,387.62 L168.22,388.09 L168.76,388.55 L169.3,389.01 L169.84,389.47 L170.37,389.92 L170.91,390.37 L171.45,390.8 L171.99,391.24 L172.53,391.67 L173.07,392.09 L173.6,392.51 L174.14,392.92 L174.68,393.33 L175.22,393.74 L175.76,394.14 L176.29,394.54 L176.83,394.94 L177.37,395.34 L177.91,395.73 L178.45,396.13 L178.99,396.52 L179.52,396.91 L180.06,397.3 L180.6,397.69 L181.14,398.08 L181.68,398.48 L182.22,398.87 L182.75,399.26 L183.29,399.66 L183.83,400.05 L184.37,400.45 L184.91,400.84 L185.45,401.24 L185.98,401.64 L186.52,402.03 L187.06,402.43 L187.6,402.83 L188.14,403.22 L188.67,403.62 L189.21,404.02 L189.75,404.41 L190.29,404.8 L190.83,405.2 L191.37,405.59 L191.9,405.97 L192.44,406.36 L192.98,406.75 L193.52,407.13 L194.06,407.51 L194.6,407.88 L195.13,408.26 L195.67,408.63 L196.21,408.99 L196.75,409.35 L197.29,409.71 L197.82,410.07 L198.36,410.42 L198.9,410.77 L199.44,411.11 L199.98,411.45 L200.52,411.79 L201.05,412.12 L201.59,412.45 L202.13,412.77 L202.67,413.09 L203.21,413.41 L203.75,413.73 L204.28,414.04 L204.82,414.34 L205.36,414.65 L205.9,414.95 L206.44,415.25 L206.98,415.55 L207.51,415.85 L208.05,416.15 L208.59,416.44 L209.13,416.73 L209.67,417.02 L210.2,417.31 L210.74,417.6 L211.28,417.89 L211.82,418.18 L212.36,418.47 L212.9,418.76 L213.43,419.04 L213.97,419.33 L214.51,419.62 L215.05,419.9 L215.59,420.19 L216.13,420.47 L216.66,420.76 L217.2,421.04 L217.74,421.32 L218.28,421.6 L218.82,421.89 L219.35,422.17 L219.89,422.45 L220.43,422.72 L220.97,423 L221.51,423.28 L222.05,423.56 L222.58,423.83 L223.12,424.1 L223.66,424.37 L224.2,424.64 L224.74,424.91 L225.28,425.18 L225.81,425.45 L226.35,425.71 L226.89,425.97 L227.43,426.23 L227.97,426.49 L228.5,426.75 L229.04,427 L229.58,427.26 L230.12,427.51 L230.66,427.76 L231.2,428 L231.73,428.25 L232.27,428.49 L232.81,428.73 L233.35,428.97 L233.89,429.2 L234.43,429.43 L234.96,429.66 L235.5,429.89 L236.04,430.12 L236.58,430.34 L237.12,430.57 L237.66,430.78 L238.19,431 L238.73,431.22 L239.27,431.43 L239.81,431.64 L240.35,431.85 L240.88,432.05 L241.42,432.26 L241.96,432.46 L242.5,432.66 L243.04,432.86 L243.58,433.05 L244.11,433.25 L244.65,433.44 L245.19,433.63 L245.73,433.82 L246.27,434 L246.81,434.19 L247.34,434.37 L247.88,434.55 L248.42,434.73 L248.96,434.91 L249.5,435.09 L250.03,435.26 L250.57,435.44 L251.11,435.61 L251.65,435.79 L252.19,435.96 L252.73,436.13 L253.26,436.3 L253.8,436.47 L254.34,436.64 L254.88,436.8 L255.42,436.97 L255.96,437.14 L256.49,437.31 L257.03,437.47 L257.57,437.64 L258.11,437.81 L258.65,437.98 L259.19,438.14 L259.72,438.31 L260.26,438.48 L260.8,438.65" fill="none" stroke="#ea1f79" stroke-width="1.6"/>
<g fill="#111">
<line x1="206.7" y1="292" x2="227.6" y2="292" stroke="#4a4a4a" stroke-width="1.8"/>
<text x="229.5" y="295.2" font-size="9" text-anchor="start" style="stroke-width:0.08px" >0 M</text>
<line x1="206.7" y1="303.3" x2="227.6" y2="303.3" stroke="#ea1f79" stroke-width="1.8"/>
<text x="229.5" y="306.5" font-size="9" text-anchor="start" style="stroke-width:0.08px" >0.05 M</text>
<line x1="206.7" y1="314.6" x2="227.6" y2="314.6" stroke="#1e88d8" stroke-width="1.8"/>
<text x="229.5" y="317.8" font-size="9" text-anchor="start" style="stroke-width:0.08px" >0.1 M</text>
<line x1="206.7" y1="325.9" x2="227.6" y2="325.9" stroke="#1c8f6f" stroke-width="1.8"/>
<text x="229.5" y="329.1" font-size="9" text-anchor="start" style="stroke-width:0.08px" >0.15 M</text>
<line x1="206.7" y1="337.2" x2="227.6" y2="337.2" stroke="#c39ade" stroke-width="1.8"/>
<text x="229.5" y="340.4" font-size="9" text-anchor="start" style="stroke-width:0.08px" >0.2 M</text>
</g>
<line x1="195.5" y1="320.2" x2="182" y2="331.5" stroke="#333" stroke-width="0.8"/>
<path d="M179.4,333.7 L181.2,328.9 L184.2,332.5 Z" fill="#222"/>
<g filter="url(#blr)">
<rect x="59.1" y="408.2" width="100" height="30.5" fill="#e3e5e3"/>
<path d="M61.05,408.2 L73.75,408.2 L73.35,414 L61.45,414 Z" fill="#eeeeec"/>
<defs><linearGradient id="gc0" x1="0" y1="0" x2="1" y2="0"><stop offset="0" stop-color="#c46a82"/><stop offset="0.5" stop-color="#dea2b2"/><stop offset="1" stop-color="#c46a82"/></linearGradient><linearGradient id="gc0v" x1="0" y1="0" x2="0" y2="1"><stop offset="0" stop-color="#fff" stop-opacity="0"/><stop offset="0.55" stop-color="#fff" stop-opacity="0.08"/><stop offset="1" stop-color="#fff" stop-opacity="0.38"/></linearGradient></defs>
<path d="M61.65,414 L73.15,414 L69.4,434.7 Q67.4,437.1 65.4,434.7 Z" fill="url(#gc0)"/>
<path d="M61.65,414 L73.15,414 L69.4,434.7 Q67.4,437.1 65.4,434.7 Z" fill="url(#gc0v)"/>
<path d="M61.65,413.8 Q67.4,416.2 73.15,413.8" stroke="#8e3a50" stroke-width="1.4" fill="none"/>
<path d="M81.65,408.2 L94.35,408.2 L93.95,414 L82.05,414 Z" fill="#eeeeec"/>
<defs><linearGradient id="gc1" x1="0" y1="0" x2="1" y2="0"><stop offset="0" stop-color="#d0688a"/><stop offset="0.5" stop-color="#eaaabb"/><stop offset="1" stop-color="#d0688a"/></linearGradient><linearGradient id="gc1v" x1="0" y1="0" x2="0" y2="1"><stop offset="0" stop-color="#fff" stop-opacity="0"/><stop offset="0.55" stop-color="#fff" stop-opacity="0.08"/><stop offset="1" stop-color="#fff" stop-opacity="0.38"/></linearGradient></defs>
<path d="M82.25,414 L93.75,414 L90,434.7 Q88,437.1 86,434.7 Z" fill="url(#gc1)"/>
<path d="M82.25,414 L93.75,414 L90,434.7 Q88,437.1 86,434.7 Z" fill="url(#gc1v)"/>
<path d="M82.25,413.8 Q88,416.2 93.75,413.8" stroke="#a04062" stroke-width="1.4" fill="none"/>
<path d="M102.25,408.2 L114.95,408.2 L114.55,414 L102.65,414 Z" fill="#eeeeec"/>
<defs><linearGradient id="gc2" x1="0" y1="0" x2="1" y2="0"><stop offset="0" stop-color="#d06a8e"/><stop offset="0.5" stop-color="#eaaabe"/><stop offset="1" stop-color="#d06a8e"/></linearGradient><linearGradient id="gc2v" x1="0" y1="0" x2="0" y2="1"><stop offset="0" stop-color="#fff" stop-opacity="0"/><stop offset="0.55" stop-color="#fff" stop-opacity="0.08"/><stop offset="1" stop-color="#fff" stop-opacity="0.38"/></linearGradient></defs>
<path d="M102.85,414 L114.35,414 L110.6,434.7 Q108.6,437.1 106.6,434.7 Z" fill="url(#gc2)"/>
<path d="M102.85,414 L114.35,414 L110.6,434.7 Q108.6,437.1 106.6,434.7 Z" fill="url(#gc2v)"/>
<path d="M102.85,413.8 Q108.6,416.2 114.35,413.8" stroke="#a04066" stroke-width="1.4" fill="none"/>
<path d="M122.25,408.2 L134.95,408.2 L134.55,414 L122.65,414 Z" fill="#eeeeec"/>
<defs><linearGradient id="gc3" x1="0" y1="0" x2="1" y2="0"><stop offset="0" stop-color="#4c4b86"/><stop offset="0.5" stop-color="#8c8ab4"/><stop offset="1" stop-color="#4c4b86"/></linearGradient><linearGradient id="gc3v" x1="0" y1="0" x2="0" y2="1"><stop offset="0" stop-color="#fff" stop-opacity="0"/><stop offset="0.55" stop-color="#fff" stop-opacity="0.08"/><stop offset="1" stop-color="#fff" stop-opacity="0.38"/></linearGradient></defs>
<path d="M122.85,414 L134.35,414 L130.6,434.7 Q128.6,437.1 126.6,434.7 Z" fill="url(#gc3)"/>
<path d="M122.85,414 L134.35,414 L130.6,434.7 Q128.6,437.1 126.6,434.7 Z" fill="url(#gc3v)"/>
<path d="M122.85,413.8 Q128.6,416.2 134.35,413.8" stroke="#33326a" stroke-width="1.4" fill="none"/>
<path d="M142.25,408.2 L154.95,408.2 L154.55,414 L142.65,414 Z" fill="#eeeeec"/>
<defs><linearGradient id="gc4" x1="0" y1="0" x2="1" y2="0"><stop offset="0" stop-color="#6d6aa0"/><stop offset="0.5" stop-color="#a8a6ca"/><stop offset="1" stop-color="#6d6aa0"/></linearGradient><linearGradient id="gc4v" x1="0" y1="0" x2="0" y2="1"><stop offset="0" stop-color="#fff" stop-opacity="0"/><stop offset="0.55" stop-color="#fff" stop-opacity="0.08"/><stop offset="1" stop-color="#fff" stop-opacity="0.38"/></linearGradient></defs>
<path d="M142.85,414 L154.35,414 L150.6,434.7 Q148.6,437.1 146.6,434.7 Z" fill="url(#gc4)"/>
<path d="M142.85,414 L154.35,414 L150.6,434.7 Q148.6,437.1 146.6,434.7 Z" fill="url(#gc4v)"/>
<path d="M142.85,413.8 Q148.6,416.2 154.35,413.8" stroke="#4e4b82" stroke-width="1.4" fill="none"/>
</g>
<g fill="#333">
<text x="67.4" y="407.3" font-size="5.6" text-anchor="middle" style="stroke-width:0.05px" >0 M</text>
<text x="88" y="407.3" font-size="5.6" text-anchor="middle" style="stroke-width:0.05px" >0.05 M</text>
<text x="108.6" y="407.3" font-size="5.6" text-anchor="middle" style="stroke-width:0.05px" >0.1 M</text>
<text x="128.6" y="407.3" font-size="5.6" text-anchor="middle" style="stroke-width:0.05px" >0.15 M</text>
<text x="148.6" y="407.3" font-size="5.6" text-anchor="middle" style="stroke-width:0.05px" >0.2 M</text>
</g>
<line x1="317.8" y1="279.8" x2="317.8" y2="456.7" stroke="#111" stroke-width="1.5"/>
<line x1="317.2" y1="456.1" x2="536.55" y2="456.1" stroke="#111" stroke-width="1.5"/>
<g fill="#111">
<line x1="314.8" y1="456.1" x2="317.8" y2="456.1" stroke="#111" stroke-width="1.2"/>
<text x="311.8" y="459.3" font-size="9.2" text-anchor="end" style="stroke-width:0px" >0</text>
<line x1="314.8" y1="426.72" x2="317.8" y2="426.72" stroke="#111" stroke-width="1.2"/>
<text x="311.8" y="429.92" font-size="9.2" text-anchor="end" style="stroke-width:0px" >2</text>
<line x1="314.8" y1="397.33" x2="317.8" y2="397.33" stroke="#111" stroke-width="1.2"/>
<text x="311.8" y="400.53" font-size="9.2" text-anchor="end" style="stroke-width:0px" >4</text>
<line x1="314.8" y1="367.95" x2="317.8" y2="367.95" stroke="#111" stroke-width="1.2"/>
<text x="311.8" y="371.15" font-size="9.2" text-anchor="end" style="stroke-width:0px" >6</text>
<line x1="314.8" y1="338.57" x2="317.8" y2="338.57" stroke="#111" stroke-width="1.2"/>
<text x="311.8" y="341.77" font-size="9.2" text-anchor="end" style="stroke-width:0px" >8</text>
<line x1="314.8" y1="309.18" x2="317.8" y2="309.18" stroke="#111" stroke-width="1.2"/>
<text x="311.8" y="312.38" font-size="9.2" text-anchor="end" style="stroke-width:0px" >10</text>
<line x1="314.8" y1="279.8" x2="317.8" y2="279.8" stroke="#111" stroke-width="1.2"/>
<text x="311.8" y="283" font-size="9.2" text-anchor="end" style="stroke-width:0px" >12</text>
<line x1="317.8" y1="441.41" x2="316.3" y2="441.41" stroke="#111" stroke-width="1"/>
<line x1="317.8" y1="412.03" x2="316.3" y2="412.03" stroke="#111" stroke-width="1"/>
<line x1="317.8" y1="382.64" x2="316.3" y2="382.64" stroke="#111" stroke-width="1"/>
<line x1="317.8" y1="353.26" x2="316.3" y2="353.26" stroke="#111" stroke-width="1"/>
<line x1="317.8" y1="323.88" x2="316.3" y2="323.88" stroke="#111" stroke-width="1"/>
<line x1="317.8" y1="294.49" x2="316.3" y2="294.49" stroke="#111" stroke-width="1"/>
<line x1="339.68" y1="456.1" x2="339.68" y2="459.1" stroke="#111" stroke-width="1.2"/>
<text x="339.68" y="469" font-size="9.2" text-anchor="middle" style="stroke-width:0px" >4</text>
<line x1="383.43" y1="456.1" x2="383.43" y2="459.1" stroke="#111" stroke-width="1.2"/>
<text x="383.43" y="469" font-size="9.2" text-anchor="middle" style="stroke-width:0px" >5</text>
<line x1="427.18" y1="456.1" x2="427.18" y2="459.1" stroke="#111" stroke-width="1.2"/>
<text x="427.18" y="469" font-size="9.2" text-anchor="middle" style="stroke-width:0px" >6</text>
<line x1="470.93" y1="456.1" x2="470.93" y2="459.1" stroke="#111" stroke-width="1.2"/>
<text x="470.93" y="469" font-size="9.2" text-anchor="middle" style="stroke-width:0px" >7</text>
<line x1="514.67" y1="456.1" x2="514.67" y2="459.1" stroke="#111" stroke-width="1.2"/>
<text x="514.67" y="469" font-size="9.2" text-anchor="middle" style="stroke-width:0px" >8</text>
<line x1="317.8" y1="456.1" x2="317.8" y2="457.9" stroke="#111" stroke-width="1"/>
<line x1="361.55" y1="456.1" x2="361.55" y2="457.9" stroke="#111" stroke-width="1"/>
<line x1="405.3" y1="456.1" x2="405.3" y2="457.9" stroke="#111" stroke-width="1"/>
<line x1="449.05" y1="456.1" x2="449.05" y2="457.9" stroke="#111" stroke-width="1"/>
<line x1="492.8" y1="456.1" x2="492.8" y2="457.9" stroke="#111" stroke-width="1"/>
<line x1="536.55" y1="456.1" x2="536.55" y2="457.9" stroke="#111" stroke-width="1"/>
<text x="428.3" y="483.6" font-size="13.3" text-anchor="middle" style="stroke-width:0.1px" >pH</text>
<text transform="translate(297.8,352) rotate(-90)" font-size="13.3" text-anchor="middle" style="stroke-width:0.1px">A<tspan font-size="8.5" dy="3">527</tspan><tspan dy="-3">/A</tspan><tspan font-size="8.5" dy="3">700</tspan></text>
</g>
<rect x="336.98" y="440.86" width="5.4" height="5.8" fill="#ee1480"/>
<line x1="337.88" y1="442.26" x2="341.48" y2="442.26" stroke="#111" stroke-width="1.1"/>
<line x1="337.88" y1="445.26" x2="341.48" y2="445.26" stroke="#111" stroke-width="1.1"/>
<rect x="358.85" y="440.57" width="5.4" height="5.8" fill="#ee1480"/>
<line x1="359.75" y1="441.97" x2="363.35" y2="441.97" stroke="#111" stroke-width="1.1"/>
<line x1="359.75" y1="444.97" x2="363.35" y2="444.97" stroke="#111" stroke-width="1.1"/>
<rect x="380.73" y="439.24" width="5.4" height="5.8" fill="#ee1480"/>
<line x1="381.62" y1="440.64" x2="385.23" y2="440.64" stroke="#111" stroke-width="1.1"/>
<line x1="381.62" y1="443.64" x2="385.23" y2="443.64" stroke="#111" stroke-width="1.1"/>
<rect x="402.6" y="437.48" width="5.4" height="5.8" fill="#ee1480"/>
<line x1="403.5" y1="438.88" x2="407.1" y2="438.88" stroke="#111" stroke-width="1.1"/>
<line x1="403.5" y1="441.88" x2="407.1" y2="441.88" stroke="#111" stroke-width="1.1"/>
<rect x="424.48" y="434.69" width="5.4" height="5.8" fill="#ee1480"/>
<line x1="425.38" y1="436.09" x2="428.98" y2="436.09" stroke="#111" stroke-width="1.1"/>
<line x1="425.38" y1="439.09" x2="428.98" y2="439.09" stroke="#111" stroke-width="1.1"/>
<rect x="446.35" y="403.84" width="5.4" height="5.8" fill="#ee1480"/>
<line x1="447.25" y1="405.24" x2="450.85" y2="405.24" stroke="#111" stroke-width="1.1"/>
<line x1="447.25" y1="408.24" x2="450.85" y2="408.24" stroke="#111" stroke-width="1.1"/>
<rect x="468.23" y="384.59" width="5.4" height="5.8" fill="#ee1480"/>
<line x1="469.12" y1="385.99" x2="472.73" y2="385.99" stroke="#111" stroke-width="1.1"/>
<line x1="469.12" y1="388.99" x2="472.73" y2="388.99" stroke="#111" stroke-width="1.1"/>
<rect x="490.1" y="349.33" width="5.4" height="5.8" fill="#ee1480"/>
<line x1="491" y1="350.73" x2="494.6" y2="350.73" stroke="#111" stroke-width="1.1"/>
<line x1="491" y1="353.73" x2="494.6" y2="353.73" stroke="#111" stroke-width="1.1"/>
<rect x="511.97" y="295.26" width="5.4" height="5.8" fill="#ee1480"/>
<line x1="512.88" y1="296.66" x2="516.47" y2="296.66" stroke="#111" stroke-width="1.1"/>
<line x1="512.88" y1="299.66" x2="516.47" y2="299.66" stroke="#111" stroke-width="1.1"/>
<rect x="337.7" y="296.4" width="104" height="83.4" fill="none" stroke="#111" stroke-width="1"/>
<g fill="#222" font-weight="bold">
<line x1="336.2" y1="379.8" x2="337.7" y2="379.8" stroke="#111" stroke-width="0.8"/>
<text x="335.2" y="381.7" font-size="5.4" text-anchor="end" style="stroke-width:0.15px" >0</text>
<line x1="336.2" y1="365.9" x2="337.7" y2="365.9" stroke="#111" stroke-width="0.8"/>
<text x="335.2" y="367.8" font-size="5.4" text-anchor="end" style="stroke-width:0.15px" >2</text>
<line x1="336.2" y1="352" x2="337.7" y2="352" stroke="#111" stroke-width="0.8"/>
<text x="335.2" y="353.9" font-size="5.4" text-anchor="end" style="stroke-width:0.15px" >4</text>
<line x1="336.2" y1="338.1" x2="337.7" y2="338.1" stroke="#111" stroke-width="0.8"/>
<text x="335.2" y="340" font-size="5.4" text-anchor="end" style="stroke-width:0.15px" >6</text>
<line x1="336.2" y1="324.2" x2="337.7" y2="324.2" stroke="#111" stroke-width="0.8"/>
<text x="335.2" y="326.1" font-size="5.4" text-anchor="end" style="stroke-width:0.15px" >8</text>
<line x1="336.2" y1="310.3" x2="337.7" y2="310.3" stroke="#111" stroke-width="0.8"/>
<text x="335.2" y="312.2" font-size="5.4" text-anchor="end" style="stroke-width:0.15px" >10</text>
<line x1="336.2" y1="296.4" x2="337.7" y2="296.4" stroke="#111" stroke-width="0.8"/>
<text x="335.2" y="298.3" font-size="5.4" text-anchor="end" style="stroke-width:0.15px" >12</text>
<line x1="348.8" y1="379.8" x2="348.8" y2="381.3" stroke="#111" stroke-width="0.8"/>
<text x="348.8" y="387.2" font-size="5.4" text-anchor="middle" style="stroke-width:0.15px" >6.0</text>
<line x1="369.5" y1="379.8" x2="369.5" y2="381.3" stroke="#111" stroke-width="0.8"/>
<text x="369.5" y="387.2" font-size="5.4" text-anchor="middle" style="stroke-width:0.15px" >6.5</text>
<line x1="390.2" y1="379.8" x2="390.2" y2="381.3" stroke="#111" stroke-width="0.8"/>
<text x="390.2" y="387.2" font-size="5.4" text-anchor="middle" style="stroke-width:0.15px" >7.0</text>
<line x1="410.9" y1="379.8" x2="410.9" y2="381.3" stroke="#111" stroke-width="0.8"/>
<text x="410.9" y="387.2" font-size="5.4" text-anchor="middle" style="stroke-width:0.15px" >7.5</text>
<line x1="431.6" y1="379.8" x2="431.6" y2="381.3" stroke="#111" stroke-width="0.8"/>
<text x="431.6" y="387.2" font-size="5.4" text-anchor="middle" style="stroke-width:0.15px" >8.0</text>
</g>
<line x1="348.8" y1="372.85" x2="431.6" y2="308.21" stroke="#ee3f8a" stroke-width="1"/>
<rect x="347.8" y="369.9" width="2" height="2" fill="#111"/>
<rect x="368.5" y="355.73" width="2" height="2" fill="#111"/>
<rect x="389.2" y="346.41" width="2" height="2" fill="#111"/>
<rect x="409.9" y="329.66" width="2" height="2" fill="#111"/>
<rect x="430.6" y="303.88" width="2" height="2" fill="#111"/>
</svg></body></html>
